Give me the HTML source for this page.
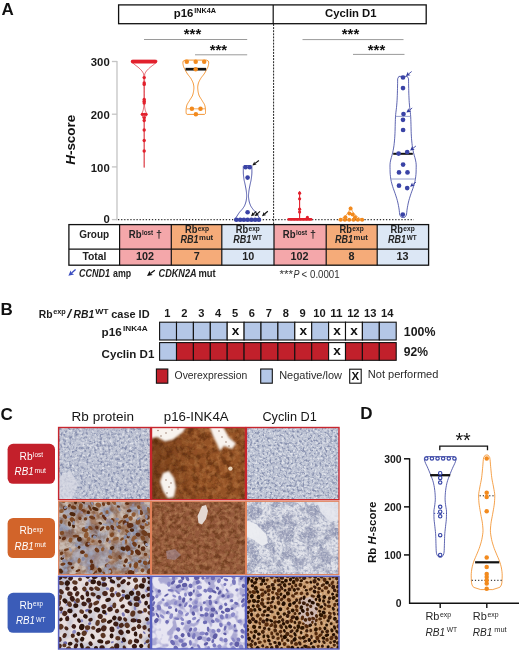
<!DOCTYPE html>
<html lang="en">
<head>
<meta charset="utf-8">
<title>Figure: p16INK4A and Cyclin D1 H-scores by Rb group</title>
<style>
html,body{margin:0;padding:0;background:#fff;}
body{width:520px;height:650px;overflow:hidden;}
svg{display:block;font-family:"Liberation Sans", Arial, sans-serif;}
</style>
</head>
<body>
<svg width="520" height="650" viewBox="0 0 520 650">
<rect x="0" y="0" width="520" height="650" fill="#ffffff"/>
<text x="1.5" y="15.0" font-size="17" font-weight="bold" font-style="normal" fill="#111" text-anchor="start">A</text>
<rect x="118.6" y="4.9" width="307.6" height="18.8" fill="#fff" stroke="#111" stroke-width="1.3"/>
<line x1="273.2" y1="5" x2="273.2" y2="24" stroke="#111" stroke-width="1.2"/>
<text x="173.8" y="17.0" font-size="11.6" font-weight="bold" font-style="normal" fill="#111" text-anchor="start" textLength="19.6" lengthAdjust="spacingAndGlyphs">p16</text>
<text x="194.3" y="13.2" font-size="7.2" font-weight="bold" font-style="normal" fill="#111" text-anchor="start" textLength="21.8" lengthAdjust="spacingAndGlyphs">INK4A</text>
<text x="325.0" y="16.9" font-size="11.6" font-weight="bold" font-style="normal" fill="#111" text-anchor="start" textLength="51.6" lengthAdjust="spacingAndGlyphs">Cyclin D1</text>
<line x1="273.6" y1="24" x2="273.6" y2="225" stroke="#222" stroke-width="1" stroke-dasharray="2,1.1"/>
<line x1="144" y1="39.5" x2="247.2" y2="39.5" stroke="#9a9a9a" stroke-width="1"/>
<line x1="195" y1="54.8" x2="247.2" y2="54.8" stroke="#9a9a9a" stroke-width="1"/>
<line x1="302.5" y1="39.6" x2="403.5" y2="39.6" stroke="#9a9a9a" stroke-width="1"/>
<line x1="353" y1="54.4" x2="404.5" y2="54.4" stroke="#9a9a9a" stroke-width="1"/>
<text x="183.8" y="39.2" font-size="14" font-weight="bold" font-style="normal" fill="#111" text-anchor="start" textLength="17.4" lengthAdjust="spacingAndGlyphs">***</text>
<text x="209.7" y="54.5" font-size="14" font-weight="bold" font-style="normal" fill="#111" text-anchor="start" textLength="17.4" lengthAdjust="spacingAndGlyphs">***</text>
<text x="341.8" y="39.2" font-size="14" font-weight="bold" font-style="normal" fill="#111" text-anchor="start" textLength="17.4" lengthAdjust="spacingAndGlyphs">***</text>
<text x="367.8" y="54.5" font-size="14" font-weight="bold" font-style="normal" fill="#111" text-anchor="start" textLength="17.4" lengthAdjust="spacingAndGlyphs">***</text>
<line x1="117.0" y1="60.9" x2="117.0" y2="220.2" stroke="#c4c4c4" stroke-width="1.3"/>
<line x1="111.9" y1="61.50" x2="117.0" y2="61.50" stroke="#c4c4c4" stroke-width="1.3"/>
<text x="109.7" y="66.2" font-size="11.3" font-weight="bold" font-style="normal" fill="#1a1a1a" text-anchor="end">300</text>
<line x1="111.9" y1="114.20" x2="117.0" y2="114.20" stroke="#c4c4c4" stroke-width="1.3"/>
<text x="109.7" y="118.9" font-size="11.3" font-weight="bold" font-style="normal" fill="#1a1a1a" text-anchor="end">200</text>
<line x1="111.9" y1="166.90" x2="117.0" y2="166.90" stroke="#c4c4c4" stroke-width="1.3"/>
<text x="109.7" y="171.6" font-size="11.3" font-weight="bold" font-style="normal" fill="#1a1a1a" text-anchor="end">100</text>
<line x1="111.9" y1="219.60" x2="117.0" y2="219.60" stroke="#c4c4c4" stroke-width="1.3"/>
<text x="109.7" y="223.2" font-size="11.3" font-weight="bold" font-style="normal" fill="#1a1a1a" text-anchor="end">0</text>
<line x1="118" y1="219.60" x2="414" y2="219.60" stroke="#333" stroke-width="1.25" stroke-dasharray="1.3,1.78"/>
<text transform="translate(75.3,139.8) rotate(-90)" font-size="13.4" font-weight="bold" fill="#111" text-anchor="middle"><tspan font-style="italic">H</tspan>-score</text>
<path d="M156.80,60.30 L156.80,61.07 L156.72,61.84 L156.09,62.61 L155.14,63.38 L154.23,64.16 L153.30,64.93 L152.29,65.70 L151.26,66.47 L150.27,67.24 L149.39,68.01 L148.58,68.78 L147.80,69.55 L147.06,70.33 L146.41,71.10 L145.88,71.87 L145.42,72.64 L145.00,73.41 L144.73,74.18 L144.69,74.95 L144.68,75.72 L144.66,76.50 L144.65,77.27 L144.63,78.04 L144.62,78.81 L144.61,79.58 L144.60,80.35 L144.59,81.12 L144.58,81.89 L144.57,82.67 L144.56,83.44 L144.56,84.21 L144.55,84.98 L144.54,85.75 L144.54,86.52 L144.53,87.29 L144.53,88.06 L144.52,88.84 L144.52,89.61 L144.52,90.38 L144.51,91.15 L144.51,91.92 L144.51,92.69 L144.51,93.46 L144.50,94.23 L144.50,95.01 L144.50,95.78 L144.50,96.55 L144.50,97.32 L144.50,98.09 L144.50,98.86 L144.50,99.63 L144.50,100.40 L144.50,101.17 L144.51,101.95 L144.52,102.72 L144.54,103.49 L144.55,104.26 L144.57,105.03 L144.59,105.80 L144.63,106.57 L144.72,107.34 L144.84,108.12 L144.98,108.89 L145.13,109.66 L145.31,110.43 L145.57,111.20 L145.88,111.97 L146.18,112.74 L146.41,113.51 L146.50,114.29 L146.39,115.06 L146.11,115.83 L145.76,116.60 L145.41,117.37 L145.16,118.14 L144.96,118.91 L144.77,119.68 L144.61,120.46 L144.52,121.23 L144.48,122.00 L144.46,122.77 L144.44,123.54 L144.42,124.31 L144.41,125.08 L144.39,125.85 L144.38,126.63 L144.37,127.40 L144.37,128.17 L144.36,128.94 L144.35,129.71 L144.35,130.48 L144.34,131.25 L144.34,132.02 L144.33,132.79 L144.32,133.57 L144.32,134.34 L144.31,135.11 L144.31,135.88 L144.30,136.65 L144.30,137.42 L144.29,138.19 L144.29,138.96 L144.28,139.74 L144.28,140.51 L144.28,141.28 L144.27,142.05 L144.27,142.82 L144.26,143.59 L144.26,144.36 L144.26,145.13 L144.25,145.91 L144.25,146.68 L144.25,147.45 L144.24,148.22 L144.24,148.99 L144.24,149.76 L144.23,150.53 L144.23,151.30 L144.23,152.08 L144.22,152.85 L144.22,153.62 L144.22,154.39 L144.22,155.16 L144.22,155.93 L144.21,156.70 L144.21,157.47 L144.21,158.25 L144.21,159.02 L144.21,159.79 L144.21,160.56 L144.20,161.33 L144.20,162.10 L144.20,162.87 L144.20,163.64 L144.20,164.42 L144.20,165.19 L144.20,165.96 L144.20,166.73 L144.20,167.50 L144.20,167.50 L144.20,166.73 L144.20,165.96 L144.20,165.19 L144.20,164.42 L144.20,163.64 L144.20,162.87 L144.20,162.10 L144.20,161.33 L144.19,160.56 L144.19,159.79 L144.19,159.02 L144.19,158.25 L144.19,157.47 L144.19,156.70 L144.18,155.93 L144.18,155.16 L144.18,154.39 L144.18,153.62 L144.18,152.85 L144.17,152.08 L144.17,151.30 L144.17,150.53 L144.16,149.76 L144.16,148.99 L144.16,148.22 L144.15,147.45 L144.15,146.68 L144.15,145.91 L144.14,145.13 L144.14,144.36 L144.14,143.59 L144.13,142.82 L144.13,142.05 L144.12,141.28 L144.12,140.51 L144.12,139.74 L144.11,138.96 L144.11,138.19 L144.10,137.42 L144.10,136.65 L144.09,135.88 L144.09,135.11 L144.08,134.34 L144.08,133.57 L144.07,132.79 L144.06,132.02 L144.06,131.25 L144.05,130.48 L144.05,129.71 L144.04,128.94 L144.03,128.17 L144.03,127.40 L144.02,126.63 L144.01,125.85 L143.99,125.08 L143.98,124.31 L143.96,123.54 L143.94,122.77 L143.92,122.00 L143.88,121.23 L143.79,120.46 L143.63,119.68 L143.44,118.91 L143.24,118.14 L142.99,117.37 L142.64,116.60 L142.29,115.83 L142.01,115.06 L141.90,114.29 L141.99,113.51 L142.22,112.74 L142.52,111.97 L142.83,111.20 L143.09,110.43 L143.27,109.66 L143.42,108.89 L143.56,108.12 L143.68,107.34 L143.77,106.57 L143.81,105.80 L143.83,105.03 L143.85,104.26 L143.86,103.49 L143.88,102.72 L143.89,101.95 L143.90,101.17 L143.90,100.40 L143.90,99.63 L143.90,98.86 L143.90,98.09 L143.90,97.32 L143.90,96.55 L143.90,95.78 L143.90,95.01 L143.90,94.23 L143.89,93.46 L143.89,92.69 L143.89,91.92 L143.89,91.15 L143.88,90.38 L143.88,89.61 L143.88,88.84 L143.87,88.06 L143.87,87.29 L143.86,86.52 L143.86,85.75 L143.85,84.98 L143.84,84.21 L143.84,83.44 L143.83,82.67 L143.82,81.89 L143.81,81.12 L143.80,80.35 L143.79,79.58 L143.78,78.81 L143.77,78.04 L143.75,77.27 L143.74,76.50 L143.72,75.72 L143.71,74.95 L143.67,74.18 L143.40,73.41 L142.98,72.64 L142.52,71.87 L141.99,71.10 L141.34,70.33 L140.60,69.55 L139.82,68.78 L139.01,68.01 L138.13,67.24 L137.14,66.47 L136.11,65.70 L135.10,64.93 L134.17,64.16 L133.26,63.38 L132.31,62.61 L131.68,61.84 L131.60,61.07 L131.60,60.30 Z" fill="none" stroke="#D81F2B" stroke-width="0.7" stroke-linejoin="round"/>
<line x1="132.7" y1="61.6" x2="155.3" y2="61.6" stroke="#E2202C" stroke-width="3.7" stroke-linecap="round"/>
<circle cx="144.2" cy="77.6" r="1.7" fill="#E2202C" stroke="none" stroke-width="0"/>
<circle cx="144.2" cy="83.0" r="1.7" fill="#E2202C" stroke="none" stroke-width="0"/>
<circle cx="144.2" cy="84.4" r="1.7" fill="#E2202C" stroke="none" stroke-width="0"/>
<circle cx="144.2" cy="99.4" r="1.7" fill="#E2202C" stroke="none" stroke-width="0"/>
<circle cx="144.2" cy="101.2" r="1.7" fill="#E2202C" stroke="none" stroke-width="0"/>
<circle cx="144.2" cy="103.0" r="1.7" fill="#E2202C" stroke="none" stroke-width="0"/>
<circle cx="144.2" cy="117.6" r="1.7" fill="#E2202C" stroke="none" stroke-width="0"/>
<circle cx="144.2" cy="120.5" r="1.7" fill="#E2202C" stroke="none" stroke-width="0"/>
<circle cx="144.2" cy="130" r="1.7" fill="#E2202C" stroke="none" stroke-width="0"/>
<circle cx="144.2" cy="140.5" r="1.7" fill="#E2202C" stroke="none" stroke-width="0"/>
<circle cx="144.2" cy="151" r="1.7" fill="#E2202C" stroke="none" stroke-width="0"/>
<circle cx="142.3" cy="114.3" r="1.6" fill="#E2202C" stroke="none" stroke-width="0"/>
<circle cx="144.2" cy="114.3" r="1.6" fill="#E2202C" stroke="none" stroke-width="0"/>
<circle cx="146.1" cy="114.3" r="1.6" fill="#E2202C" stroke="none" stroke-width="0"/>
<path d="M206.40,60.10 L208.31,61.02 L208.61,61.94 L208.70,62.86 L208.64,63.78 L208.49,64.70 L208.29,65.62 L208.04,66.54 L207.67,67.46 L207.21,68.38 L206.75,69.30 L206.28,70.22 L205.79,71.14 L205.27,72.06 L204.72,72.98 L204.13,73.91 L203.47,74.83 L202.75,75.75 L202.01,76.67 L201.31,77.59 L200.69,78.51 L200.17,79.43 L199.67,80.35 L199.20,81.27 L198.78,82.19 L198.44,83.11 L198.19,84.03 L198.00,84.95 L197.84,85.87 L197.73,86.79 L197.70,87.71 L197.74,88.63 L197.83,89.55 L197.93,90.47 L198.05,91.39 L198.21,92.31 L198.41,93.23 L198.65,94.15 L198.92,95.07 L199.30,95.99 L199.80,96.91 L200.38,97.83 L200.98,98.75 L201.57,99.67 L202.11,100.59 L202.67,101.52 L203.26,102.44 L203.83,103.36 L204.34,104.28 L204.73,105.20 L204.97,106.12 L205.16,107.04 L205.32,107.96 L205.44,108.88 L205.50,109.80 L205.50,110.72 L205.50,111.64 L205.50,112.56 L205.50,113.48 L204.40,114.40 L187.20,114.40 L186.10,113.48 L186.10,112.56 L186.10,111.64 L186.10,110.72 L186.10,109.80 L186.16,108.88 L186.28,107.96 L186.44,107.04 L186.63,106.12 L186.87,105.20 L187.26,104.28 L187.77,103.36 L188.34,102.44 L188.93,101.52 L189.49,100.59 L190.03,99.67 L190.62,98.75 L191.22,97.83 L191.80,96.91 L192.30,95.99 L192.68,95.07 L192.95,94.15 L193.19,93.23 L193.39,92.31 L193.55,91.39 L193.67,90.47 L193.77,89.55 L193.86,88.63 L193.90,87.71 L193.87,86.79 L193.76,85.87 L193.60,84.95 L193.41,84.03 L193.16,83.11 L192.82,82.19 L192.40,81.27 L191.93,80.35 L191.43,79.43 L190.91,78.51 L190.29,77.59 L189.59,76.67 L188.85,75.75 L188.13,74.83 L187.47,73.91 L186.88,72.98 L186.33,72.06 L185.81,71.14 L185.32,70.22 L184.85,69.30 L184.39,68.38 L183.93,67.46 L183.56,66.54 L183.31,65.62 L183.11,64.70 L182.96,63.78 L182.90,62.86 L182.99,61.94 L183.29,61.02 L185.20,60.10 Z" fill="none" stroke="#F28A1E" stroke-width="0.9" stroke-linejoin="round"/>
<line x1="185.5" y1="69.2" x2="206.1" y2="69.2" stroke="#111" stroke-width="2.7"/>
<line x1="186.6" y1="108.8" x2="205.0" y2="108.8" stroke="#F28A1E" stroke-width="0.7"/>
<circle cx="186.8" cy="61.7" r="2.25" fill="#F28A1E" stroke="none" stroke-width="0"/>
<circle cx="195.7" cy="61.7" r="2.25" fill="#F28A1E" stroke="none" stroke-width="0"/>
<circle cx="204.2" cy="61.7" r="2.25" fill="#F28A1E" stroke="none" stroke-width="0"/>
<circle cx="195.7" cy="69.2" r="2.25" fill="#F28A1E" stroke="none" stroke-width="0"/>
<circle cx="191.9" cy="108.8" r="2.25" fill="#F28A1E" stroke="none" stroke-width="0"/>
<circle cx="200.5" cy="108.8" r="2.25" fill="#F28A1E" stroke="none" stroke-width="0"/>
<circle cx="195.9" cy="114.2" r="2.25" fill="#F28A1E" stroke="none" stroke-width="0"/>
<path d="M251.20,165.50 L251.90,166.44 L251.90,167.37 L251.90,168.31 L251.90,169.24 L251.90,170.18 L251.90,171.11 L251.90,172.05 L251.88,172.98 L251.83,173.92 L251.75,174.86 L251.66,175.79 L251.55,176.73 L251.44,177.66 L251.32,178.60 L251.17,179.53 L251.00,180.47 L250.80,181.41 L250.59,182.34 L250.37,183.28 L250.16,184.21 L249.96,185.15 L249.78,186.08 L249.61,187.02 L249.43,187.95 L249.26,188.89 L249.10,189.83 L248.95,190.76 L248.83,191.70 L248.73,192.63 L248.64,193.57 L248.56,194.50 L248.51,195.44 L248.51,196.37 L248.56,197.31 L248.66,198.25 L248.78,199.18 L248.92,200.12 L249.09,201.05 L249.31,201.99 L249.59,202.92 L249.90,203.86 L250.26,204.79 L250.65,205.73 L251.16,206.67 L251.78,207.60 L252.46,208.54 L253.17,209.47 L254.02,210.41 L254.89,211.34 L255.68,212.28 L256.36,213.22 L256.99,214.15 L257.59,215.09 L258.18,216.02 L258.77,216.96 L259.50,217.89 L260.24,218.83 L260.60,219.76 L260.60,220.70 L234.60,220.70 L234.60,219.76 L234.96,218.83 L235.70,217.89 L236.43,216.96 L237.02,216.02 L237.61,215.09 L238.21,214.15 L238.84,213.22 L239.52,212.28 L240.31,211.34 L241.18,210.41 L242.03,209.47 L242.74,208.54 L243.42,207.60 L244.04,206.67 L244.55,205.73 L244.94,204.79 L245.30,203.86 L245.61,202.92 L245.89,201.99 L246.11,201.05 L246.28,200.12 L246.42,199.18 L246.54,198.25 L246.64,197.31 L246.69,196.37 L246.69,195.44 L246.64,194.50 L246.56,193.57 L246.47,192.63 L246.37,191.70 L246.25,190.76 L246.10,189.83 L245.94,188.89 L245.77,187.95 L245.59,187.02 L245.42,186.08 L245.24,185.15 L245.04,184.21 L244.83,183.28 L244.61,182.34 L244.40,181.41 L244.20,180.47 L244.03,179.53 L243.88,178.60 L243.76,177.66 L243.65,176.73 L243.54,175.79 L243.45,174.86 L243.37,173.92 L243.32,172.98 L243.30,172.05 L243.30,171.11 L243.30,170.18 L243.30,169.24 L243.30,168.31 L243.30,167.37 L243.30,166.44 L244.00,165.50 Z" fill="none" stroke="#353D9C" stroke-width="0.85" stroke-linejoin="round"/>
<circle cx="245.6" cy="167.3" r="2.3" fill="#3A43A6" stroke="none" stroke-width="0"/>
<circle cx="249.7" cy="167.3" r="2.3" fill="#3A43A6" stroke="none" stroke-width="0"/>
<circle cx="247.6" cy="177.6" r="2.3" fill="#3A43A6" stroke="none" stroke-width="0"/>
<circle cx="247.6" cy="212.2" r="2.3" fill="#3A43A6" stroke="none" stroke-width="0"/>
<circle cx="236.4" cy="219.7" r="2.3" fill="#3A43A6" stroke="none" stroke-width="0"/>
<circle cx="240.15" cy="219.7" r="2.3" fill="#3A43A6" stroke="none" stroke-width="0"/>
<circle cx="243.9" cy="219.7" r="2.3" fill="#3A43A6" stroke="none" stroke-width="0"/>
<circle cx="247.65" cy="219.7" r="2.3" fill="#3A43A6" stroke="none" stroke-width="0"/>
<circle cx="251.4" cy="219.7" r="2.3" fill="#3A43A6" stroke="none" stroke-width="0"/>
<circle cx="255.15" cy="219.7" r="2.3" fill="#3A43A6" stroke="none" stroke-width="0"/>
<circle cx="258.9" cy="219.7" r="2.3" fill="#3A43A6" stroke="none" stroke-width="0"/>
<path d="M258.90,160.50 L254.71,163.61" fill="none" stroke="#111" stroke-width="1.15" stroke-linecap="butt"/>
<path d="M252.30,165.40 L254.35,161.45 L254.79,163.55 L256.67,164.58 Z" fill="#111"/>
<path d="M256.20,211.40 L253.20,214.17" fill="none" stroke="#111" stroke-width="1.15" stroke-linecap="butt"/>
<path d="M251.00,216.20 L252.62,212.05 L253.28,214.10 L255.26,214.92 Z" fill="#111"/>
<path d="M260.00,211.40 L257.00,214.17" fill="none" stroke="#111" stroke-width="1.15" stroke-linecap="butt"/>
<path d="M254.80,216.20 L256.42,212.05 L257.08,214.10 L259.06,214.92 Z" fill="#111"/>
<path d="M267.80,211.20 L264.27,214.24" fill="none" stroke="#111" stroke-width="1.15" stroke-linecap="butt"/>
<path d="M262.00,216.20 L263.76,212.11 L264.35,214.18 L266.30,215.07 Z" fill="#111"/>
<line x1="299.6" y1="191.2" x2="299.6" y2="219" stroke="#E2202C" stroke-width="1.1"/>
<line x1="288.7" y1="219.4" x2="311.1" y2="219.4" stroke="#E2202C" stroke-width="2.8" stroke-linecap="round"/>
<circle cx="299.6" cy="193.2" r="1.6" fill="#E2202C" stroke="none" stroke-width="0"/>
<circle cx="299.6" cy="198.8" r="1.6" fill="#E2202C" stroke="none" stroke-width="0"/>
<circle cx="299.6" cy="209.2" r="1.6" fill="#E2202C" stroke="none" stroke-width="0"/>
<circle cx="299.6" cy="212.0" r="1.6" fill="#E2202C" stroke="none" stroke-width="0"/>
<circle cx="307.4" cy="217.4" r="1.6" fill="#E2202C" stroke="none" stroke-width="0"/>
<path d="M350.6,206.8 Q348.1,216.5 338.6,220.2 L364,220.2 Q353.1,216.5 350.6,206.8 Z" fill="none" stroke="#F28A1E" stroke-width="0.7" stroke-linejoin="round"/>
<circle cx="350.6" cy="208.6" r="2.0" fill="#F28A1E" stroke="none" stroke-width="0"/>
<circle cx="349.4" cy="213.4" r="2.0" fill="#F28A1E" stroke="none" stroke-width="0"/>
<circle cx="352.6" cy="214.6" r="2.0" fill="#F28A1E" stroke="none" stroke-width="0"/>
<circle cx="345.4" cy="217.2" r="2.0" fill="#F28A1E" stroke="none" stroke-width="0"/>
<circle cx="355.0" cy="217.2" r="2.0" fill="#F28A1E" stroke="none" stroke-width="0"/>
<circle cx="340.6" cy="219.7" r="2.0" fill="#F28A1E" stroke="none" stroke-width="0"/>
<circle cx="344.90000000000003" cy="219.7" r="2.0" fill="#F28A1E" stroke="none" stroke-width="0"/>
<circle cx="349.20000000000005" cy="219.7" r="2.0" fill="#F28A1E" stroke="none" stroke-width="0"/>
<circle cx="353.5" cy="219.7" r="2.0" fill="#F28A1E" stroke="none" stroke-width="0"/>
<circle cx="357.8" cy="219.7" r="2.0" fill="#F28A1E" stroke="none" stroke-width="0"/>
<circle cx="362.1" cy="219.7" r="2.0" fill="#F28A1E" stroke="none" stroke-width="0"/>
<path d="M407.30,76.40 L408.55,78.79 L408.57,81.18 L408.59,83.57 L408.64,85.96 L408.69,88.35 L408.75,90.74 L408.81,93.13 L408.90,95.52 L409.00,97.91 L409.12,100.30 L409.28,102.69 L409.47,105.08 L409.69,107.47 L409.97,109.86 L410.28,112.25 L410.54,114.64 L410.72,117.03 L410.82,119.42 L410.90,121.81 L410.97,124.20 L411.02,126.59 L411.08,128.98 L411.15,131.37 L411.24,133.76 L411.36,136.15 L411.53,138.54 L411.74,140.93 L411.98,143.32 L412.26,145.71 L412.61,148.09 L413.07,150.48 L413.58,152.87 L414.19,155.26 L414.91,157.65 L415.51,160.04 L415.98,162.43 L416.20,164.82 L416.19,167.21 L416.15,169.60 L416.10,171.99 L415.96,174.38 L415.70,176.77 L415.38,179.16 L414.91,181.55 L414.29,183.94 L413.60,186.33 L412.81,188.72 L411.92,191.11 L411.06,193.50 L410.28,195.89 L409.52,198.28 L408.83,200.67 L408.26,203.06 L407.77,205.45 L407.34,207.84 L406.97,210.23 L406.73,212.62 L406.41,215.01 L404.70,217.40 L401.50,217.40 L399.79,215.01 L399.47,212.62 L399.23,210.23 L398.86,207.84 L398.43,205.45 L397.94,203.06 L397.37,200.67 L396.68,198.28 L395.92,195.89 L395.14,193.50 L394.28,191.11 L393.39,188.72 L392.60,186.33 L391.91,183.94 L391.29,181.55 L390.82,179.16 L390.50,176.77 L390.24,174.38 L390.10,171.99 L390.05,169.60 L390.01,167.21 L390.00,164.82 L390.22,162.43 L390.69,160.04 L391.29,157.65 L392.01,155.26 L392.62,152.87 L393.13,150.48 L393.59,148.09 L393.94,145.71 L394.22,143.32 L394.46,140.93 L394.67,138.54 L394.84,136.15 L394.96,133.76 L395.05,131.37 L395.12,128.98 L395.18,126.59 L395.23,124.20 L395.30,121.81 L395.38,119.42 L395.48,117.03 L395.66,114.64 L395.92,112.25 L396.23,109.86 L396.51,107.47 L396.73,105.08 L396.92,102.69 L397.08,100.30 L397.20,97.91 L397.30,95.52 L397.39,93.13 L397.45,90.74 L397.51,88.35 L397.56,85.96 L397.61,83.57 L397.63,81.18 L397.65,78.79 L398.90,76.40 Z" fill="none" stroke="#353D9C" stroke-width="0.8" stroke-linejoin="round"/>
<line x1="395.6" y1="116.4" x2="410.6" y2="116.4" stroke="#8f97c8" stroke-width="0.9"/>
<line x1="391" y1="179" x2="415.2" y2="179" stroke="#8f97c8" stroke-width="0.9"/>
<line x1="393.2" y1="153.8" x2="412.8" y2="153.8" stroke="#111" stroke-width="2.0"/>
<circle cx="403.0" cy="77.5" r="2.35" fill="#3A43A6" stroke="none" stroke-width="0"/>
<circle cx="403.0" cy="88.1" r="2.35" fill="#3A43A6" stroke="none" stroke-width="0"/>
<circle cx="403.5" cy="114.0" r="2.35" fill="#3A43A6" stroke="none" stroke-width="0"/>
<circle cx="403.0" cy="119.8" r="2.35" fill="#3A43A6" stroke="none" stroke-width="0"/>
<circle cx="403.1" cy="130.0" r="2.35" fill="#3A43A6" stroke="none" stroke-width="0"/>
<circle cx="398.6" cy="153.6" r="2.35" fill="#3A43A6" stroke="none" stroke-width="0"/>
<circle cx="407.2" cy="152.0" r="2.35" fill="#3A43A6" stroke="none" stroke-width="0"/>
<circle cx="403.1" cy="164.6" r="2.35" fill="#3A43A6" stroke="none" stroke-width="0"/>
<circle cx="399.0" cy="172.4" r="2.35" fill="#3A43A6" stroke="none" stroke-width="0"/>
<circle cx="407.5" cy="172.4" r="2.35" fill="#3A43A6" stroke="none" stroke-width="0"/>
<circle cx="399.0" cy="185.7" r="2.35" fill="#3A43A6" stroke="none" stroke-width="0"/>
<circle cx="407.2" cy="188.1" r="2.35" fill="#3A43A6" stroke="none" stroke-width="0"/>
<circle cx="402.8" cy="214.6" r="2.35" fill="#3A43A6" stroke="none" stroke-width="0"/>
<path d="M411.70,71.50 L408.41,74.11" fill="none" stroke="#2F389C" stroke-width="0.85" stroke-linecap="butt"/>
<path d="M405.90,76.10 L407.89,71.84 L408.49,74.05 L410.50,75.14 Z" fill="#2F389C"/>
<path d="M412.20,108.00 L408.91,110.61" fill="none" stroke="#2F389C" stroke-width="0.85" stroke-linecap="butt"/>
<path d="M406.40,112.60 L408.39,108.34 L408.99,110.55 L411.00,111.64 Z" fill="#2F389C"/>
<path d="M415.90,146.00 L412.61,148.61" fill="none" stroke="#2F389C" stroke-width="0.85" stroke-linecap="butt"/>
<path d="M410.10,150.60 L412.09,146.34 L412.69,148.55 L414.70,149.64 Z" fill="#2F389C"/>
<path d="M415.90,182.20 L412.61,184.81" fill="none" stroke="#2F389C" stroke-width="0.85" stroke-linecap="butt"/>
<path d="M410.10,186.80 L412.09,182.54 L412.69,184.75 L414.70,185.84 Z" fill="#2F389C"/>
<rect x="68.9" y="224.6" width="50.70" height="40.60" fill="#ffffff"/>
<rect x="119.6" y="224.6" width="51.70" height="40.60" fill="#F4A7AA"/>
<rect x="171.3" y="224.6" width="50.50" height="40.60" fill="#F5AB79"/>
<rect x="221.8" y="224.6" width="52.20" height="40.60" fill="#DCE7F5"/>
<rect x="274.0" y="224.6" width="52.20" height="40.60" fill="#F4A7AA"/>
<rect x="326.2" y="224.6" width="51.00" height="40.60" fill="#F5AB79"/>
<rect x="377.2" y="224.6" width="51.40" height="40.60" fill="#DCE7F5"/>
<rect x="68.9" y="224.6" width="359.70" height="40.60" fill="none" stroke="#111" stroke-width="1.3"/>
<line x1="68.9" y1="249.2" x2="428.6" y2="249.2" stroke="#111" stroke-width="1.2"/>
<line x1="119.6" y1="224.6" x2="119.6" y2="265.2" stroke="#111" stroke-width="1.2"/>
<line x1="171.3" y1="224.6" x2="171.3" y2="265.2" stroke="#111" stroke-width="1.2"/>
<line x1="221.8" y1="224.6" x2="221.8" y2="265.2" stroke="#111" stroke-width="1.2"/>
<line x1="274.0" y1="224.6" x2="274.0" y2="265.2" stroke="#111" stroke-width="1.2"/>
<line x1="326.2" y1="224.6" x2="326.2" y2="265.2" stroke="#111" stroke-width="1.2"/>
<line x1="377.2" y1="224.6" x2="377.2" y2="265.2" stroke="#111" stroke-width="1.2"/>
<text x="79.2" y="238.3" font-size="10.6" font-weight="bold" font-style="normal" fill="#222" text-anchor="start" textLength="30.0" lengthAdjust="spacingAndGlyphs">Group</text>
<text x="82.4" y="259.6" font-size="10.6" font-weight="bold" font-style="normal" fill="#222" text-anchor="start" textLength="24.0" lengthAdjust="spacingAndGlyphs">Total</text>
<text x="128.8" y="238.3" font-size="10.6" font-weight="bold" font-style="normal" fill="#222" text-anchor="start" textLength="12.8" lengthAdjust="spacingAndGlyphs">Rb</text>
<text x="142.0" y="234.9" font-size="7.0" font-weight="bold" font-style="normal" fill="#222" text-anchor="start" textLength="11.2" lengthAdjust="spacingAndGlyphs">lost</text>
<text x="156.0" y="238.3" font-size="10.6" font-weight="bold" font-style="normal" fill="#222" text-anchor="start" textLength="6.0" lengthAdjust="spacingAndGlyphs">†</text>
<text x="185.0" y="233.1" font-size="10.4" font-weight="bold" font-style="normal" fill="#222" text-anchor="start" textLength="12.4" lengthAdjust="spacingAndGlyphs">Rb</text>
<text x="197.70000000000002" y="230.6" font-size="7.2" font-weight="bold" font-style="normal" fill="#222" text-anchor="start" textLength="11.4" lengthAdjust="spacingAndGlyphs">exp</text>
<text x="180.4" y="242.9" font-size="10.4" font-weight="bold" font-style="italic" fill="#222" text-anchor="start" textLength="18.0" lengthAdjust="spacingAndGlyphs">RB1</text>
<text x="199.0" y="240.0" font-size="7.2" font-weight="bold" font-style="normal" fill="#222" text-anchor="start" textLength="14.199999999999996" lengthAdjust="spacingAndGlyphs">mut</text>
<text x="235.79999999999998" y="233.1" font-size="10.4" font-weight="bold" font-style="normal" fill="#222" text-anchor="start" textLength="12.4" lengthAdjust="spacingAndGlyphs">Rb</text>
<text x="248.5" y="230.6" font-size="7.2" font-weight="bold" font-style="normal" fill="#222" text-anchor="start" textLength="11.4" lengthAdjust="spacingAndGlyphs">exp</text>
<text x="233.29999999999998" y="242.9" font-size="10.4" font-weight="bold" font-style="italic" fill="#222" text-anchor="start" textLength="18.0" lengthAdjust="spacingAndGlyphs">RB1</text>
<text x="251.89999999999998" y="240.0" font-size="7.2" font-weight="bold" font-style="normal" fill="#222" text-anchor="start" textLength="10.0" lengthAdjust="spacingAndGlyphs">WT</text>
<text x="282.8" y="238.3" font-size="10.6" font-weight="bold" font-style="normal" fill="#222" text-anchor="start" textLength="12.8" lengthAdjust="spacingAndGlyphs">Rb</text>
<text x="296.0" y="234.9" font-size="7.0" font-weight="bold" font-style="normal" fill="#222" text-anchor="start" textLength="11.2" lengthAdjust="spacingAndGlyphs">lost</text>
<text x="310.0" y="238.3" font-size="10.6" font-weight="bold" font-style="normal" fill="#222" text-anchor="start" textLength="6.0" lengthAdjust="spacingAndGlyphs">†</text>
<text x="339.59999999999997" y="233.1" font-size="10.4" font-weight="bold" font-style="normal" fill="#222" text-anchor="start" textLength="12.4" lengthAdjust="spacingAndGlyphs">Rb</text>
<text x="352.29999999999995" y="230.6" font-size="7.2" font-weight="bold" font-style="normal" fill="#222" text-anchor="start" textLength="11.4" lengthAdjust="spacingAndGlyphs">exp</text>
<text x="335.0" y="242.9" font-size="10.4" font-weight="bold" font-style="italic" fill="#222" text-anchor="start" textLength="18.0" lengthAdjust="spacingAndGlyphs">RB1</text>
<text x="353.6" y="240.0" font-size="7.2" font-weight="bold" font-style="normal" fill="#222" text-anchor="start" textLength="14.199999999999996" lengthAdjust="spacingAndGlyphs">mut</text>
<text x="390.59999999999997" y="233.1" font-size="10.4" font-weight="bold" font-style="normal" fill="#222" text-anchor="start" textLength="12.4" lengthAdjust="spacingAndGlyphs">Rb</text>
<text x="403.29999999999995" y="230.6" font-size="7.2" font-weight="bold" font-style="normal" fill="#222" text-anchor="start" textLength="11.4" lengthAdjust="spacingAndGlyphs">exp</text>
<text x="388.09999999999997" y="242.9" font-size="10.4" font-weight="bold" font-style="italic" fill="#222" text-anchor="start" textLength="18.0" lengthAdjust="spacingAndGlyphs">RB1</text>
<text x="406.7" y="240.0" font-size="7.2" font-weight="bold" font-style="normal" fill="#222" text-anchor="start" textLength="10.0" lengthAdjust="spacingAndGlyphs">WT</text>
<text x="145.0" y="259.6" font-size="10.8" font-weight="bold" font-style="normal" fill="#222" text-anchor="middle">102</text>
<text x="196.8" y="259.6" font-size="10.8" font-weight="bold" font-style="normal" fill="#222" text-anchor="middle">7</text>
<text x="248.2" y="259.6" font-size="10.8" font-weight="bold" font-style="normal" fill="#222" text-anchor="middle">10</text>
<text x="299.6" y="259.6" font-size="10.8" font-weight="bold" font-style="normal" fill="#222" text-anchor="middle">102</text>
<text x="351.4" y="259.6" font-size="10.8" font-weight="bold" font-style="normal" fill="#222" text-anchor="middle">8</text>
<text x="402.6" y="259.6" font-size="10.8" font-weight="bold" font-style="normal" fill="#222" text-anchor="middle">13</text>
<path d="M75.60,269.60 L71.58,273.06" fill="none" stroke="#3A4CC0" stroke-width="1.3" stroke-linecap="butt"/>
<path d="M68.40,275.80 L70.64,270.44 L71.66,272.99 L74.04,274.38 Z" fill="#3A4CC0"/>
<text x="79.0" y="277.2" font-size="10.6" font-weight="bold" font-style="italic" fill="#222" text-anchor="start" textLength="30.9" lengthAdjust="spacingAndGlyphs">CCND1</text>
<text x="113.0" y="277.2" font-size="10.6" font-weight="bold" font-style="normal" fill="#222" text-anchor="start" textLength="18.2" lengthAdjust="spacingAndGlyphs">amp</text>
<path d="M154.80,270.20 L150.37,273.49" fill="none" stroke="#111" stroke-width="1.3" stroke-linecap="butt"/>
<path d="M147.00,276.00 L149.62,270.81 L150.45,273.43 L152.72,274.98 Z" fill="#111"/>
<text x="158.6" y="277.2" font-size="10.6" font-weight="bold" font-style="italic" fill="#222" text-anchor="start" textLength="38.0" lengthAdjust="spacingAndGlyphs">CDKN2A</text>
<text x="198.4" y="277.2" font-size="10.6" font-weight="bold" font-style="normal" fill="#222" text-anchor="start" textLength="17.2" lengthAdjust="spacingAndGlyphs">mut</text>
<text x="278.9" y="278.2" font-size="10.6" font-weight="normal" font-style="italic" fill="#2e2e2e" text-anchor="start" textLength="13.6" lengthAdjust="spacingAndGlyphs">***</text>
<text x="293.6" y="277.7" font-size="10.2" font-weight="normal" font-style="italic" fill="#2e2e2e" text-anchor="start" textLength="6.0" lengthAdjust="spacingAndGlyphs">P</text>
<text x="301.6" y="277.7" font-size="10.2" font-weight="normal" font-style="normal" fill="#2e2e2e" text-anchor="start" textLength="5.6" lengthAdjust="spacingAndGlyphs">&lt;</text>
<text x="310.0" y="277.7" font-size="10.2" font-weight="normal" font-style="normal" fill="#2e2e2e" text-anchor="start" textLength="29.6" lengthAdjust="spacingAndGlyphs">0.0001</text>
<text x="0.5" y="314.6" font-size="17" font-weight="bold" font-style="normal" fill="#111" text-anchor="start">B</text>
<text x="38.8" y="317.6" font-size="11.6" font-weight="bold" font-style="normal" fill="#1a1a1a" text-anchor="start" textLength="13.8" lengthAdjust="spacingAndGlyphs">Rb</text>
<text x="53.2" y="314.4" font-size="8.0" font-weight="bold" font-style="normal" fill="#1a1a1a" text-anchor="start" textLength="12.6" lengthAdjust="spacingAndGlyphs">exp</text>
<text x="66.8" y="317.8" font-size="12.4" font-weight="normal" font-style="normal" fill="#1a1a1a" text-anchor="start" textLength="5.6" lengthAdjust="spacingAndGlyphs">/</text>
<text x="73.6" y="317.6" font-size="11.6" font-weight="bold" font-style="italic" fill="#1a1a1a" text-anchor="start" textLength="20.6" lengthAdjust="spacingAndGlyphs">RB1</text>
<text x="95.2" y="314.4" font-size="8.0" font-weight="bold" font-style="normal" fill="#1a1a1a" text-anchor="start" textLength="13.4" lengthAdjust="spacingAndGlyphs">WT</text>
<text x="111.2" y="317.6" font-size="11.6" font-weight="bold" font-style="normal" fill="#1a1a1a" text-anchor="start" textLength="38.4" lengthAdjust="spacingAndGlyphs">case ID</text>
<text x="101.6" y="336.3" font-size="11.6" font-weight="bold" font-style="normal" fill="#1a1a1a" text-anchor="start" textLength="20.2" lengthAdjust="spacingAndGlyphs">p16</text>
<text x="123.0" y="330.8" font-size="7.8" font-weight="bold" font-style="normal" fill="#1a1a1a" text-anchor="start" textLength="24.6" lengthAdjust="spacingAndGlyphs">INK4A</text>
<text x="101.6" y="357.9" font-size="11.6" font-weight="bold" font-style="normal" fill="#1a1a1a" text-anchor="start" textLength="52.8" lengthAdjust="spacingAndGlyphs">Cyclin D1</text>
<rect x="159.60" y="322.2" width="16.9" height="17.80" fill="#B4C7E7" stroke="#111" stroke-width="1.1"/>
<rect x="176.50" y="322.2" width="16.9" height="17.80" fill="#B4C7E7" stroke="#111" stroke-width="1.1"/>
<rect x="193.40" y="322.2" width="16.9" height="17.80" fill="#B4C7E7" stroke="#111" stroke-width="1.1"/>
<rect x="210.30" y="322.2" width="16.9" height="17.80" fill="#B4C7E7" stroke="#111" stroke-width="1.1"/>
<rect x="227.20" y="322.2" width="16.9" height="17.80" fill="#ffffff" stroke="#111" stroke-width="1.1"/>
<text x="231.85" y="334.6" font-size="12" font-weight="bold" font-style="normal" fill="#111" text-anchor="start" textLength="7.6" lengthAdjust="spacingAndGlyphs">x</text>
<rect x="244.10" y="322.2" width="16.9" height="17.80" fill="#B4C7E7" stroke="#111" stroke-width="1.1"/>
<rect x="261.00" y="322.2" width="16.9" height="17.80" fill="#B4C7E7" stroke="#111" stroke-width="1.1"/>
<rect x="277.90" y="322.2" width="16.9" height="17.80" fill="#B4C7E7" stroke="#111" stroke-width="1.1"/>
<rect x="294.80" y="322.2" width="16.9" height="17.80" fill="#ffffff" stroke="#111" stroke-width="1.1"/>
<text x="299.45" y="334.6" font-size="12" font-weight="bold" font-style="normal" fill="#111" text-anchor="start" textLength="7.6" lengthAdjust="spacingAndGlyphs">x</text>
<rect x="311.70" y="322.2" width="16.9" height="17.80" fill="#B4C7E7" stroke="#111" stroke-width="1.1"/>
<rect x="328.60" y="322.2" width="16.9" height="17.80" fill="#ffffff" stroke="#111" stroke-width="1.1"/>
<text x="333.25" y="334.6" font-size="12" font-weight="bold" font-style="normal" fill="#111" text-anchor="start" textLength="7.6" lengthAdjust="spacingAndGlyphs">x</text>
<rect x="345.50" y="322.2" width="16.9" height="17.80" fill="#ffffff" stroke="#111" stroke-width="1.1"/>
<text x="350.15" y="334.6" font-size="12" font-weight="bold" font-style="normal" fill="#111" text-anchor="start" textLength="7.6" lengthAdjust="spacingAndGlyphs">x</text>
<rect x="362.40" y="322.2" width="16.9" height="17.80" fill="#B4C7E7" stroke="#111" stroke-width="1.1"/>
<rect x="379.30" y="322.2" width="16.9" height="17.80" fill="#B4C7E7" stroke="#111" stroke-width="1.1"/>
<rect x="159.60" y="342.6" width="16.9" height="17.70" fill="#B4C7E7" stroke="#111" stroke-width="1.1"/>
<rect x="176.50" y="342.6" width="16.9" height="17.70" fill="#C1202B" stroke="#111" stroke-width="1.1"/>
<rect x="193.40" y="342.6" width="16.9" height="17.70" fill="#C1202B" stroke="#111" stroke-width="1.1"/>
<rect x="210.30" y="342.6" width="16.9" height="17.70" fill="#C1202B" stroke="#111" stroke-width="1.1"/>
<rect x="227.20" y="342.6" width="16.9" height="17.70" fill="#C1202B" stroke="#111" stroke-width="1.1"/>
<rect x="244.10" y="342.6" width="16.9" height="17.70" fill="#C1202B" stroke="#111" stroke-width="1.1"/>
<rect x="261.00" y="342.6" width="16.9" height="17.70" fill="#C1202B" stroke="#111" stroke-width="1.1"/>
<rect x="277.90" y="342.6" width="16.9" height="17.70" fill="#C1202B" stroke="#111" stroke-width="1.1"/>
<rect x="294.80" y="342.6" width="16.9" height="17.70" fill="#C1202B" stroke="#111" stroke-width="1.1"/>
<rect x="311.70" y="342.6" width="16.9" height="17.70" fill="#C1202B" stroke="#111" stroke-width="1.1"/>
<rect x="328.60" y="342.6" width="16.9" height="17.70" fill="#ffffff" stroke="#111" stroke-width="1.1"/>
<text x="333.25" y="354.95" font-size="12" font-weight="bold" font-style="normal" fill="#111" text-anchor="start" textLength="7.6" lengthAdjust="spacingAndGlyphs">x</text>
<rect x="345.50" y="342.6" width="16.9" height="17.70" fill="#C1202B" stroke="#111" stroke-width="1.1"/>
<rect x="362.40" y="342.6" width="16.9" height="17.70" fill="#C1202B" stroke="#111" stroke-width="1.1"/>
<rect x="379.30" y="342.6" width="16.9" height="17.70" fill="#C1202B" stroke="#111" stroke-width="1.1"/>
<text x="164.35" y="317.3" font-size="10.8" font-weight="bold" font-style="normal" fill="#1a1a1a" text-anchor="start" textLength="6.2" lengthAdjust="spacingAndGlyphs">1</text>
<text x="181.25" y="317.3" font-size="10.8" font-weight="bold" font-style="normal" fill="#1a1a1a" text-anchor="start" textLength="6.2" lengthAdjust="spacingAndGlyphs">2</text>
<text x="198.15" y="317.3" font-size="10.8" font-weight="bold" font-style="normal" fill="#1a1a1a" text-anchor="start" textLength="6.2" lengthAdjust="spacingAndGlyphs">3</text>
<text x="215.05" y="317.3" font-size="10.8" font-weight="bold" font-style="normal" fill="#1a1a1a" text-anchor="start" textLength="6.2" lengthAdjust="spacingAndGlyphs">4</text>
<text x="231.95" y="317.3" font-size="10.8" font-weight="bold" font-style="normal" fill="#1a1a1a" text-anchor="start" textLength="6.2" lengthAdjust="spacingAndGlyphs">5</text>
<text x="248.85" y="317.3" font-size="10.8" font-weight="bold" font-style="normal" fill="#1a1a1a" text-anchor="start" textLength="6.2" lengthAdjust="spacingAndGlyphs">6</text>
<text x="265.75" y="317.3" font-size="10.8" font-weight="bold" font-style="normal" fill="#1a1a1a" text-anchor="start" textLength="6.2" lengthAdjust="spacingAndGlyphs">7</text>
<text x="282.65" y="317.3" font-size="10.8" font-weight="bold" font-style="normal" fill="#1a1a1a" text-anchor="start" textLength="6.2" lengthAdjust="spacingAndGlyphs">8</text>
<text x="299.55" y="317.3" font-size="10.8" font-weight="bold" font-style="normal" fill="#1a1a1a" text-anchor="start" textLength="6.2" lengthAdjust="spacingAndGlyphs">9</text>
<text x="313.35" y="317.3" font-size="10.8" font-weight="bold" font-style="normal" fill="#1a1a1a" text-anchor="start" textLength="12.4" lengthAdjust="spacingAndGlyphs">10</text>
<text x="330.25" y="317.3" font-size="10.8" font-weight="bold" font-style="normal" fill="#1a1a1a" text-anchor="start" textLength="12.4" lengthAdjust="spacingAndGlyphs">11</text>
<text x="347.15" y="317.3" font-size="10.8" font-weight="bold" font-style="normal" fill="#1a1a1a" text-anchor="start" textLength="12.4" lengthAdjust="spacingAndGlyphs">12</text>
<text x="364.05" y="317.3" font-size="10.8" font-weight="bold" font-style="normal" fill="#1a1a1a" text-anchor="start" textLength="12.4" lengthAdjust="spacingAndGlyphs">13</text>
<text x="380.95" y="317.3" font-size="10.8" font-weight="bold" font-style="normal" fill="#1a1a1a" text-anchor="start" textLength="12.4" lengthAdjust="spacingAndGlyphs">14</text>
<text x="403.8" y="335.8" font-size="12" font-weight="bold" font-style="normal" fill="#1a1a1a" text-anchor="start" textLength="31.6" lengthAdjust="spacingAndGlyphs">100%</text>
<text x="403.8" y="356.4" font-size="12" font-weight="bold" font-style="normal" fill="#1a1a1a" text-anchor="start" textLength="24.2" lengthAdjust="spacingAndGlyphs">92%</text>
<rect x="156.4" y="369.0" width="11.4" height="14.2" fill="#C1202B" stroke="#111" stroke-width="1.1"/>
<text x="174.6" y="378.8" font-size="10.8" font-weight="normal" font-style="normal" fill="#2a2a2a" text-anchor="start" textLength="72.6" lengthAdjust="spacingAndGlyphs">Overexpression</text>
<rect x="260.7" y="369.0" width="11.6" height="14.2" fill="#B4C7E7" stroke="#111" stroke-width="1.1"/>
<text x="279.2" y="378.8" font-size="10.8" font-weight="normal" font-style="normal" fill="#2a2a2a" text-anchor="start" textLength="62.8" lengthAdjust="spacingAndGlyphs">Negative/low</text>
<rect x="349.7" y="369.2" width="11.5" height="14.0" fill="#fff" stroke="#111" stroke-width="1.1"/>
<text x="355.45" y="380.4" font-size="11.5" font-weight="bold" font-style="normal" fill="#111" text-anchor="middle">X</text>
<text x="367.8" y="378.0" font-size="10.8" font-weight="normal" font-style="normal" fill="#2a2a2a" text-anchor="start" textLength="70.6" lengthAdjust="spacingAndGlyphs">Not performed</text>
<text x="0.4" y="419.7" font-size="17" font-weight="bold" font-style="normal" fill="#111" text-anchor="start">C</text>
<text x="71.6" y="421.3" font-size="12" font-weight="normal" font-style="normal" fill="#151515" text-anchor="start" textLength="62.4" lengthAdjust="spacingAndGlyphs">Rb protein</text>
<text x="163.8" y="421.3" font-size="12" font-weight="normal" font-style="normal" fill="#151515" text-anchor="start" textLength="64.8" lengthAdjust="spacingAndGlyphs">p16-INK4A</text>
<text x="262.4" y="421.3" font-size="12" font-weight="normal" font-style="normal" fill="#151515" text-anchor="start" textLength="54.4" lengthAdjust="spacingAndGlyphs">Cyclin D1</text>
<rect x="7.6" y="443.8" width="47.4" height="40" rx="5.5" ry="5.5" fill="#C3202B"/>
<text x="19.6" y="459.8" font-size="10.4" font-weight="normal" font-style="normal" fill="#fff" text-anchor="start" textLength="13.0" lengthAdjust="spacingAndGlyphs">Rb</text>
<text x="33.0" y="457.40000000000003" font-size="7.0" font-weight="normal" font-style="normal" fill="#fff" text-anchor="start" textLength="10.0" lengthAdjust="spacingAndGlyphs">lost</text>
<text x="14.6" y="475.40000000000003" font-size="10.4" font-weight="normal" font-style="italic" fill="#fff" text-anchor="start" textLength="19.0" lengthAdjust="spacingAndGlyphs">RB1</text>
<text x="34.6" y="472.8" font-size="7.0" font-weight="normal" font-style="normal" fill="#fff" text-anchor="start" textLength="11.4" lengthAdjust="spacingAndGlyphs">mut</text>
<rect x="7.6" y="518.0" width="47.4" height="40" rx="5.5" ry="5.5" fill="#D2642A"/>
<text x="19.6" y="534.0" font-size="10.4" font-weight="normal" font-style="normal" fill="#fff" text-anchor="start" textLength="13.0" lengthAdjust="spacingAndGlyphs">Rb</text>
<text x="33.0" y="531.6" font-size="7.0" font-weight="normal" font-style="normal" fill="#fff" text-anchor="start" textLength="10.0" lengthAdjust="spacingAndGlyphs">exp</text>
<text x="14.6" y="549.6" font-size="10.4" font-weight="normal" font-style="italic" fill="#fff" text-anchor="start" textLength="19.0" lengthAdjust="spacingAndGlyphs">RB1</text>
<text x="34.6" y="547.0" font-size="7.0" font-weight="normal" font-style="normal" fill="#fff" text-anchor="start" textLength="11.4" lengthAdjust="spacingAndGlyphs">mut</text>
<rect x="7.6" y="592.8" width="47.4" height="40" rx="5.5" ry="5.5" fill="#3B5CB8"/>
<text x="19.6" y="608.8" font-size="10.4" font-weight="normal" font-style="normal" fill="#fff" text-anchor="start" textLength="13.0" lengthAdjust="spacingAndGlyphs">Rb</text>
<text x="33.0" y="606.4" font-size="7.0" font-weight="normal" font-style="normal" fill="#fff" text-anchor="start" textLength="10.0" lengthAdjust="spacingAndGlyphs">exp</text>
<text x="16.0" y="624.4" font-size="10.4" font-weight="normal" font-style="italic" fill="#fff" text-anchor="start" textLength="19.0" lengthAdjust="spacingAndGlyphs">RB1</text>
<text x="36.0" y="621.8" font-size="7.0" font-weight="normal" font-style="normal" fill="#fff" text-anchor="start" textLength="9.4" lengthAdjust="spacingAndGlyphs">WT</text>
<defs>
<clipPath id="cp00"><rect x="58.6" y="427.5" width="91.9" height="72.2"/></clipPath>
<clipPath id="cp01"><rect x="151.5" y="427.5" width="94.0" height="72.2"/></clipPath>
<clipPath id="cp02"><rect x="246.4" y="427.5" width="92.6" height="72.2"/></clipPath>
<clipPath id="cp10"><rect x="58.6" y="501.3" width="91.9" height="73.3"/></clipPath>
<clipPath id="cp11"><rect x="151.5" y="501.3" width="94.0" height="73.3"/></clipPath>
<clipPath id="cp12"><rect x="246.4" y="501.3" width="92.6" height="73.3"/></clipPath>
<clipPath id="cp20"><rect x="58.6" y="576.3" width="91.9" height="72.7"/></clipPath>
<clipPath id="cp21"><rect x="151.5" y="576.3" width="94.0" height="72.7"/></clipPath>
<clipPath id="cp22"><rect x="246.4" y="576.3" width="92.6" height="72.7"/></clipPath>
<filter id="fBlueDark" x="0" y="0" width="100%" height="100%" color-interpolation-filters="sRGB"><feTurbulence type="fractalNoise" baseFrequency="0.36" numOctaves="2" seed="3"/><feColorMatrix type="matrix" values="0 0 0 0 0.431  0 0 0 0 0.471  0 0 0 0 0.620  3.2 0 0 0 -1.45"/><feComposite in2="SourceGraphic" operator="in"/></filter>
<filter id="fWhite" x="0" y="0" width="100%" height="100%" color-interpolation-filters="sRGB"><feTurbulence type="fractalNoise" baseFrequency="0.4" numOctaves="2" seed="11"/><feColorMatrix type="matrix" values="0 0 0 0 1.000  0 0 0 0 1.000  0 0 0 0 1.000  0 3.0 0 0 -1.45"/><feComposite in2="SourceGraphic" operator="in"/></filter>
<filter id="fBlueDark2" x="0" y="0" width="100%" height="100%" color-interpolation-filters="sRGB"><feTurbulence type="fractalNoise" baseFrequency="0.4" numOctaves="2" seed="23"/><feColorMatrix type="matrix" values="0 0 0 0 0.443  0 0 0 0 0.482  0 0 0 0 0.624  3.4 0 0 0 -1.55"/><feComposite in2="SourceGraphic" operator="in"/></filter>
<filter id="fWhite2" x="0" y="0" width="100%" height="100%" color-interpolation-filters="sRGB"><feTurbulence type="fractalNoise" baseFrequency="0.45" numOctaves="2" seed="31"/><feColorMatrix type="matrix" values="0 0 0 0 1.000  0 0 0 0 1.000  0 0 0 0 1.000  0 3.2 0 0 -1.5"/><feComposite in2="SourceGraphic" operator="in"/></filter>
<filter id="fBrownDark" x="0" y="0" width="100%" height="100%" color-interpolation-filters="sRGB"><feTurbulence type="fractalNoise" baseFrequency="0.15" numOctaves="4" seed="5"/><feColorMatrix type="matrix" values="0 0 0 0 0.306  0 0 0 0 0.133  0 0 0 0 0.024  3.2 0 0 0 -1.3"/><feComposite in2="SourceGraphic" operator="in"/></filter>
<filter id="fBrownLite" x="0" y="0" width="100%" height="100%" color-interpolation-filters="sRGB"><feTurbulence type="fractalNoise" baseFrequency="0.18" numOctaves="4" seed="9"/><feColorMatrix type="matrix" values="0 0 0 0 0.843  0 0 0 0 0.604  0 0 0 0 0.361  0 3.2 0 0 -1.35"/><feComposite in2="SourceGraphic" operator="in"/></filter>
<filter id="fBrownDark2" x="0" y="0" width="100%" height="100%" color-interpolation-filters="sRGB"><feTurbulence type="fractalNoise" baseFrequency="0.2" numOctaves="4" seed="15"/><feColorMatrix type="matrix" values="0 0 0 0 0.361  0 0 0 0 0.180  0 0 0 0 0.063  3.2 0 0 0 -1.3"/><feComposite in2="SourceGraphic" operator="in"/></filter>
<filter id="fBrownLite2" x="0" y="0" width="100%" height="100%" color-interpolation-filters="sRGB"><feTurbulence type="fractalNoise" baseFrequency="0.24" numOctaves="4" seed="19"/><feColorMatrix type="matrix" values="0 0 0 0 0.851  0 0 0 0 0.659  0 0 0 0 0.471  0 3.2 0 0 -1.35"/><feComposite in2="SourceGraphic" operator="in"/></filter>
<filter id="fBrownMid" x="0" y="0" width="100%" height="100%" color-interpolation-filters="sRGB"><feTurbulence type="fractalNoise" baseFrequency="0.1" numOctaves="3" seed="77"/><feColorMatrix type="matrix" values="0 0 0 0 0.541  0 0 0 0 0.322  0 0 0 0 0.188  4.0 0 0 0 -1.75"/><feComposite in2="SourceGraphic" operator="in"/></filter>
<filter id="fPatchBlue" x="0" y="0" width="100%" height="100%" color-interpolation-filters="sRGB"><feTurbulence type="fractalNoise" baseFrequency="0.085" numOctaves="3" seed="8"/><feColorMatrix type="matrix" values="0 0 0 0 0.549  0 0 0 0 0.573  0 0 0 0 0.682  5.0 0 0 0 -2.1"/><feComposite in2="SourceGraphic" operator="in"/></filter>
<filter id="fPatchBlue2" x="0" y="0" width="100%" height="100%" color-interpolation-filters="sRGB"><feTurbulence type="fractalNoise" baseFrequency="0.13" numOctaves="2" seed="41"/><feColorMatrix type="matrix" values="0 0 0 0 0.518  0 0 0 0 0.510  0 0 0 0 0.753  6.0 0 0 0 -2.75"/><feComposite in2="SourceGraphic" operator="in"/></filter>
<filter id="fPatchTan" x="0" y="0" width="100%" height="100%" color-interpolation-filters="sRGB"><feTurbulence type="fractalNoise" baseFrequency="0.07" numOctaves="2" seed="13"/><feColorMatrix type="matrix" values="0 0 0 0 0.557  0 0 0 0 0.596  0 0 0 0 0.714  0 0 4.0 0 -1.8"/><feComposite in2="SourceGraphic" operator="in"/></filter>
<filter id="soft" x="-5%" y="-5%" width="110%" height="110%"><feGaussianBlur stdDeviation="0.3"/></filter>
<filter id="soft2" x="-5%" y="-5%" width="110%" height="110%"><feGaussianBlur stdDeviation="0.45"/></filter>
<filter id="soft3" x="-20%" y="-20%" width="140%" height="140%"><feGaussianBlur stdDeviation="0.9"/></filter>
<linearGradient id="gdark" x1="0" y1="0" x2="1" y2="0"><stop offset="0" stop-color="#4A2008" stop-opacity="0.38"/><stop offset="1" stop-color="#4A2008" stop-opacity="0"/></linearGradient>
</defs>
<g clip-path="url(#cp00)"><g filter="url(#soft)">
<rect x="58.6" y="427.5" width="91.9" height="72.2" fill="#BEC3D3" opacity="1"/>
<rect x="58.6" y="427.5" width="91.9" height="72.2" fill="#000" filter="url(#fBlueDark)" opacity="0.75"/>
<rect x="58.6" y="427.5" width="91.9" height="72.2" fill="#000" filter="url(#fWhite)" opacity="0.6"/>
<path d="M58,478 L70,470 L78,484 L72,500 L58,500 Z" fill="#DADCE6" opacity="0.7"/>
</g></g>
<g clip-path="url(#cp01)"><g filter="url(#soft2)">
<rect x="151.5" y="427.5" width="94.0" height="72.2" fill="#945226" opacity="1"/>
<rect x="151.5" y="427.5" width="94.0" height="72.2" fill="#000" filter="url(#fBrownDark)" opacity="0.55"/>
<rect x="151.5" y="427.5" width="94.0" height="72.2" fill="#000" filter="url(#fBrownLite)" opacity="0.32"/>
<rect x="151" y="427" width="50" height="74" fill="url(#gdark)"/>
<g filter="url(#soft3)">
<path d="M149,425 L187,425 L183,432 L173,439.5 L165,441.5 L157,437 L149,439 Z" fill="#F8F3EE" opacity="1.0"/>
<path d="M209,425 L222,425 L229,437.5 L236,443.5 L232,449 L224,446 L220,451 L217,444 L213,436 Z" fill="#F8F3EE" opacity="1.0"/>
<path d="M163,473 L169,471 L174,478 L176,487 L174,497 L168,498.5 L163,491 L160,482 Z" fill="#F8F3EE" opacity="1.0"/>
</g>
<circle cx="158" cy="430.5" r="0.7" fill="#8A6A5A" stroke="none" stroke-width="0"/>
<circle cx="166" cy="433" r="0.7" fill="#8A6A5A" stroke="none" stroke-width="0"/>
<circle cx="172" cy="430" r="0.7" fill="#8A6A5A" stroke="none" stroke-width="0"/>
<circle cx="178" cy="429" r="0.7" fill="#8A6A5A" stroke="none" stroke-width="0"/>
<circle cx="161" cy="436" r="0.7" fill="#8A6A5A" stroke="none" stroke-width="0"/>
<circle cx="219" cy="431" r="0.7" fill="#8A6A5A" stroke="none" stroke-width="0"/>
<circle cx="222" cy="437" r="0.7" fill="#8A6A5A" stroke="none" stroke-width="0"/>
<circle cx="226" cy="442" r="0.7" fill="#8A6A5A" stroke="none" stroke-width="0"/>
<circle cx="229" cy="446" r="0.7" fill="#8A6A5A" stroke="none" stroke-width="0"/>
<circle cx="166" cy="480" r="0.7" fill="#8A6A5A" stroke="none" stroke-width="0"/>
<circle cx="169" cy="487" r="0.7" fill="#8A6A5A" stroke="none" stroke-width="0"/>
<circle cx="167" cy="493" r="0.7" fill="#8A6A5A" stroke="none" stroke-width="0"/>
<circle cx="171" cy="483" r="0.7" fill="#8A6A5A" stroke="none" stroke-width="0"/>
<circle cx="230.4" cy="468.6" r="2.2" fill="#E8D2B8"/>
</g></g>
<g clip-path="url(#cp02)"><g filter="url(#soft)">
<rect x="246.4" y="427.5" width="92.6" height="72.2" fill="#BFC5D5" opacity="1"/>
<rect x="246.4" y="427.5" width="92.6" height="72.2" fill="#000" filter="url(#fBlueDark2)" opacity="0.75"/>
<rect x="246.4" y="427.5" width="92.6" height="72.2" fill="#000" filter="url(#fWhite2)" opacity="0.6"/>
</g></g>
<g clip-path="url(#cp10)"><g filter="url(#soft2)">
<rect x="58.6" y="501.3" width="91.9" height="73.3" fill="#C9BCB4" opacity="1"/>
<rect x="58.6" y="501.3" width="91.9" height="73.3" fill="#000" filter="url(#fPatchTan)" opacity="0.85"/>
<rect x="58.6" y="501.3" width="91.9" height="73.3" fill="#000" filter="url(#fBrownMid)" opacity="0.6"/>
<rect x="58.6" y="501.3" width="91.9" height="73.3" fill="#000" filter="url(#fBrownDark2)" opacity="0.3"/>
<ellipse cx="92" cy="556" rx="20" ry="11" fill="#9AA0BC" opacity="0.45"/>
<g opacity="1.0"><ellipse cx="88.4" cy="512.4" rx="1.6" ry="1.8" fill="#4E260E" transform="rotate(160 88.4 512.4)"/><ellipse cx="118.4" cy="506.6" rx="1.6" ry="1.2" fill="#5E2E12" transform="rotate(16 118.4 506.6)"/><ellipse cx="107.8" cy="528.1" rx="2.0" ry="2.3" fill="#7E4A26" transform="rotate(155 107.8 528.1)"/><ellipse cx="63.9" cy="538.5" rx="2.2" ry="1.6" fill="#5E2E12" transform="rotate(157 63.9 538.5)"/><ellipse cx="62.0" cy="533.1" rx="2.0" ry="2.2" fill="#7E4A26" transform="rotate(81 62.0 533.1)"/><ellipse cx="65.0" cy="507.9" rx="2.1" ry="2.2" fill="#5E2E12" transform="rotate(152 65.0 507.9)"/><ellipse cx="79.1" cy="547.3" rx="1.5" ry="1.5" fill="#4E260E" transform="rotate(121 79.1 547.3)"/><ellipse cx="145.7" cy="543.6" rx="3.4" ry="1.7" fill="#4E260E" transform="rotate(64 145.7 543.6)"/><ellipse cx="95.1" cy="572.9" rx="3.1" ry="1.3" fill="#6E3A1A" transform="rotate(127 95.1 572.9)"/><ellipse cx="62.9" cy="564.2" rx="1.5" ry="2.6" fill="#6E3A1A" transform="rotate(77 62.9 564.2)"/><ellipse cx="69.4" cy="523.9" rx="2.7" ry="1.6" fill="#4E260E" transform="rotate(81 69.4 523.9)"/><ellipse cx="133.6" cy="514.5" rx="2.2" ry="2.3" fill="#8E5A34" transform="rotate(20 133.6 514.5)"/><ellipse cx="112.0" cy="548.1" rx="1.9" ry="2.3" fill="#4E260E" transform="rotate(63 112.0 548.1)"/><ellipse cx="92.8" cy="541.4" rx="1.6" ry="1.2" fill="#8E5A34" transform="rotate(141 92.8 541.4)"/><ellipse cx="87.5" cy="544.2" rx="2.2" ry="2.6" fill="#5E2E12" transform="rotate(26 87.5 544.2)"/><ellipse cx="100.2" cy="523.3" rx="2.0" ry="1.3" fill="#4E260E" transform="rotate(24 100.2 523.3)"/><ellipse cx="131.6" cy="552.5" rx="2.5" ry="2.2" fill="#6E3A1A" transform="rotate(114 131.6 552.5)"/><ellipse cx="106.9" cy="565.4" rx="2.0" ry="1.8" fill="#6E3A1A" transform="rotate(158 106.9 565.4)"/><ellipse cx="125.6" cy="522.4" rx="3.0" ry="2.4" fill="#5E2E12" transform="rotate(170 125.6 522.4)"/><ellipse cx="148.7" cy="510.0" rx="3.1" ry="1.6" fill="#8E5A34" transform="rotate(71 148.7 510.0)"/><ellipse cx="103.5" cy="504.2" rx="2.0" ry="1.5" fill="#6E3A1A" transform="rotate(66 103.5 504.2)"/><ellipse cx="120.0" cy="557.3" rx="2.4" ry="1.4" fill="#6E3A1A" transform="rotate(60 120.0 557.3)"/><ellipse cx="111.9" cy="534.7" rx="2.1" ry="2.5" fill="#7E4A26" transform="rotate(48 111.9 534.7)"/><ellipse cx="135.8" cy="570.5" rx="1.6" ry="1.5" fill="#8E5A34" transform="rotate(62 135.8 570.5)"/><ellipse cx="123.1" cy="548.7" rx="2.6" ry="2.1" fill="#4E260E" transform="rotate(25 123.1 548.7)"/><ellipse cx="149.9" cy="561.5" rx="3.5" ry="1.3" fill="#6E3A1A" transform="rotate(121 149.9 561.5)"/><ellipse cx="84.8" cy="529.6" rx="3.2" ry="2.5" fill="#7E4A26" transform="rotate(10 84.8 529.6)"/><ellipse cx="101.0" cy="513.6" rx="2.0" ry="1.2" fill="#8E5A34" transform="rotate(153 101.0 513.6)"/><ellipse cx="69.4" cy="505.6" rx="1.9" ry="1.3" fill="#6E3A1A" transform="rotate(131 69.4 505.6)"/><ellipse cx="129.2" cy="510.8" rx="2.4" ry="1.5" fill="#5E2E12" transform="rotate(170 129.2 510.8)"/><ellipse cx="138.7" cy="507.2" rx="1.7" ry="2.0" fill="#7E4A26" transform="rotate(158 138.7 507.2)"/><ellipse cx="99.9" cy="541.6" rx="1.9" ry="1.7" fill="#5E2E12" transform="rotate(36 99.9 541.6)"/><ellipse cx="139.8" cy="561.4" rx="1.9" ry="1.5" fill="#6E3A1A" transform="rotate(153 139.8 561.4)"/><ellipse cx="138.0" cy="521.7" rx="3.1" ry="2.4" fill="#7E4A26" transform="rotate(104 138.0 521.7)"/><ellipse cx="96.8" cy="527.6" rx="1.9" ry="1.6" fill="#5E2E12" transform="rotate(52 96.8 527.6)"/><ellipse cx="72.5" cy="514.2" rx="3.1" ry="2.0" fill="#4E260E" transform="rotate(16 72.5 514.2)"/><ellipse cx="79.9" cy="518.4" rx="1.7" ry="1.7" fill="#6E3A1A" transform="rotate(140 79.9 518.4)"/><ellipse cx="82.7" cy="501.6" rx="2.8" ry="1.3" fill="#4E260E" transform="rotate(41 82.7 501.6)"/><ellipse cx="110.6" cy="571.2" rx="2.9" ry="1.8" fill="#7E4A26" transform="rotate(72 110.6 571.2)"/><ellipse cx="122.1" cy="539.1" rx="2.3" ry="1.2" fill="#7E4A26" transform="rotate(145 122.1 539.1)"/><ellipse cx="130.3" cy="565.4" rx="2.3" ry="1.2" fill="#6E3A1A" transform="rotate(93 130.3 565.4)"/><ellipse cx="131.9" cy="530.1" rx="2.3" ry="1.8" fill="#4E260E" transform="rotate(1 131.9 530.1)"/><ellipse cx="95.3" cy="508.9" rx="3.3" ry="1.8" fill="#4E260E" transform="rotate(23 95.3 508.9)"/><ellipse cx="64.8" cy="516.6" rx="2.7" ry="1.7" fill="#6E3A1A" transform="rotate(41 64.8 516.6)"/><ellipse cx="73.5" cy="526.2" rx="1.5" ry="2.0" fill="#4E260E" transform="rotate(164 73.5 526.2)"/><ellipse cx="63.4" cy="501.3" rx="1.7" ry="2.1" fill="#8E5A34" transform="rotate(94 63.4 501.3)"/><ellipse cx="92.0" cy="503.2" rx="1.8" ry="1.7" fill="#8E5A34" transform="rotate(41 92.0 503.2)"/><ellipse cx="139.0" cy="546.3" rx="1.8" ry="1.2" fill="#4E260E" transform="rotate(98 139.0 546.3)"/><ellipse cx="72.3" cy="519.8" rx="3.0" ry="2.3" fill="#7E4A26" transform="rotate(50 72.3 519.8)"/><ellipse cx="90.5" cy="528.0" rx="1.8" ry="2.6" fill="#7E4A26" transform="rotate(123 90.5 528.0)"/><ellipse cx="69.9" cy="563.5" rx="1.6" ry="2.5" fill="#5E2E12" transform="rotate(99 69.9 563.5)"/><ellipse cx="149.9" cy="535.5" rx="3.3" ry="2.1" fill="#6E3A1A" transform="rotate(41 149.9 535.5)"/><ellipse cx="60.7" cy="571.0" rx="2.7" ry="2.1" fill="#4E260E" transform="rotate(50 60.7 571.0)"/><ellipse cx="107.1" cy="512.0" rx="1.9" ry="1.5" fill="#8E5A34" transform="rotate(102 107.1 512.0)"/><ellipse cx="108.5" cy="503.3" rx="1.8" ry="1.7" fill="#6E3A1A" transform="rotate(38 108.5 503.3)"/><ellipse cx="137.9" cy="552.3" rx="3.4" ry="2.4" fill="#5E2E12" transform="rotate(49 137.9 552.3)"/><ellipse cx="130.2" cy="525.5" rx="3.3" ry="2.4" fill="#5E2E12" transform="rotate(172 130.2 525.5)"/><ellipse cx="79.1" cy="560.8" rx="2.8" ry="1.6" fill="#8E5A34" transform="rotate(99 79.1 560.8)"/><ellipse cx="79.4" cy="539.2" rx="2.4" ry="2.4" fill="#4E260E" transform="rotate(78 79.4 539.2)"/><ellipse cx="61.2" cy="521.8" rx="2.1" ry="1.5" fill="#7E4A26" transform="rotate(99 61.2 521.8)"/><ellipse cx="82.4" cy="552.1" rx="2.4" ry="1.8" fill="#5E2E12" transform="rotate(5 82.4 552.1)"/><ellipse cx="99.7" cy="570.0" rx="2.7" ry="1.9" fill="#4E260E" transform="rotate(60 99.7 570.0)"/><ellipse cx="149.4" cy="571.3" rx="3.0" ry="2.3" fill="#6E3A1A" transform="rotate(117 149.4 571.3)"/><ellipse cx="92.1" cy="517.5" rx="3.1" ry="1.7" fill="#6E3A1A" transform="rotate(17 92.1 517.5)"/><ellipse cx="102.7" cy="549.2" rx="2.2" ry="1.7" fill="#8E5A34" transform="rotate(113 102.7 549.2)"/><ellipse cx="66.4" cy="549.7" rx="2.5" ry="1.2" fill="#6E3A1A" transform="rotate(162 66.4 549.7)"/><ellipse cx="127.5" cy="536.3" rx="1.7" ry="2.3" fill="#5E2E12" transform="rotate(130 127.5 536.3)"/><ellipse cx="145.6" cy="554.4" rx="1.6" ry="1.9" fill="#6E3A1A" transform="rotate(96 145.6 554.4)"/><ellipse cx="72.5" cy="567.6" rx="1.6" ry="1.2" fill="#5E2E12" transform="rotate(157 72.5 567.6)"/><ellipse cx="119.0" cy="527.0" rx="1.9" ry="2.6" fill="#7E4A26" transform="rotate(125 119.0 527.0)"/><ellipse cx="144.4" cy="533.1" rx="3.4" ry="2.5" fill="#6E3A1A" transform="rotate(42 144.4 533.1)"/><ellipse cx="85.5" cy="518.9" rx="1.6" ry="1.7" fill="#6E3A1A" transform="rotate(64 85.5 518.9)"/><ellipse cx="112.5" cy="520.3" rx="2.1" ry="2.1" fill="#6E3A1A" transform="rotate(116 112.5 520.3)"/><ellipse cx="142.2" cy="527.2" rx="2.0" ry="2.6" fill="#6E3A1A" transform="rotate(122 142.2 527.2)"/><ellipse cx="142.9" cy="538.1" rx="2.7" ry="2.1" fill="#7E4A26" transform="rotate(60 142.9 538.1)"/><ellipse cx="107.5" cy="539.7" rx="2.2" ry="1.4" fill="#6E3A1A" transform="rotate(103 107.5 539.7)"/><ellipse cx="75.4" cy="501.6" rx="2.8" ry="1.6" fill="#4E260E" transform="rotate(83 75.4 501.6)"/><ellipse cx="88.6" cy="539.3" rx="1.8" ry="2.3" fill="#8E5A34" transform="rotate(29 88.6 539.3)"/><ellipse cx="110.2" cy="557.0" rx="1.6" ry="2.4" fill="#8E5A34" transform="rotate(115 110.2 557.0)"/><ellipse cx="145.3" cy="562.9" rx="2.5" ry="2.2" fill="#7E4A26" transform="rotate(26 145.3 562.9)"/><ellipse cx="80.7" cy="506.7" rx="3.5" ry="2.1" fill="#7E4A26" transform="rotate(100 80.7 506.7)"/><ellipse cx="141.0" cy="512.6" rx="2.0" ry="2.6" fill="#6E3A1A" transform="rotate(147 141.0 512.6)"/><ellipse cx="147.5" cy="517.4" rx="2.2" ry="2.3" fill="#6E3A1A" transform="rotate(113 147.5 517.4)"/><ellipse cx="103.4" cy="573.9" rx="1.9" ry="2.3" fill="#7E4A26" transform="rotate(12 103.4 573.9)"/><ellipse cx="115.9" cy="538.8" rx="3.1" ry="1.5" fill="#8E5A34" transform="rotate(163 115.9 538.8)"/><ellipse cx="131.1" cy="572.5" rx="3.4" ry="2.5" fill="#5E2E12" transform="rotate(0 131.1 572.5)"/><ellipse cx="62.2" cy="558.4" rx="1.9" ry="1.6" fill="#4E260E" transform="rotate(160 62.2 558.4)"/><ellipse cx="83.5" cy="510.8" rx="2.3" ry="1.7" fill="#6E3A1A" transform="rotate(12 83.5 510.8)"/><ellipse cx="137.9" cy="534.6" rx="2.5" ry="2.1" fill="#5E2E12" transform="rotate(11 137.9 534.6)"/><ellipse cx="143.8" cy="520.9" rx="1.6" ry="2.0" fill="#5E2E12" transform="rotate(77 143.8 520.9)"/><ellipse cx="70.5" cy="539.9" rx="2.5" ry="2.0" fill="#8E5A34" transform="rotate(105 70.5 539.9)"/><ellipse cx="126.0" cy="541.7" rx="2.1" ry="1.3" fill="#8E5A34" transform="rotate(93 126.0 541.7)"/><ellipse cx="76.0" cy="536.1" rx="3.2" ry="1.4" fill="#6E3A1A" transform="rotate(3 76.0 536.1)"/><ellipse cx="73.6" cy="507.5" rx="2.9" ry="1.8" fill="#6E3A1A" transform="rotate(16 73.6 507.5)"/><ellipse cx="135.9" cy="565.1" rx="3.2" ry="2.3" fill="#7E4A26" transform="rotate(102 135.9 565.1)"/><ellipse cx="120.2" cy="522.0" rx="3.4" ry="1.2" fill="#7E4A26" transform="rotate(143 120.2 522.0)"/><ellipse cx="147.3" cy="524.0" rx="2.7" ry="2.0" fill="#8E5A34" transform="rotate(154 147.3 524.0)"/><ellipse cx="93.7" cy="536.1" rx="3.0" ry="1.5" fill="#5E2E12" transform="rotate(0 93.7 536.1)"/><ellipse cx="124.4" cy="565.7" rx="1.6" ry="1.2" fill="#6E3A1A" transform="rotate(47 124.4 565.7)"/><ellipse cx="126.0" cy="560.8" rx="1.8" ry="2.5" fill="#5E2E12" transform="rotate(26 126.0 560.8)"/><ellipse cx="134.5" cy="544.1" rx="2.7" ry="2.1" fill="#6E3A1A" transform="rotate(50 134.5 544.1)"/><ellipse cx="61.5" cy="511.1" rx="2.3" ry="1.9" fill="#8E5A34" transform="rotate(164 61.5 511.1)"/><ellipse cx="125.6" cy="516.3" rx="2.8" ry="1.8" fill="#6E3A1A" transform="rotate(156 125.6 516.3)"/><ellipse cx="77.9" cy="570.6" rx="2.5" ry="1.2" fill="#5E2E12" transform="rotate(160 77.9 570.6)"/><ellipse cx="134.0" cy="538.6" rx="3.5" ry="2.2" fill="#8E5A34" transform="rotate(122 134.0 538.6)"/><ellipse cx="58.9" cy="537.3" rx="1.5" ry="2.4" fill="#5E2E12" transform="rotate(119 58.9 537.3)"/><ellipse cx="112.7" cy="527.7" rx="3.0" ry="1.8" fill="#5E2E12" transform="rotate(57 112.7 527.7)"/><ellipse cx="142.5" cy="570.3" rx="2.0" ry="2.1" fill="#7E4A26" transform="rotate(31 142.5 570.3)"/><ellipse cx="127.8" cy="548.5" rx="3.3" ry="2.5" fill="#5E2E12" transform="rotate(67 127.8 548.5)"/><ellipse cx="86.0" cy="555.5" rx="2.0" ry="2.0" fill="#8E5A34" transform="rotate(111 86.0 555.5)"/><ellipse cx="104.3" cy="517.4" rx="3.4" ry="1.6" fill="#5E2E12" transform="rotate(55 104.3 517.4)"/><ellipse cx="90.0" cy="508.0" rx="3.3" ry="1.2" fill="#6E3A1A" transform="rotate(66 90.0 508.0)"/><ellipse cx="127.5" cy="531.6" rx="3.2" ry="1.4" fill="#7E4A26" transform="rotate(40 127.5 531.6)"/><ellipse cx="61.6" cy="553.3" rx="1.9" ry="1.7" fill="#6E3A1A" transform="rotate(153 61.6 553.3)"/><ellipse cx="130.5" cy="518.3" rx="2.3" ry="2.4" fill="#8E5A34" transform="rotate(177 130.5 518.3)"/><ellipse cx="143.1" cy="548.6" rx="2.4" ry="2.4" fill="#5E2E12" transform="rotate(178 143.1 548.6)"/><ellipse cx="113.8" cy="502.1" rx="3.2" ry="1.8" fill="#8E5A34" transform="rotate(59 113.8 502.1)"/><ellipse cx="86.3" cy="535.1" rx="3.3" ry="2.3" fill="#8E5A34" transform="rotate(100 86.3 535.1)"/><ellipse cx="96.9" cy="550.1" rx="2.7" ry="2.0" fill="#6E3A1A" transform="rotate(43 96.9 550.1)"/><ellipse cx="125.9" cy="574.4" rx="1.6" ry="1.3" fill="#6E3A1A" transform="rotate(159 125.9 574.4)"/><ellipse cx="127.2" cy="503.6" rx="2.2" ry="1.4" fill="#5E2E12" transform="rotate(7 127.2 503.6)"/><ellipse cx="91.4" cy="561.5" rx="1.6" ry="2.2" fill="#5E2E12" transform="rotate(162 91.4 561.5)"/><ellipse cx="98.3" cy="504.9" rx="2.9" ry="2.3" fill="#8E5A34" transform="rotate(16 98.3 504.9)"/><ellipse cx="102.1" cy="528.6" rx="3.0" ry="1.4" fill="#5E2E12" transform="rotate(136 102.1 528.6)"/><ellipse cx="92.1" cy="567.0" rx="3.3" ry="2.3" fill="#5E2E12" transform="rotate(98 92.1 567.0)"/></g>
<g opacity="1.0"><ellipse cx="106.6" cy="560.4" rx="1.7" ry="1.4" fill="#94889A" transform="rotate(137 106.6 560.4)"/><ellipse cx="146.9" cy="522.5" rx="1.8" ry="0.9" fill="#8A8EA8" transform="rotate(67 146.9 522.5)"/><ellipse cx="129.0" cy="552.9" rx="2.4" ry="1.7" fill="#9A9EB8" transform="rotate(119 129.0 552.9)"/><ellipse cx="119.4" cy="509.4" rx="2.1" ry="1.1" fill="#8A8EA8" transform="rotate(68 119.4 509.4)"/><ellipse cx="61.1" cy="529.5" rx="1.8" ry="1.6" fill="#8A8EA8" transform="rotate(7 61.1 529.5)"/><ellipse cx="127.2" cy="519.8" rx="1.8" ry="1.8" fill="#8A8EA8" transform="rotate(156 127.2 519.8)"/><ellipse cx="104.7" cy="524.6" rx="2.4" ry="1.0" fill="#9A9EB8" transform="rotate(6 104.7 524.6)"/><ellipse cx="136.4" cy="570.6" rx="1.8" ry="1.7" fill="#94889A" transform="rotate(56 136.4 570.6)"/><ellipse cx="95.5" cy="574.5" rx="1.2" ry="1.3" fill="#9A9EB8" transform="rotate(31 95.5 574.5)"/><ellipse cx="64.3" cy="560.9" rx="2.4" ry="1.6" fill="#8A8EA8" transform="rotate(15 64.3 560.9)"/><ellipse cx="139.0" cy="512.4" rx="2.4" ry="1.2" fill="#9A9EB8" transform="rotate(91 139.0 512.4)"/><ellipse cx="123.4" cy="542.3" rx="2.4" ry="1.5" fill="#9A9EB8" transform="rotate(106 123.4 542.3)"/><ellipse cx="146.4" cy="516.7" rx="2.3" ry="1.4" fill="#8A8EA8" transform="rotate(86 146.4 516.7)"/><ellipse cx="108.2" cy="566.0" rx="2.1" ry="1.7" fill="#94889A" transform="rotate(8 108.2 566.0)"/><ellipse cx="117.3" cy="524.0" rx="2.1" ry="1.2" fill="#8A8EA8" transform="rotate(82 117.3 524.0)"/><ellipse cx="66.1" cy="570.2" rx="1.6" ry="1.4" fill="#9A9EB8" transform="rotate(62 66.1 570.2)"/><ellipse cx="102.2" cy="574.3" rx="2.2" ry="1.3" fill="#8A8EA8" transform="rotate(65 102.2 574.3)"/><ellipse cx="71.6" cy="560.8" rx="1.3" ry="1.3" fill="#8A8EA8" transform="rotate(175 71.6 560.8)"/><ellipse cx="63.3" cy="556.4" rx="1.8" ry="1.0" fill="#94889A" transform="rotate(129 63.3 556.4)"/><ellipse cx="91.2" cy="571.6" rx="1.4" ry="1.2" fill="#9A9EB8" transform="rotate(111 91.2 571.6)"/><ellipse cx="93.0" cy="558.1" rx="1.8" ry="1.3" fill="#94889A" transform="rotate(133 93.0 558.1)"/><ellipse cx="138.3" cy="518.8" rx="2.1" ry="1.1" fill="#8A8EA8" transform="rotate(143 138.3 518.8)"/><ellipse cx="109.8" cy="571.5" rx="1.4" ry="1.4" fill="#9A9EB8" transform="rotate(81 109.8 571.5)"/><ellipse cx="83.2" cy="558.9" rx="2.2" ry="1.8" fill="#8A8EA8" transform="rotate(104 83.2 558.9)"/><ellipse cx="76.3" cy="545.6" rx="1.9" ry="1.1" fill="#8A8EA8" transform="rotate(38 76.3 545.6)"/><ellipse cx="109.7" cy="541.9" rx="1.7" ry="1.2" fill="#94889A" transform="rotate(113 109.7 541.9)"/><ellipse cx="70.5" cy="549.6" rx="2.2" ry="1.2" fill="#9A9EB8" transform="rotate(62 70.5 549.6)"/><ellipse cx="142.8" cy="524.7" rx="1.5" ry="1.1" fill="#94889A" transform="rotate(1 142.8 524.7)"/><ellipse cx="89.1" cy="567.9" rx="1.3" ry="1.4" fill="#8A8EA8" transform="rotate(110 89.1 567.9)"/><ellipse cx="111.7" cy="521.3" rx="2.3" ry="1.3" fill="#8A8EA8" transform="rotate(43 111.7 521.3)"/><ellipse cx="90.6" cy="535.5" rx="2.3" ry="1.0" fill="#9A9EB8" transform="rotate(86 90.6 535.5)"/><ellipse cx="83.6" cy="547.7" rx="1.6" ry="1.9" fill="#9A9EB8" transform="rotate(68 83.6 547.7)"/><ellipse cx="125.6" cy="524.0" rx="1.7" ry="1.2" fill="#94889A" transform="rotate(147 125.6 524.0)"/><ellipse cx="142.2" cy="502.8" rx="2.0" ry="1.3" fill="#94889A" transform="rotate(167 142.2 502.8)"/><ellipse cx="110.4" cy="551.6" rx="2.1" ry="1.7" fill="#8A8EA8" transform="rotate(60 110.4 551.6)"/><ellipse cx="146.8" cy="544.6" rx="1.4" ry="1.8" fill="#9A9EB8" transform="rotate(111 146.8 544.6)"/><ellipse cx="94.6" cy="515.6" rx="1.5" ry="1.0" fill="#94889A" transform="rotate(103 94.6 515.6)"/><ellipse cx="81.7" cy="512.4" rx="1.4" ry="1.2" fill="#94889A" transform="rotate(9 81.7 512.4)"/><ellipse cx="68.7" cy="516.9" rx="1.9" ry="1.3" fill="#9A9EB8" transform="rotate(166 68.7 516.9)"/><ellipse cx="136.0" cy="540.7" rx="1.7" ry="1.5" fill="#9A9EB8" transform="rotate(176 136.0 540.7)"/><ellipse cx="132.6" cy="568.7" rx="1.7" ry="1.7" fill="#9A9EB8" transform="rotate(41 132.6 568.7)"/><ellipse cx="133.1" cy="504.9" rx="1.4" ry="1.1" fill="#94889A" transform="rotate(92 133.1 504.9)"/><ellipse cx="143.7" cy="508.1" rx="2.3" ry="1.8" fill="#94889A" transform="rotate(58 143.7 508.1)"/><ellipse cx="129.5" cy="562.8" rx="2.2" ry="1.0" fill="#8A8EA8" transform="rotate(168 129.5 562.8)"/><ellipse cx="119.0" cy="530.9" rx="1.6" ry="1.4" fill="#94889A" transform="rotate(32 119.0 530.9)"/><ellipse cx="65.5" cy="507.5" rx="1.8" ry="1.3" fill="#8A8EA8" transform="rotate(165 65.5 507.5)"/><ellipse cx="117.1" cy="519.0" rx="1.3" ry="1.8" fill="#8A8EA8" transform="rotate(100 117.1 519.0)"/><ellipse cx="107.5" cy="520.7" rx="2.0" ry="1.3" fill="#94889A" transform="rotate(85 107.5 520.7)"/><ellipse cx="73.6" cy="522.9" rx="2.2" ry="1.2" fill="#8A8EA8" transform="rotate(98 73.6 522.9)"/><ellipse cx="125.2" cy="537.0" rx="2.3" ry="1.4" fill="#8A8EA8" transform="rotate(121 125.2 537.0)"/><ellipse cx="94.7" cy="537.0" rx="1.7" ry="1.9" fill="#8A8EA8" transform="rotate(123 94.7 537.0)"/><ellipse cx="87.8" cy="515.1" rx="2.4" ry="1.1" fill="#9A9EB8" transform="rotate(7 87.8 515.1)"/><ellipse cx="92.1" cy="503.4" rx="1.8" ry="1.1" fill="#8A8EA8" transform="rotate(65 92.1 503.4)"/><ellipse cx="97.4" cy="566.8" rx="1.2" ry="1.0" fill="#8A8EA8" transform="rotate(112 97.4 566.8)"/><ellipse cx="88.8" cy="543.7" rx="1.3" ry="1.2" fill="#94889A" transform="rotate(156 88.8 543.7)"/><ellipse cx="114.9" cy="528.3" rx="1.5" ry="1.2" fill="#94889A" transform="rotate(96 114.9 528.3)"/><ellipse cx="150.3" cy="556.6" rx="1.5" ry="1.5" fill="#8A8EA8" transform="rotate(165 150.3 556.6)"/><ellipse cx="86.5" cy="527.4" rx="2.1" ry="1.2" fill="#8A8EA8" transform="rotate(156 86.5 527.4)"/><ellipse cx="106.7" cy="515.4" rx="2.1" ry="1.2" fill="#9A9EB8" transform="rotate(157 106.7 515.4)"/><ellipse cx="128.9" cy="534.2" rx="2.3" ry="1.8" fill="#8A8EA8" transform="rotate(128 128.9 534.2)"/></g>
</g></g>
<g clip-path="url(#cp11)"><g filter="url(#soft2)">
<rect x="151.5" y="501.3" width="94.0" height="73.3" fill="#93583A" opacity="1"/>
<rect x="151.5" y="501.3" width="94.0" height="73.3" fill="#000" filter="url(#fBrownDark2)" opacity="0.6"/>
<rect x="151.5" y="501.3" width="94.0" height="73.3" fill="#000" filter="url(#fBrownLite2)" opacity="0.35"/>
<path d="M202,506 L206,505 L208,511 L206,519 L202,524.5 L198.5,523 L197.5,516 Z" fill="#E4D8D2" opacity="1.0"/>
<path d="M166,551 L175,549 L181,555 L175,560 L167,559 Z" fill="#A898AC" opacity="0.5"/>
</g></g>
<g clip-path="url(#cp12)"><g filter="url(#soft2)">
<rect x="246.4" y="501.3" width="92.6" height="73.3" fill="#DADCE5" opacity="1"/>
<rect x="246.4" y="501.3" width="92.6" height="73.3" fill="#000" filter="url(#fPatchBlue)" opacity="0.7"/>
<rect x="246.4" y="501.3" width="92.6" height="73.3" fill="#000" filter="url(#fBlueDark2)" opacity="0.5"/>
<rect x="246.4" y="501.3" width="92.6" height="73.3" fill="#000" filter="url(#fWhite2)" opacity="0.5"/>
<path d="M246,520 L256,524 L266,534 L268,543 L262,546 L254,540 L246,536 Z" fill="#ECEDF1" opacity="0.95"/>
<path d="M316,500 L341,500 L341,520 L330,522 L322,514 Z" fill="#E6E8EF" opacity="0.85"/>
</g></g>
<g clip-path="url(#cp20)"><g filter="url(#soft2)">
<rect x="58.6" y="576.3" width="91.9" height="72.7" fill="#E8DEDE" opacity="1"/>
<rect x="58.6" y="576.3" width="91.9" height="72.7" fill="#000" filter="url(#fPatchTan)" opacity="0.45"/>
<g opacity="1.0"><ellipse cx="118.2" cy="627.3" rx="1.4" ry="1.8" fill="#7A78B4" transform="rotate(51 118.2 627.3)"/><ellipse cx="146.6" cy="590.6" rx="1.9" ry="1.4" fill="#8A88C0" transform="rotate(113 146.6 590.6)"/><ellipse cx="64.6" cy="636.2" rx="1.6" ry="1.4" fill="#6C6AA8" transform="rotate(100 64.6 636.2)"/><ellipse cx="89.2" cy="603.4" rx="1.4" ry="0.9" fill="#6C6AA8" transform="rotate(61 89.2 603.4)"/><ellipse cx="133.5" cy="589.6" rx="1.4" ry="1.2" fill="#8A88C0" transform="rotate(97 133.5 589.6)"/><ellipse cx="142.2" cy="612.0" rx="1.6" ry="1.1" fill="#6C6AA8" transform="rotate(18 142.2 612.0)"/><ellipse cx="65.2" cy="643.0" rx="2.1" ry="1.8" fill="#6C6AA8" transform="rotate(178 65.2 643.0)"/><ellipse cx="111.3" cy="582.0" rx="1.3" ry="1.7" fill="#6C6AA8" transform="rotate(125 111.3 582.0)"/><ellipse cx="135.7" cy="632.6" rx="1.3" ry="1.0" fill="#8A88C0" transform="rotate(34 135.7 632.6)"/><ellipse cx="126.6" cy="624.1" rx="2.0" ry="1.7" fill="#8A88C0" transform="rotate(179 126.6 624.1)"/><ellipse cx="149.8" cy="577.2" rx="2.1" ry="1.9" fill="#8A88C0" transform="rotate(97 149.8 577.2)"/><ellipse cx="148.2" cy="623.0" rx="2.0" ry="1.8" fill="#8A88C0" transform="rotate(127 148.2 623.0)"/><ellipse cx="81.8" cy="620.8" rx="1.6" ry="1.4" fill="#8A88C0" transform="rotate(77 81.8 620.8)"/><ellipse cx="89.6" cy="623.6" rx="1.4" ry="1.7" fill="#6C6AA8" transform="rotate(56 89.6 623.6)"/><ellipse cx="123.3" cy="614.4" rx="2.1" ry="1.5" fill="#7A78B4" transform="rotate(61 123.3 614.4)"/><ellipse cx="67.7" cy="604.8" rx="2.1" ry="1.0" fill="#8A88C0" transform="rotate(177 67.7 604.8)"/><ellipse cx="86.4" cy="630.8" rx="2.0" ry="1.7" fill="#8A88C0" transform="rotate(125 86.4 630.8)"/><ellipse cx="144.2" cy="632.7" rx="1.7" ry="0.9" fill="#7A78B4" transform="rotate(46 144.2 632.7)"/><ellipse cx="107.4" cy="588.7" rx="1.8" ry="1.4" fill="#8A88C0" transform="rotate(14 107.4 588.7)"/><ellipse cx="123.6" cy="595.6" rx="2.2" ry="1.7" fill="#7A78B4" transform="rotate(25 123.6 595.6)"/><ellipse cx="130.3" cy="601.5" rx="1.4" ry="1.1" fill="#6C6AA8" transform="rotate(141 130.3 601.5)"/><ellipse cx="111.4" cy="606.5" rx="1.9" ry="1.3" fill="#8A88C0" transform="rotate(158 111.4 606.5)"/><ellipse cx="74.9" cy="602.3" rx="1.5" ry="0.9" fill="#6C6AA8" transform="rotate(44 74.9 602.3)"/><ellipse cx="106.1" cy="613.9" rx="1.2" ry="1.4" fill="#7A78B4" transform="rotate(31 106.1 613.9)"/><ellipse cx="74.2" cy="631.9" rx="2.1" ry="1.9" fill="#8A88C0" transform="rotate(138 74.2 631.9)"/><ellipse cx="103.6" cy="582.9" rx="2.0" ry="1.1" fill="#6C6AA8" transform="rotate(5 103.6 582.9)"/><ellipse cx="89.7" cy="580.5" rx="1.5" ry="1.7" fill="#8A88C0" transform="rotate(65 89.7 580.5)"/><ellipse cx="112.4" cy="642.2" rx="1.6" ry="0.9" fill="#7A78B4" transform="rotate(161 112.4 642.2)"/><ellipse cx="121.6" cy="576.6" rx="1.8" ry="1.3" fill="#7A78B4" transform="rotate(172 121.6 576.6)"/><ellipse cx="67.5" cy="617.2" rx="1.3" ry="1.7" fill="#7A78B4" transform="rotate(38 67.5 617.2)"/><ellipse cx="96.3" cy="609.8" rx="1.2" ry="1.2" fill="#6C6AA8" transform="rotate(165 96.3 609.8)"/><ellipse cx="58.9" cy="641.4" rx="2.4" ry="1.3" fill="#7A78B4" transform="rotate(150 58.9 641.4)"/><ellipse cx="115.7" cy="592.8" rx="1.8" ry="1.1" fill="#8A88C0" transform="rotate(119 115.7 592.8)"/><ellipse cx="139.5" cy="601.4" rx="2.4" ry="1.6" fill="#6C6AA8" transform="rotate(51 139.5 601.4)"/><ellipse cx="71.2" cy="609.9" rx="1.6" ry="1.1" fill="#6C6AA8" transform="rotate(105 71.2 609.9)"/><ellipse cx="61.4" cy="612.0" rx="1.8" ry="1.0" fill="#6C6AA8" transform="rotate(110 61.4 612.0)"/><ellipse cx="87.3" cy="610.3" rx="2.4" ry="1.3" fill="#6C6AA8" transform="rotate(163 87.3 610.3)"/><ellipse cx="135.0" cy="608.1" rx="2.4" ry="1.3" fill="#8A88C0" transform="rotate(87 135.0 608.1)"/><ellipse cx="86.5" cy="591.1" rx="1.7" ry="1.1" fill="#7A78B4" transform="rotate(17 86.5 591.1)"/><ellipse cx="124.3" cy="648.7" rx="1.3" ry="1.6" fill="#6C6AA8" transform="rotate(48 124.3 648.7)"/><ellipse cx="122.2" cy="641.8" rx="1.3" ry="1.2" fill="#6C6AA8" transform="rotate(130 122.2 641.8)"/><ellipse cx="98.5" cy="598.6" rx="2.3" ry="1.2" fill="#8A88C0" transform="rotate(45 98.5 598.6)"/><ellipse cx="73.8" cy="616.0" rx="1.6" ry="1.0" fill="#8A88C0" transform="rotate(18 73.8 616.0)"/><ellipse cx="145.1" cy="643.2" rx="1.4" ry="0.9" fill="#6C6AA8" transform="rotate(133 145.1 643.2)"/><ellipse cx="136.8" cy="620.1" rx="1.2" ry="1.7" fill="#6C6AA8" transform="rotate(165 136.8 620.1)"/></g>
<g opacity="1.0"><ellipse cx="73.8" cy="626.4" rx="2.3" ry="2.3" fill="#3A1C12" transform="rotate(43 73.8 626.4)"/><ellipse cx="117.0" cy="611.1" rx="2.0" ry="2.3" fill="#4A281A" transform="rotate(51 117.0 611.1)"/><ellipse cx="78.5" cy="633.9" rx="2.0" ry="2.1" fill="#2E140C" transform="rotate(125 78.5 633.9)"/><ellipse cx="132.8" cy="613.6" rx="3.2" ry="2.5" fill="#5A3424" transform="rotate(104 132.8 613.6)"/><ellipse cx="105.0" cy="593.5" rx="2.8" ry="2.5" fill="#4A281A" transform="rotate(164 105.0 593.5)"/><ellipse cx="58.9" cy="603.3" rx="3.2" ry="2.1" fill="#5A3424" transform="rotate(101 58.9 603.3)"/><ellipse cx="112.4" cy="581.3" rx="3.1" ry="1.7" fill="#2E140C" transform="rotate(31 112.4 581.3)"/><ellipse cx="131.5" cy="593.2" rx="2.6" ry="2.5" fill="#2E140C" transform="rotate(143 131.5 593.2)"/><ellipse cx="80.0" cy="579.4" rx="2.0" ry="1.8" fill="#5A3424" transform="rotate(2 80.0 579.4)"/><ellipse cx="150.3" cy="630.0" rx="2.8" ry="2.0" fill="#4A281A" transform="rotate(7 150.3 630.0)"/><ellipse cx="139.0" cy="621.1" rx="2.2" ry="2.4" fill="#3A1C12" transform="rotate(97 139.0 621.1)"/><ellipse cx="104.3" cy="584.7" rx="2.8" ry="2.0" fill="#3A1C12" transform="rotate(169 104.3 584.7)"/><ellipse cx="146.1" cy="603.1" rx="2.4" ry="1.9" fill="#2E140C" transform="rotate(99 146.1 603.1)"/><ellipse cx="72.8" cy="635.7" rx="2.1" ry="2.2" fill="#4A281A" transform="rotate(3 72.8 635.7)"/><ellipse cx="70.1" cy="643.8" rx="2.0" ry="2.4" fill="#2E140C" transform="rotate(85 70.1 643.8)"/><ellipse cx="100.2" cy="616.4" rx="2.6" ry="2.6" fill="#4A281A" transform="rotate(18 100.2 616.4)"/><ellipse cx="90.1" cy="611.5" rx="2.0" ry="2.0" fill="#2E140C" transform="rotate(145 90.1 611.5)"/><ellipse cx="138.2" cy="593.4" rx="2.3" ry="2.6" fill="#4A281A" transform="rotate(168 138.2 593.4)"/><ellipse cx="147.6" cy="641.3" rx="2.3" ry="1.7" fill="#5A3424" transform="rotate(146 147.6 641.3)"/><ellipse cx="128.0" cy="631.8" rx="2.0" ry="2.3" fill="#2E140C" transform="rotate(103 128.0 631.8)"/><ellipse cx="112.0" cy="629.4" rx="2.8" ry="2.5" fill="#3A1C12" transform="rotate(86 112.0 629.4)"/><ellipse cx="69.9" cy="610.9" rx="2.3" ry="2.7" fill="#2E140C" transform="rotate(99 69.9 610.9)"/><ellipse cx="96.2" cy="602.9" rx="3.2" ry="2.0" fill="#5A3424" transform="rotate(151 96.2 602.9)"/><ellipse cx="61.1" cy="583.1" rx="2.9" ry="2.2" fill="#5A3424" transform="rotate(11 61.1 583.1)"/><ellipse cx="124.6" cy="648.5" rx="3.2" ry="1.7" fill="#4A281A" transform="rotate(73 124.6 648.5)"/><ellipse cx="104.2" cy="612.0" rx="2.1" ry="2.2" fill="#2E140C" transform="rotate(108 104.2 612.0)"/><ellipse cx="79.0" cy="620.6" rx="2.4" ry="1.7" fill="#2E140C" transform="rotate(58 79.0 620.6)"/><ellipse cx="109.7" cy="621.6" rx="3.0" ry="1.8" fill="#2E140C" transform="rotate(155 109.7 621.6)"/><ellipse cx="75.2" cy="588.7" rx="2.5" ry="2.4" fill="#3A1C12" transform="rotate(142 75.2 588.7)"/><ellipse cx="90.6" cy="643.7" rx="2.4" ry="2.0" fill="#3A1C12" transform="rotate(50 90.6 643.7)"/><ellipse cx="90.5" cy="619.7" rx="2.3" ry="1.9" fill="#3A1C12" transform="rotate(163 90.5 619.7)"/><ellipse cx="86.8" cy="583.8" rx="2.3" ry="1.8" fill="#4A281A" transform="rotate(114 86.8 583.8)"/><ellipse cx="64.6" cy="635.5" rx="2.0" ry="2.6" fill="#4A281A" transform="rotate(32 64.6 635.5)"/><ellipse cx="130.0" cy="603.6" rx="2.7" ry="1.9" fill="#3A1C12" transform="rotate(36 130.0 603.6)"/><ellipse cx="121.4" cy="625.4" rx="2.6" ry="2.4" fill="#4A281A" transform="rotate(145 121.4 625.4)"/><ellipse cx="141.2" cy="646.0" rx="2.2" ry="2.1" fill="#2E140C" transform="rotate(134 141.2 646.0)"/><ellipse cx="96.0" cy="648.2" rx="2.1" ry="2.2" fill="#2E140C" transform="rotate(7 96.0 648.2)"/><ellipse cx="147.0" cy="619.2" rx="2.0" ry="2.0" fill="#3A1C12" transform="rotate(140 147.0 619.2)"/><ellipse cx="139.8" cy="612.0" rx="2.5" ry="1.8" fill="#4A281A" transform="rotate(5 139.8 612.0)"/><ellipse cx="93.1" cy="594.3" rx="2.7" ry="2.0" fill="#4A281A" transform="rotate(17 93.1 594.3)"/><ellipse cx="135.5" cy="580.1" rx="2.6" ry="2.4" fill="#5A3424" transform="rotate(56 135.5 580.1)"/><ellipse cx="82.3" cy="597.4" rx="2.0" ry="2.6" fill="#3A1C12" transform="rotate(160 82.3 597.4)"/><ellipse cx="97.2" cy="588.7" rx="3.1" ry="2.0" fill="#5A3424" transform="rotate(26 97.2 588.7)"/><ellipse cx="65.0" cy="600.9" rx="2.9" ry="2.2" fill="#2E140C" transform="rotate(49 65.0 600.9)"/><ellipse cx="127.1" cy="611.1" rx="2.7" ry="2.0" fill="#3A1C12" transform="rotate(18 127.1 611.1)"/><ellipse cx="81.8" cy="646.0" rx="3.2" ry="1.7" fill="#2E140C" transform="rotate(73 81.8 646.0)"/><ellipse cx="61.2" cy="591.7" rx="3.0" ry="2.1" fill="#4A281A" transform="rotate(46 61.2 591.7)"/><ellipse cx="135.6" cy="634.1" rx="2.5" ry="1.8" fill="#2E140C" transform="rotate(86 135.6 634.1)"/><ellipse cx="136.7" cy="598.7" rx="3.2" ry="2.6" fill="#3A1C12" transform="rotate(2 136.7 598.7)"/><ellipse cx="129.2" cy="577.0" rx="2.3" ry="2.2" fill="#5A3424" transform="rotate(95 129.2 577.0)"/><ellipse cx="60.8" cy="619.5" rx="2.1" ry="1.7" fill="#2E140C" transform="rotate(140 60.8 619.5)"/><ellipse cx="117.8" cy="638.2" rx="2.6" ry="2.2" fill="#5A3424" transform="rotate(179 117.8 638.2)"/><ellipse cx="112.3" cy="595.0" rx="2.4" ry="2.4" fill="#4A281A" transform="rotate(40 112.3 595.0)"/><ellipse cx="141.8" cy="586.0" rx="2.9" ry="2.6" fill="#2E140C" transform="rotate(9 141.8 586.0)"/><ellipse cx="67.3" cy="583.1" rx="2.8" ry="2.5" fill="#2E140C" transform="rotate(128 67.3 583.1)"/><ellipse cx="60.9" cy="608.8" rx="2.3" ry="2.1" fill="#4A281A" transform="rotate(139 60.9 608.8)"/><ellipse cx="118.8" cy="585.5" rx="2.0" ry="2.0" fill="#4A281A" transform="rotate(166 118.8 585.5)"/><ellipse cx="108.1" cy="599.9" rx="2.9" ry="1.9" fill="#2E140C" transform="rotate(162 108.1 599.9)"/><ellipse cx="93.3" cy="627.9" rx="2.2" ry="1.9" fill="#5A3424" transform="rotate(11 93.3 627.9)"/><ellipse cx="123.9" cy="639.8" rx="2.0" ry="2.5" fill="#2E140C" transform="rotate(153 123.9 639.8)"/><ellipse cx="81.8" cy="627.0" rx="3.1" ry="2.7" fill="#2E140C" transform="rotate(111 81.8 627.0)"/><ellipse cx="87.8" cy="648.5" rx="2.2" ry="2.6" fill="#4A281A" transform="rotate(79 87.8 648.5)"/><ellipse cx="133.7" cy="628.9" rx="2.6" ry="2.1" fill="#4A281A" transform="rotate(155 133.7 628.9)"/><ellipse cx="116.7" cy="646.3" rx="3.0" ry="2.6" fill="#3A1C12" transform="rotate(95 116.7 646.3)"/><ellipse cx="103.8" cy="628.4" rx="3.1" ry="2.7" fill="#4A281A" transform="rotate(114 103.8 628.4)"/><ellipse cx="134.4" cy="646.4" rx="2.5" ry="2.5" fill="#3A1C12" transform="rotate(149 134.4 646.4)"/><ellipse cx="149.5" cy="576.8" rx="2.2" ry="2.6" fill="#3A1C12" transform="rotate(38 149.5 576.8)"/><ellipse cx="123.3" cy="591.3" rx="2.0" ry="1.7" fill="#4A281A" transform="rotate(16 123.3 591.3)"/><ellipse cx="84.1" cy="603.9" rx="2.7" ry="2.3" fill="#3A1C12" transform="rotate(13 84.1 603.9)"/><ellipse cx="145.1" cy="610.2" rx="2.0" ry="2.3" fill="#5A3424" transform="rotate(179 145.1 610.2)"/><ellipse cx="84.4" cy="589.0" rx="2.3" ry="2.3" fill="#5A3424" transform="rotate(55 84.4 589.0)"/><ellipse cx="75.9" cy="646.1" rx="2.9" ry="1.9" fill="#3A1C12" transform="rotate(113 75.9 646.1)"/><ellipse cx="144.5" cy="627.5" rx="2.4" ry="2.2" fill="#4A281A" transform="rotate(81 144.5 627.5)"/><ellipse cx="100.3" cy="641.3" rx="3.1" ry="2.0" fill="#2E140C" transform="rotate(11 100.3 641.3)"/><ellipse cx="75.8" cy="605.6" rx="2.4" ry="2.6" fill="#2E140C" transform="rotate(89 75.8 605.6)"/><ellipse cx="133.5" cy="620.4" rx="3.0" ry="2.1" fill="#3A1C12" transform="rotate(4 133.5 620.4)"/><ellipse cx="64.8" cy="613.5" rx="2.7" ry="2.5" fill="#4A281A" transform="rotate(121 64.8 613.5)"/><ellipse cx="130.1" cy="641.9" rx="2.7" ry="2.1" fill="#5A3424" transform="rotate(111 130.1 641.9)"/><ellipse cx="107.6" cy="642.3" rx="2.8" ry="1.9" fill="#4A281A" transform="rotate(162 107.6 642.3)"/><ellipse cx="75.0" cy="615.5" rx="2.2" ry="2.1" fill="#2E140C" transform="rotate(153 75.0 615.5)"/><ellipse cx="70.6" cy="578.3" rx="2.2" ry="2.6" fill="#3A1C12" transform="rotate(47 70.6 578.3)"/><ellipse cx="69.9" cy="593.8" rx="2.8" ry="2.4" fill="#4A281A" transform="rotate(9 69.9 593.8)"/><ellipse cx="97.6" cy="622.9" rx="3.1" ry="2.2" fill="#5A3424" transform="rotate(100 97.6 622.9)"/><ellipse cx="118.4" cy="594.7" rx="2.5" ry="2.4" fill="#5A3424" transform="rotate(75 118.4 594.7)"/><ellipse cx="94.8" cy="576.6" rx="3.1" ry="2.5" fill="#2E140C" transform="rotate(167 94.8 576.6)"/><ellipse cx="119.7" cy="618.6" rx="2.3" ry="2.3" fill="#3A1C12" transform="rotate(114 119.7 618.6)"/><ellipse cx="111.6" cy="648.8" rx="2.9" ry="2.0" fill="#5A3424" transform="rotate(135 111.6 648.8)"/><ellipse cx="92.6" cy="636.4" rx="3.1" ry="1.7" fill="#2E140C" transform="rotate(62 92.6 636.4)"/><ellipse cx="136.5" cy="641.0" rx="2.7" ry="2.2" fill="#3A1C12" transform="rotate(24 136.5 641.0)"/><ellipse cx="122.6" cy="606.4" rx="2.4" ry="2.0" fill="#3A1C12" transform="rotate(158 122.6 606.4)"/><ellipse cx="118.8" cy="577.8" rx="2.7" ry="2.5" fill="#5A3424" transform="rotate(146 118.8 577.8)"/><ellipse cx="125.2" cy="619.5" rx="2.4" ry="1.7" fill="#4A281A" transform="rotate(48 125.2 619.5)"/><ellipse cx="88.6" cy="600.2" rx="2.5" ry="2.5" fill="#3A1C12" transform="rotate(90 88.6 600.2)"/><ellipse cx="111.6" cy="635.8" rx="2.6" ry="2.0" fill="#2E140C" transform="rotate(91 111.6 635.8)"/><ellipse cx="111.9" cy="589.5" rx="2.8" ry="2.2" fill="#5A3424" transform="rotate(111 111.9 589.5)"/><ellipse cx="72.3" cy="598.7" rx="3.0" ry="2.4" fill="#3A1C12" transform="rotate(66 72.3 598.7)"/><ellipse cx="136.4" cy="586.9" rx="3.0" ry="2.0" fill="#5A3424" transform="rotate(113 136.4 586.9)"/><ellipse cx="121.0" cy="632.4" rx="2.8" ry="2.5" fill="#3A1C12" transform="rotate(48 121.0 632.4)"/><ellipse cx="140.7" cy="636.2" rx="2.6" ry="1.8" fill="#5A3424" transform="rotate(91 140.7 636.2)"/><ellipse cx="148.6" cy="595.0" rx="2.0" ry="2.4" fill="#4A281A" transform="rotate(65 148.6 595.0)"/><ellipse cx="84.2" cy="633.3" rx="2.5" ry="2.7" fill="#5A3424" transform="rotate(35 84.2 633.3)"/><ellipse cx="128.5" cy="583.4" rx="2.0" ry="1.8" fill="#3A1C12" transform="rotate(142 128.5 583.4)"/><ellipse cx="150.1" cy="582.4" rx="2.6" ry="2.1" fill="#2E140C" transform="rotate(5 150.1 582.4)"/><ellipse cx="66.4" cy="628.3" rx="2.3" ry="1.8" fill="#4A281A" transform="rotate(42 66.4 628.3)"/><ellipse cx="64.4" cy="645.4" rx="2.1" ry="1.9" fill="#5A3424" transform="rotate(177 64.4 645.4)"/><ellipse cx="114.3" cy="605.3" rx="2.9" ry="2.0" fill="#5A3424" transform="rotate(94 114.3 605.3)"/><ellipse cx="77.2" cy="593.8" rx="2.8" ry="2.0" fill="#4A281A" transform="rotate(114 77.2 593.8)"/><ellipse cx="121.6" cy="599.2" rx="3.1" ry="1.7" fill="#5A3424" transform="rotate(131 121.6 599.2)"/><ellipse cx="82.2" cy="639.2" rx="2.1" ry="2.4" fill="#2E140C" transform="rotate(30 82.2 639.2)"/><ellipse cx="60.0" cy="597.5" rx="3.0" ry="2.0" fill="#5A3424" transform="rotate(107 60.0 597.5)"/><ellipse cx="103.9" cy="606.5" rx="2.3" ry="2.7" fill="#4A281A" transform="rotate(73 103.9 606.5)"/><ellipse cx="67.2" cy="618.7" rx="2.6" ry="2.1" fill="#3A1C12" transform="rotate(90 67.2 618.7)"/><ellipse cx="87.6" cy="627.6" rx="2.4" ry="2.7" fill="#5A3424" transform="rotate(84 87.6 627.6)"/><ellipse cx="136.6" cy="604.6" rx="2.9" ry="2.3" fill="#4A281A" transform="rotate(8 136.6 604.6)"/><ellipse cx="81.7" cy="611.6" rx="2.5" ry="2.1" fill="#5A3424" transform="rotate(26 81.7 611.6)"/><ellipse cx="114.3" cy="618.0" rx="2.2" ry="2.4" fill="#2E140C" transform="rotate(44 114.3 618.0)"/><ellipse cx="103.1" cy="635.4" rx="2.7" ry="2.5" fill="#5A3424" transform="rotate(69 103.1 635.4)"/><ellipse cx="103.7" cy="620.6" rx="2.9" ry="2.2" fill="#5A3424" transform="rotate(156 103.7 620.6)"/><ellipse cx="93.2" cy="581.8" rx="2.8" ry="2.5" fill="#2E140C" transform="rotate(8 93.2 581.8)"/><ellipse cx="102.1" cy="647.6" rx="2.7" ry="2.3" fill="#3A1C12" transform="rotate(171 102.1 647.6)"/><ellipse cx="110.0" cy="609.2" rx="2.8" ry="2.4" fill="#3A1C12" transform="rotate(159 110.0 609.2)"/><ellipse cx="98.5" cy="597.0" rx="2.5" ry="2.0" fill="#3A1C12" transform="rotate(8 98.5 597.0)"/><ellipse cx="64.6" cy="576.6" rx="2.9" ry="1.8" fill="#4A281A" transform="rotate(20 64.6 576.6)"/><ellipse cx="103.6" cy="578.5" rx="2.5" ry="2.7" fill="#5A3424" transform="rotate(133 103.6 578.5)"/><ellipse cx="59.4" cy="639.4" rx="2.3" ry="2.6" fill="#4A281A" transform="rotate(171 59.4 639.4)"/><ellipse cx="91.4" cy="588.9" rx="2.0" ry="2.4" fill="#4A281A" transform="rotate(106 91.4 588.9)"/><ellipse cx="150.0" cy="635.8" rx="2.1" ry="2.1" fill="#4A281A" transform="rotate(179 150.0 635.8)"/><ellipse cx="85.4" cy="616.3" rx="2.1" ry="2.5" fill="#2E140C" transform="rotate(124 85.4 616.3)"/><ellipse cx="123.1" cy="581.7" rx="3.1" ry="2.0" fill="#3A1C12" transform="rotate(140 123.1 581.7)"/><ellipse cx="74.9" cy="582.5" rx="2.8" ry="2.1" fill="#5A3424" transform="rotate(22 74.9 582.5)"/><ellipse cx="150.0" cy="646.2" rx="2.9" ry="2.5" fill="#5A3424" transform="rotate(101 150.0 646.2)"/><ellipse cx="87.7" cy="576.9" rx="2.1" ry="1.8" fill="#2E140C" transform="rotate(25 87.7 576.9)"/><ellipse cx="127.4" cy="597.0" rx="2.7" ry="2.7" fill="#2E140C" transform="rotate(0 127.4 597.0)"/><ellipse cx="60.7" cy="626.8" rx="2.9" ry="2.7" fill="#5A3424" transform="rotate(136 60.7 626.8)"/><ellipse cx="148.9" cy="588.7" rx="2.2" ry="2.4" fill="#3A1C12" transform="rotate(91 148.9 588.7)"/><ellipse cx="96.9" cy="609.7" rx="3.2" ry="2.6" fill="#2E140C" transform="rotate(23 96.9 609.7)"/><ellipse cx="69.5" cy="604.2" rx="2.9" ry="2.3" fill="#5A3424" transform="rotate(68 69.5 604.2)"/><ellipse cx="143.9" cy="580.4" rx="2.9" ry="2.1" fill="#4A281A" transform="rotate(88 143.9 580.4)"/><ellipse cx="68.6" cy="649.0" rx="2.7" ry="2.7" fill="#5A3424" transform="rotate(150 68.6 649.0)"/><ellipse cx="99.0" cy="583.3" rx="2.3" ry="2.7" fill="#3A1C12" transform="rotate(160 99.0 583.3)"/><ellipse cx="90.4" cy="605.5" rx="3.1" ry="1.8" fill="#4A281A" transform="rotate(110 90.4 605.5)"/><ellipse cx="87.4" cy="593.9" rx="2.8" ry="1.9" fill="#3A1C12" transform="rotate(87 87.4 593.9)"/><ellipse cx="67.5" cy="588.6" rx="2.2" ry="2.3" fill="#3A1C12" transform="rotate(100 67.5 588.6)"/><ellipse cx="98.4" cy="630.3" rx="2.8" ry="2.2" fill="#3A1C12" transform="rotate(153 98.4 630.3)"/><ellipse cx="150.3" cy="607.0" rx="3.0" ry="2.4" fill="#2E140C" transform="rotate(18 150.3 607.0)"/><ellipse cx="77.6" cy="600.5" rx="2.5" ry="2.4" fill="#5A3424" transform="rotate(90 77.6 600.5)"/><ellipse cx="139.0" cy="626.6" rx="2.4" ry="2.3" fill="#4A281A" transform="rotate(44 139.0 626.6)"/><ellipse cx="143.2" cy="596.3" rx="2.3" ry="2.2" fill="#2E140C" transform="rotate(142 143.2 596.3)"/><ellipse cx="59.2" cy="577.9" rx="3.2" ry="2.3" fill="#2E140C" transform="rotate(159 59.2 577.9)"/><ellipse cx="115.8" cy="624.0" rx="2.4" ry="2.6" fill="#3A1C12" transform="rotate(110 115.8 624.0)"/><ellipse cx="76.5" cy="640.4" rx="2.6" ry="1.7" fill="#4A281A" transform="rotate(56 76.5 640.4)"/><ellipse cx="110.0" cy="576.4" rx="2.5" ry="2.4" fill="#3A1C12" transform="rotate(90 110.0 576.4)"/><ellipse cx="127.1" cy="625.4" rx="2.8" ry="2.5" fill="#5A3424" transform="rotate(49 127.1 625.4)"/><ellipse cx="59.0" cy="646.6" rx="3.2" ry="2.4" fill="#4A281A" transform="rotate(126 59.0 646.6)"/><ellipse cx="150.3" cy="613.5" rx="3.1" ry="2.0" fill="#5A3424" transform="rotate(38 150.3 613.5)"/></g>
</g></g>
<g clip-path="url(#cp21)"><g filter="url(#soft2)">
<rect x="151.5" y="576.3" width="94.0" height="72.7" fill="#E7E5F2" opacity="1"/>
<rect x="151.5" y="576.3" width="94.0" height="72.7" fill="#000" filter="url(#fPatchBlue2)" opacity="0.6"/>
<g opacity="1.0"><ellipse cx="205.1" cy="622.3" rx="1.8" ry="2.3" fill="#6E6CB4" transform="rotate(82 205.1 622.3)"/><ellipse cx="228.3" cy="596.5" rx="1.4" ry="1.8" fill="#7C7ABE" transform="rotate(19 228.3 596.5)"/><ellipse cx="212.8" cy="641.1" rx="1.4" ry="2.1" fill="#6E6CB4" transform="rotate(18 212.8 641.1)"/><ellipse cx="236.9" cy="589.9" rx="1.7" ry="1.5" fill="#7C7ABE" transform="rotate(136 236.9 589.9)"/><ellipse cx="212.8" cy="621.2" rx="2.0" ry="1.6" fill="#6E6CB4" transform="rotate(23 212.8 621.2)"/><ellipse cx="198.8" cy="646.5" rx="2.5" ry="1.1" fill="#7C7ABE" transform="rotate(52 198.8 646.5)"/><ellipse cx="201.2" cy="608.7" rx="2.9" ry="1.5" fill="#6E6CB4" transform="rotate(92 201.2 608.7)"/><ellipse cx="180.6" cy="612.4" rx="2.9" ry="1.8" fill="#8C8AC8" transform="rotate(31 180.6 612.4)"/><ellipse cx="156.4" cy="620.5" rx="2.7" ry="2.0" fill="#5E5CA6" transform="rotate(131 156.4 620.5)"/><ellipse cx="220.7" cy="607.3" rx="2.4" ry="1.9" fill="#6E6CB4" transform="rotate(116 220.7 607.3)"/><ellipse cx="231.1" cy="643.8" rx="1.5" ry="2.0" fill="#7C7ABE" transform="rotate(42 231.1 643.8)"/><ellipse cx="235.8" cy="630.8" rx="1.8" ry="1.0" fill="#6E6CB4" transform="rotate(179 235.8 630.8)"/><ellipse cx="163.1" cy="599.7" rx="1.6" ry="1.3" fill="#7C7ABE" transform="rotate(50 163.1 599.7)"/><ellipse cx="174.3" cy="596.1" rx="2.1" ry="1.3" fill="#8C8AC8" transform="rotate(22 174.3 596.1)"/><ellipse cx="152.1" cy="614.4" rx="2.9" ry="2.1" fill="#7C7ABE" transform="rotate(8 152.1 614.4)"/><ellipse cx="180.1" cy="605.0" rx="1.5" ry="1.5" fill="#5E5CA6" transform="rotate(33 180.1 605.0)"/><ellipse cx="168.9" cy="584.3" rx="2.7" ry="1.8" fill="#8C8AC8" transform="rotate(90 168.9 584.3)"/><ellipse cx="221.8" cy="617.0" rx="2.5" ry="2.0" fill="#7C7ABE" transform="rotate(75 221.8 617.0)"/><ellipse cx="156.9" cy="596.3" rx="1.9" ry="1.7" fill="#8C8AC8" transform="rotate(119 156.9 596.3)"/><ellipse cx="170.6" cy="590.3" rx="3.1" ry="1.3" fill="#7C7ABE" transform="rotate(5 170.6 590.3)"/><ellipse cx="213.0" cy="609.6" rx="2.5" ry="2.2" fill="#5E5CA6" transform="rotate(1 213.0 609.6)"/><ellipse cx="196.0" cy="602.3" rx="1.9" ry="1.8" fill="#8C8AC8" transform="rotate(111 196.0 602.3)"/><ellipse cx="202.2" cy="633.4" rx="2.9" ry="1.9" fill="#8C8AC8" transform="rotate(2 202.2 633.4)"/><ellipse cx="180.5" cy="581.4" rx="2.5" ry="1.9" fill="#6E6CB4" transform="rotate(166 180.5 581.4)"/><ellipse cx="224.9" cy="584.4" rx="1.5" ry="1.6" fill="#7C7ABE" transform="rotate(49 224.9 584.4)"/><ellipse cx="233.5" cy="577.4" rx="1.6" ry="2.4" fill="#7C7ABE" transform="rotate(134 233.5 577.4)"/><ellipse cx="181.1" cy="640.9" rx="2.5" ry="1.9" fill="#7C7ABE" transform="rotate(1 181.1 640.9)"/><ellipse cx="217.5" cy="588.2" rx="1.8" ry="1.5" fill="#5E5CA6" transform="rotate(37 217.5 588.2)"/><ellipse cx="198.0" cy="620.8" rx="2.3" ry="1.0" fill="#7C7ABE" transform="rotate(136 198.0 620.8)"/><ellipse cx="208.1" cy="629.3" rx="2.8" ry="1.3" fill="#6E6CB4" transform="rotate(87 208.1 629.3)"/><ellipse cx="195.0" cy="607.0" rx="2.6" ry="1.5" fill="#7C7ABE" transform="rotate(161 195.0 607.0)"/><ellipse cx="199.2" cy="595.2" rx="2.8" ry="1.6" fill="#7C7ABE" transform="rotate(167 199.2 595.2)"/><ellipse cx="196.8" cy="577.8" rx="2.8" ry="2.3" fill="#5E5CA6" transform="rotate(3 196.8 577.8)"/><ellipse cx="188.8" cy="634.7" rx="2.4" ry="1.5" fill="#5E5CA6" transform="rotate(72 188.8 634.7)"/><ellipse cx="210.0" cy="597.1" rx="1.5" ry="2.1" fill="#5E5CA6" transform="rotate(36 210.0 597.1)"/><ellipse cx="242.3" cy="636.7" rx="1.9" ry="1.6" fill="#6E6CB4" transform="rotate(50 242.3 636.7)"/><ellipse cx="238.5" cy="639.5" rx="2.1" ry="1.8" fill="#7C7ABE" transform="rotate(51 238.5 639.5)"/><ellipse cx="199.6" cy="638.1" rx="2.6" ry="1.9" fill="#5E5CA6" transform="rotate(167 199.6 638.1)"/><ellipse cx="176.9" cy="618.7" rx="2.7" ry="1.2" fill="#7C7ABE" transform="rotate(8 176.9 618.7)"/><ellipse cx="205.4" cy="590.7" rx="2.0" ry="1.9" fill="#7C7ABE" transform="rotate(17 205.4 590.7)"/><ellipse cx="245.1" cy="625.7" rx="2.5" ry="1.9" fill="#6E6CB4" transform="rotate(88 245.1 625.7)"/><ellipse cx="190.4" cy="642.9" rx="2.9" ry="1.4" fill="#7C7ABE" transform="rotate(85 190.4 642.9)"/><ellipse cx="224.9" cy="633.8" rx="1.8" ry="1.3" fill="#5E5CA6" transform="rotate(14 224.9 633.8)"/><ellipse cx="221.1" cy="639.3" rx="2.0" ry="1.8" fill="#8C8AC8" transform="rotate(93 221.1 639.3)"/><ellipse cx="242.5" cy="631.2" rx="2.5" ry="1.8" fill="#6E6CB4" transform="rotate(55 242.5 631.2)"/><ellipse cx="193.8" cy="591.0" rx="1.7" ry="1.0" fill="#5E5CA6" transform="rotate(98 193.8 591.0)"/><ellipse cx="159.2" cy="591.1" rx="1.7" ry="1.6" fill="#5E5CA6" transform="rotate(168 159.2 591.1)"/><ellipse cx="190.5" cy="585.8" rx="2.2" ry="2.1" fill="#6E6CB4" transform="rotate(111 190.5 585.8)"/><ellipse cx="226.7" cy="615.9" rx="2.5" ry="1.5" fill="#7C7ABE" transform="rotate(86 226.7 615.9)"/><ellipse cx="173.6" cy="578.0" rx="2.4" ry="1.6" fill="#7C7ABE" transform="rotate(93 173.6 578.0)"/><ellipse cx="185.5" cy="594.7" rx="2.1" ry="1.5" fill="#8C8AC8" transform="rotate(84 185.5 594.7)"/><ellipse cx="152.3" cy="608.9" rx="2.4" ry="2.2" fill="#5E5CA6" transform="rotate(95 152.3 608.9)"/><ellipse cx="219.6" cy="592.6" rx="2.5" ry="1.5" fill="#5E5CA6" transform="rotate(130 219.6 592.6)"/><ellipse cx="182.6" cy="635.2" rx="2.0" ry="2.1" fill="#5E5CA6" transform="rotate(39 182.6 635.2)"/><ellipse cx="225.7" cy="604.4" rx="1.8" ry="1.6" fill="#6E6CB4" transform="rotate(53 225.7 604.4)"/><ellipse cx="233.9" cy="581.9" rx="3.0" ry="2.0" fill="#7C7ABE" transform="rotate(86 233.9 581.9)"/><ellipse cx="210.1" cy="590.0" rx="3.0" ry="2.4" fill="#7C7ABE" transform="rotate(21 210.1 590.0)"/><ellipse cx="178.2" cy="629.4" rx="2.1" ry="2.2" fill="#6E6CB4" transform="rotate(128 178.2 629.4)"/><ellipse cx="214.3" cy="645.4" rx="2.0" ry="1.8" fill="#7C7ABE" transform="rotate(53 214.3 645.4)"/><ellipse cx="166.9" cy="604.2" rx="1.8" ry="2.0" fill="#8C8AC8" transform="rotate(151 166.9 604.2)"/><ellipse cx="233.6" cy="648.5" rx="2.6" ry="2.2" fill="#8C8AC8" transform="rotate(60 233.6 648.5)"/><ellipse cx="206.7" cy="633.8" rx="1.8" ry="1.9" fill="#6E6CB4" transform="rotate(98 206.7 633.8)"/><ellipse cx="227.1" cy="590.5" rx="2.2" ry="1.1" fill="#7C7ABE" transform="rotate(57 227.1 590.5)"/><ellipse cx="193.8" cy="636.1" rx="3.1" ry="1.7" fill="#7C7ABE" transform="rotate(101 193.8 636.1)"/><ellipse cx="184.5" cy="585.0" rx="2.8" ry="2.1" fill="#5E5CA6" transform="rotate(169 184.5 585.0)"/><ellipse cx="228.9" cy="623.6" rx="1.9" ry="2.0" fill="#7C7ABE" transform="rotate(122 228.9 623.6)"/><ellipse cx="182.4" cy="623.6" rx="1.7" ry="1.6" fill="#7C7ABE" transform="rotate(9 182.4 623.6)"/><ellipse cx="218.9" cy="580.8" rx="1.9" ry="2.4" fill="#7C7ABE" transform="rotate(25 218.9 580.8)"/><ellipse cx="190.8" cy="599.3" rx="1.4" ry="1.5" fill="#6E6CB4" transform="rotate(123 190.8 599.3)"/><ellipse cx="220.9" cy="625.0" rx="2.4" ry="1.7" fill="#7C7ABE" transform="rotate(68 220.9 625.0)"/><ellipse cx="175.9" cy="648.2" rx="2.8" ry="2.2" fill="#6E6CB4" transform="rotate(66 175.9 648.2)"/><ellipse cx="158.9" cy="607.7" rx="2.9" ry="2.2" fill="#7C7ABE" transform="rotate(81 158.9 607.7)"/><ellipse cx="182.9" cy="589.3" rx="1.6" ry="1.0" fill="#7C7ABE" transform="rotate(170 182.9 589.3)"/><ellipse cx="179.8" cy="597.9" rx="1.6" ry="2.4" fill="#7C7ABE" transform="rotate(175 179.8 597.9)"/><ellipse cx="182.1" cy="619.1" rx="1.5" ry="2.3" fill="#8C8AC8" transform="rotate(132 182.1 619.1)"/><ellipse cx="157.5" cy="615.2" rx="2.8" ry="1.1" fill="#5E5CA6" transform="rotate(57 157.5 615.2)"/><ellipse cx="167.1" cy="621.8" rx="1.8" ry="1.8" fill="#6E6CB4" transform="rotate(115 167.1 621.8)"/><ellipse cx="219.5" cy="646.5" rx="2.2" ry="2.1" fill="#8C8AC8" transform="rotate(45 219.5 646.5)"/><ellipse cx="184.1" cy="644.7" rx="3.0" ry="2.1" fill="#6E6CB4" transform="rotate(162 184.1 644.7)"/><ellipse cx="189.1" cy="622.1" rx="2.4" ry="1.7" fill="#6E6CB4" transform="rotate(137 189.1 622.1)"/><ellipse cx="218.6" cy="630.5" rx="2.1" ry="2.0" fill="#7C7ABE" transform="rotate(7 218.6 630.5)"/><ellipse cx="239.6" cy="621.4" rx="1.8" ry="2.2" fill="#8C8AC8" transform="rotate(67 239.6 621.4)"/><ellipse cx="216.6" cy="612.5" rx="2.1" ry="1.1" fill="#6E6CB4" transform="rotate(63 216.6 612.5)"/><ellipse cx="162.1" cy="616.4" rx="2.7" ry="1.5" fill="#8C8AC8" transform="rotate(40 162.1 616.4)"/><ellipse cx="225.9" cy="579.7" rx="2.4" ry="1.3" fill="#6E6CB4" transform="rotate(18 225.9 579.7)"/><ellipse cx="171.2" cy="616.1" rx="2.9" ry="1.8" fill="#8C8AC8" transform="rotate(110 171.2 616.1)"/><ellipse cx="222.8" cy="612.2" rx="2.0" ry="1.4" fill="#5E5CA6" transform="rotate(25 222.8 612.2)"/><ellipse cx="216.1" cy="602.4" rx="1.5" ry="1.5" fill="#6E6CB4" transform="rotate(179 216.1 602.4)"/><ellipse cx="187.0" cy="614.2" rx="2.4" ry="1.4" fill="#8C8AC8" transform="rotate(135 187.0 614.2)"/><ellipse cx="151.7" cy="590.9" rx="2.1" ry="1.1" fill="#5E5CA6" transform="rotate(38 151.7 590.9)"/><ellipse cx="225.1" cy="628.3" rx="2.5" ry="1.4" fill="#6E6CB4" transform="rotate(103 225.1 628.3)"/><ellipse cx="209.3" cy="583.3" rx="1.7" ry="1.1" fill="#5E5CA6" transform="rotate(70 209.3 583.3)"/><ellipse cx="175.6" cy="602.8" rx="2.2" ry="1.6" fill="#8C8AC8" transform="rotate(113 175.6 602.8)"/><ellipse cx="203.0" cy="578.2" rx="1.7" ry="1.5" fill="#6E6CB4" transform="rotate(28 203.0 578.2)"/><ellipse cx="243.5" cy="605.2" rx="2.5" ry="1.6" fill="#7C7ABE" transform="rotate(135 243.5 605.2)"/><ellipse cx="197.8" cy="582.1" rx="2.0" ry="2.2" fill="#6E6CB4" transform="rotate(75 197.8 582.1)"/><ellipse cx="233.3" cy="639.8" rx="2.4" ry="1.4" fill="#8C8AC8" transform="rotate(58 233.3 639.8)"/><ellipse cx="213.5" cy="631.2" rx="2.2" ry="2.0" fill="#8C8AC8" transform="rotate(29 213.5 631.2)"/><ellipse cx="241.8" cy="577.6" rx="2.8" ry="1.5" fill="#5E5CA6" transform="rotate(128 241.8 577.6)"/><ellipse cx="243.5" cy="585.9" rx="1.8" ry="2.1" fill="#5E5CA6" transform="rotate(156 243.5 585.9)"/><ellipse cx="191.9" cy="648.4" rx="2.0" ry="1.5" fill="#5E5CA6" transform="rotate(127 191.9 648.4)"/><ellipse cx="232.8" cy="614.7" rx="2.5" ry="2.1" fill="#8C8AC8" transform="rotate(147 232.8 614.7)"/><ellipse cx="236.9" cy="644.2" rx="2.7" ry="2.4" fill="#5E5CA6" transform="rotate(109 236.9 644.2)"/><ellipse cx="190.5" cy="629.7" rx="1.5" ry="2.3" fill="#5E5CA6" transform="rotate(34 190.5 629.7)"/><ellipse cx="236.3" cy="603.3" rx="2.2" ry="1.5" fill="#6E6CB4" transform="rotate(20 236.3 603.3)"/><ellipse cx="204.3" cy="602.6" rx="1.4" ry="1.6" fill="#6E6CB4" transform="rotate(88 204.3 602.6)"/><ellipse cx="212.9" cy="578.1" rx="2.2" ry="2.2" fill="#6E6CB4" transform="rotate(163 212.9 578.1)"/><ellipse cx="176.2" cy="637.2" rx="2.4" ry="2.1" fill="#7C7ABE" transform="rotate(50 176.2 637.2)"/><ellipse cx="187.3" cy="578.6" rx="2.9" ry="1.7" fill="#6E6CB4" transform="rotate(64 187.3 578.6)"/><ellipse cx="185.7" cy="604.7" rx="3.0" ry="1.3" fill="#7C7ABE" transform="rotate(125 185.7 604.7)"/><ellipse cx="190.4" cy="594.0" rx="2.4" ry="2.2" fill="#5E5CA6" transform="rotate(80 190.4 594.0)"/><ellipse cx="176.2" cy="610.1" rx="1.3" ry="2.0" fill="#5E5CA6" transform="rotate(167 176.2 610.1)"/><ellipse cx="206.3" cy="614.5" rx="2.1" ry="2.3" fill="#6E6CB4" transform="rotate(32 206.3 614.5)"/><ellipse cx="215.1" cy="636.2" rx="3.0" ry="2.2" fill="#5E5CA6" transform="rotate(118 215.1 636.2)"/><ellipse cx="208.5" cy="648.1" rx="1.5" ry="2.0" fill="#8C8AC8" transform="rotate(15 208.5 648.1)"/><ellipse cx="172.6" cy="642.5" rx="2.9" ry="2.1" fill="#6E6CB4" transform="rotate(58 172.6 642.5)"/><ellipse cx="177.5" cy="592.1" rx="3.0" ry="1.1" fill="#8C8AC8" transform="rotate(36 177.5 592.1)"/><ellipse cx="201.9" cy="615.3" rx="1.4" ry="2.3" fill="#6E6CB4" transform="rotate(90 201.9 615.3)"/><ellipse cx="210.3" cy="602.5" rx="2.9" ry="1.7" fill="#6E6CB4" transform="rotate(84 210.3 602.5)"/><ellipse cx="227.5" cy="610.0" rx="2.8" ry="2.3" fill="#5E5CA6" transform="rotate(177 227.5 610.0)"/><ellipse cx="206.9" cy="609.4" rx="2.7" ry="2.0" fill="#8C8AC8" transform="rotate(25 206.9 609.4)"/><ellipse cx="167.4" cy="612.4" rx="1.7" ry="1.2" fill="#6E6CB4" transform="rotate(130 167.4 612.4)"/><ellipse cx="152.0" cy="598.4" rx="2.9" ry="2.3" fill="#5E5CA6" transform="rotate(130 152.0 598.4)"/><ellipse cx="193.4" cy="613.5" rx="1.6" ry="2.2" fill="#5E5CA6" transform="rotate(156 193.4 613.5)"/><ellipse cx="207.6" cy="577.7" rx="1.4" ry="1.9" fill="#7C7ABE" transform="rotate(58 207.6 577.7)"/><ellipse cx="173.0" cy="582.4" rx="2.7" ry="1.4" fill="#5E5CA6" transform="rotate(137 173.0 582.4)"/><ellipse cx="234.7" cy="625.9" rx="1.9" ry="1.2" fill="#6E6CB4" transform="rotate(96 234.7 625.9)"/><ellipse cx="231.6" cy="600.6" rx="1.7" ry="1.7" fill="#6E6CB4" transform="rotate(2 231.6 600.6)"/><ellipse cx="194.2" cy="618.5" rx="2.2" ry="1.6" fill="#8C8AC8" transform="rotate(170 194.2 618.5)"/><ellipse cx="199.3" cy="587.4" rx="2.7" ry="2.1" fill="#8C8AC8" transform="rotate(177 199.3 587.4)"/><ellipse cx="243.6" cy="595.2" rx="1.9" ry="1.3" fill="#7C7ABE" transform="rotate(154 243.6 595.2)"/><ellipse cx="183.7" cy="600.0" rx="2.8" ry="1.6" fill="#5E5CA6" transform="rotate(101 183.7 600.0)"/><ellipse cx="166.4" cy="595.1" rx="2.5" ry="1.0" fill="#5E5CA6" transform="rotate(149 166.4 595.1)"/><ellipse cx="241.3" cy="647.4" rx="2.9" ry="2.2" fill="#8C8AC8" transform="rotate(75 241.3 647.4)"/><ellipse cx="217.1" cy="620.2" rx="2.6" ry="1.7" fill="#8C8AC8" transform="rotate(37 217.1 620.2)"/><ellipse cx="214.2" cy="591.7" rx="2.6" ry="1.3" fill="#5E5CA6" transform="rotate(30 214.2 591.7)"/><ellipse cx="195.3" cy="629.3" rx="2.1" ry="1.9" fill="#8C8AC8" transform="rotate(135 195.3 629.3)"/><ellipse cx="170.0" cy="607.5" rx="2.1" ry="1.5" fill="#7C7ABE" transform="rotate(2 170.0 607.5)"/><ellipse cx="221.8" cy="577.3" rx="1.4" ry="1.7" fill="#6E6CB4" transform="rotate(33 221.8 577.3)"/><ellipse cx="208.6" cy="639.4" rx="2.1" ry="2.2" fill="#6E6CB4" transform="rotate(79 208.6 639.4)"/><ellipse cx="212.1" cy="615.4" rx="2.1" ry="2.1" fill="#5E5CA6" transform="rotate(13 212.1 615.4)"/><ellipse cx="242.9" cy="600.5" rx="2.7" ry="1.4" fill="#5E5CA6" transform="rotate(125 242.9 600.5)"/><ellipse cx="232.0" cy="608.6" rx="1.7" ry="1.4" fill="#5E5CA6" transform="rotate(167 232.0 608.6)"/><ellipse cx="182.6" cy="577.4" rx="2.8" ry="1.8" fill="#5E5CA6" transform="rotate(78 182.6 577.4)"/><ellipse cx="190.3" cy="606.2" rx="1.8" ry="1.5" fill="#7C7ABE" transform="rotate(22 190.3 606.2)"/><ellipse cx="206.0" cy="643.9" rx="1.6" ry="2.4" fill="#5E5CA6" transform="rotate(64 206.0 643.9)"/><ellipse cx="153.5" cy="603.9" rx="2.8" ry="1.2" fill="#6E6CB4" transform="rotate(119 153.5 603.9)"/><ellipse cx="225.6" cy="640.3" rx="2.1" ry="2.2" fill="#7C7ABE" transform="rotate(152 225.6 640.3)"/><ellipse cx="223.1" cy="595.9" rx="1.6" ry="1.8" fill="#5E5CA6" transform="rotate(76 223.1 595.9)"/><ellipse cx="178.4" cy="586.4" rx="2.9" ry="1.7" fill="#5E5CA6" transform="rotate(150 178.4 586.4)"/></g>
</g></g>
<g clip-path="url(#cp22)"><g filter="url(#soft2)">
<rect x="246.4" y="576.3" width="92.6" height="72.7" fill="#C89A6C" opacity="1"/>
<rect x="246.4" y="576.3" width="92.6" height="72.7" fill="#000" filter="url(#fBrownLite2)" opacity="0.5"/>
<rect x="246.4" y="576.3" width="92.6" height="72.7" fill="#000" filter="url(#fWhite2)" opacity="0.35"/>
<path d="M300,600 L312,596 L318,606 L316,622 L306,626 L299,616 Z" fill="#CFC0C8" opacity="0.7"/>
<g opacity="1.0"><ellipse cx="271.6" cy="611.8" rx="2.2" ry="1.5" fill="#3A1D0A" transform="rotate(10 271.6 611.8)"/><ellipse cx="254.0" cy="600.9" rx="2.2" ry="2.0" fill="#2E1606" transform="rotate(23 254.0 600.9)"/><ellipse cx="253.1" cy="577.1" rx="1.7" ry="1.7" fill="#552C10" transform="rotate(73 253.1 577.1)"/><ellipse cx="272.7" cy="584.9" rx="2.0" ry="1.9" fill="#3A1D0A" transform="rotate(15 272.7 584.9)"/><ellipse cx="275.2" cy="630.4" rx="1.9" ry="2.0" fill="#4A260E" transform="rotate(165 275.2 630.4)"/><ellipse cx="249.7" cy="621.7" rx="2.4" ry="2.0" fill="#2E1606" transform="rotate(50 249.7 621.7)"/><ellipse cx="258.9" cy="634.1" rx="1.6" ry="2.0" fill="#241004" transform="rotate(105 258.9 634.1)"/><ellipse cx="314.6" cy="591.6" rx="2.0" ry="1.8" fill="#241004" transform="rotate(39 314.6 591.6)"/><ellipse cx="324.9" cy="628.4" rx="1.8" ry="1.5" fill="#241004" transform="rotate(68 324.9 628.4)"/><ellipse cx="253.3" cy="606.0" rx="1.6" ry="1.6" fill="#241004" transform="rotate(31 253.3 606.0)"/><ellipse cx="311.3" cy="643.4" rx="1.7" ry="1.3" fill="#241004" transform="rotate(119 311.3 643.4)"/><ellipse cx="262.3" cy="594.6" rx="2.3" ry="2.0" fill="#552C10" transform="rotate(131 262.3 594.6)"/><ellipse cx="318.2" cy="646.3" rx="1.5" ry="1.7" fill="#552C10" transform="rotate(69 318.2 646.3)"/><ellipse cx="255.1" cy="582.8" rx="2.4" ry="1.6" fill="#2E1606" transform="rotate(157 255.1 582.8)"/><ellipse cx="316.0" cy="599.3" rx="1.6" ry="1.3" fill="#241004" transform="rotate(94 316.0 599.3)"/><ellipse cx="282.2" cy="640.0" rx="2.0" ry="1.3" fill="#552C10" transform="rotate(91 282.2 640.0)"/><ellipse cx="315.5" cy="624.3" rx="1.8" ry="1.3" fill="#3A1D0A" transform="rotate(88 315.5 624.3)"/><ellipse cx="321.4" cy="623.1" rx="2.2" ry="1.3" fill="#4A260E" transform="rotate(80 321.4 623.1)"/><ellipse cx="301.3" cy="580.7" rx="1.8" ry="1.5" fill="#2E1606" transform="rotate(165 301.3 580.7)"/><ellipse cx="330.6" cy="642.6" rx="1.5" ry="1.4" fill="#4A260E" transform="rotate(55 330.6 642.6)"/><ellipse cx="278.9" cy="621.8" rx="2.0" ry="1.7" fill="#2E1606" transform="rotate(154 278.9 621.8)"/><ellipse cx="248.0" cy="612.6" rx="1.7" ry="2.0" fill="#241004" transform="rotate(68 248.0 612.6)"/><ellipse cx="304.1" cy="597.7" rx="2.3" ry="1.5" fill="#241004" transform="rotate(103 304.1 597.7)"/><ellipse cx="284.8" cy="637.0" rx="2.2" ry="2.1" fill="#241004" transform="rotate(148 284.8 637.0)"/><ellipse cx="259.7" cy="609.4" rx="2.0" ry="1.7" fill="#241004" transform="rotate(45 259.7 609.4)"/><ellipse cx="328.1" cy="620.8" rx="1.7" ry="1.6" fill="#2E1606" transform="rotate(17 328.1 620.8)"/><ellipse cx="249.1" cy="638.7" rx="2.1" ry="2.0" fill="#241004" transform="rotate(123 249.1 638.7)"/><ellipse cx="307.4" cy="614.1" rx="2.3" ry="1.8" fill="#552C10" transform="rotate(63 307.4 614.1)"/><ellipse cx="273.1" cy="598.2" rx="2.3" ry="1.9" fill="#2E1606" transform="rotate(102 273.1 598.2)"/><ellipse cx="263.3" cy="621.5" rx="2.1" ry="2.0" fill="#3A1D0A" transform="rotate(12 263.3 621.5)"/><ellipse cx="251.0" cy="645.0" rx="2.1" ry="1.9" fill="#4A260E" transform="rotate(53 251.0 645.0)"/><ellipse cx="255.9" cy="621.7" rx="1.9" ry="1.7" fill="#241004" transform="rotate(6 255.9 621.7)"/><ellipse cx="299.7" cy="602.6" rx="1.6" ry="1.6" fill="#4A260E" transform="rotate(5 299.7 602.6)"/><ellipse cx="276.9" cy="646.9" rx="2.4" ry="1.9" fill="#3A1D0A" transform="rotate(77 276.9 646.9)"/><ellipse cx="260.2" cy="578.0" rx="1.7" ry="2.1" fill="#3A1D0A" transform="rotate(115 260.2 578.0)"/><ellipse cx="336.2" cy="637.7" rx="2.3" ry="1.7" fill="#3A1D0A" transform="rotate(71 336.2 637.7)"/><ellipse cx="319.1" cy="641.3" rx="1.8" ry="1.3" fill="#3A1D0A" transform="rotate(53 319.1 641.3)"/><ellipse cx="252.4" cy="585.9" rx="1.6" ry="1.7" fill="#241004" transform="rotate(123 252.4 585.9)"/><ellipse cx="282.7" cy="620.1" rx="1.6" ry="2.0" fill="#3A1D0A" transform="rotate(173 282.7 620.1)"/><ellipse cx="254.1" cy="626.9" rx="2.1" ry="2.0" fill="#2E1606" transform="rotate(22 254.1 626.9)"/><ellipse cx="316.3" cy="608.8" rx="1.8" ry="1.4" fill="#3A1D0A" transform="rotate(42 316.3 608.8)"/><ellipse cx="325.0" cy="604.6" rx="2.1" ry="1.3" fill="#3A1D0A" transform="rotate(51 325.0 604.6)"/><ellipse cx="283.6" cy="603.7" rx="2.4" ry="2.0" fill="#241004" transform="rotate(121 283.6 603.7)"/><ellipse cx="253.1" cy="619.2" rx="2.1" ry="2.0" fill="#3A1D0A" transform="rotate(32 253.1 619.2)"/><ellipse cx="268.1" cy="602.8" rx="1.7" ry="1.4" fill="#2E1606" transform="rotate(172 268.1 602.8)"/><ellipse cx="328.5" cy="592.0" rx="1.5" ry="1.9" fill="#4A260E" transform="rotate(14 328.5 592.0)"/><ellipse cx="334.7" cy="604.8" rx="2.1" ry="1.6" fill="#552C10" transform="rotate(93 334.7 604.8)"/><ellipse cx="294.6" cy="627.8" rx="1.6" ry="1.4" fill="#4A260E" transform="rotate(54 294.6 627.8)"/><ellipse cx="309.5" cy="619.2" rx="1.9" ry="2.0" fill="#552C10" transform="rotate(143 309.5 619.2)"/><ellipse cx="331.2" cy="623.7" rx="1.5" ry="1.4" fill="#2E1606" transform="rotate(170 331.2 623.7)"/><ellipse cx="267.3" cy="579.9" rx="1.6" ry="1.5" fill="#552C10" transform="rotate(139 267.3 579.9)"/><ellipse cx="303.9" cy="603.2" rx="2.0" ry="1.8" fill="#3A1D0A" transform="rotate(16 303.9 603.2)"/><ellipse cx="306.8" cy="635.4" rx="1.7" ry="1.9" fill="#552C10" transform="rotate(117 306.8 635.4)"/><ellipse cx="333.6" cy="634.7" rx="1.6" ry="1.7" fill="#241004" transform="rotate(68 333.6 634.7)"/><ellipse cx="251.3" cy="632.2" rx="1.7" ry="1.4" fill="#552C10" transform="rotate(21 251.3 632.2)"/><ellipse cx="338.5" cy="610.0" rx="1.8" ry="1.8" fill="#2E1606" transform="rotate(107 338.5 610.0)"/><ellipse cx="329.7" cy="617.4" rx="2.4" ry="2.0" fill="#3A1D0A" transform="rotate(119 329.7 617.4)"/><ellipse cx="310.8" cy="582.2" rx="1.6" ry="1.3" fill="#241004" transform="rotate(54 310.8 582.2)"/><ellipse cx="301.2" cy="632.7" rx="1.7" ry="1.3" fill="#2E1606" transform="rotate(78 301.2 632.7)"/><ellipse cx="313.4" cy="647.2" rx="2.1" ry="1.6" fill="#2E1606" transform="rotate(25 313.4 647.2)"/><ellipse cx="326.6" cy="625.0" rx="1.6" ry="1.4" fill="#241004" transform="rotate(107 326.6 625.0)"/><ellipse cx="304.5" cy="586.9" rx="1.6" ry="1.7" fill="#4A260E" transform="rotate(16 304.5 586.9)"/><ellipse cx="299.8" cy="643.4" rx="2.3" ry="1.6" fill="#3A1D0A" transform="rotate(58 299.8 643.4)"/><ellipse cx="281.7" cy="577.7" rx="2.4" ry="2.0" fill="#3A1D0A" transform="rotate(20 281.7 577.7)"/><ellipse cx="257.7" cy="615.5" rx="2.2" ry="1.8" fill="#4A260E" transform="rotate(133 257.7 615.5)"/><ellipse cx="324.5" cy="579.8" rx="2.2" ry="2.0" fill="#552C10" transform="rotate(78 324.5 579.8)"/><ellipse cx="287.3" cy="621.9" rx="2.2" ry="1.9" fill="#3A1D0A" transform="rotate(19 287.3 621.9)"/><ellipse cx="293.0" cy="596.0" rx="2.0" ry="1.6" fill="#552C10" transform="rotate(21 293.0 596.0)"/><ellipse cx="326.9" cy="635.2" rx="2.4" ry="1.6" fill="#241004" transform="rotate(165 326.9 635.2)"/><ellipse cx="329.5" cy="585.4" rx="1.7" ry="1.3" fill="#4A260E" transform="rotate(71 329.5 585.4)"/><ellipse cx="295.9" cy="593.5" rx="2.3" ry="1.4" fill="#552C10" transform="rotate(158 295.9 593.5)"/><ellipse cx="255.3" cy="643.7" rx="2.0" ry="1.7" fill="#3A1D0A" transform="rotate(83 255.3 643.7)"/><ellipse cx="307.5" cy="609.5" rx="1.5" ry="2.1" fill="#4A260E" transform="rotate(1 307.5 609.5)"/><ellipse cx="317.3" cy="638.0" rx="2.2" ry="2.0" fill="#552C10" transform="rotate(82 317.3 638.0)"/><ellipse cx="289.5" cy="584.1" rx="1.9" ry="1.4" fill="#3A1D0A" transform="rotate(178 289.5 584.1)"/><ellipse cx="329.9" cy="613.2" rx="1.5" ry="2.1" fill="#552C10" transform="rotate(120 329.9 613.2)"/><ellipse cx="285.1" cy="590.4" rx="1.5" ry="1.3" fill="#241004" transform="rotate(177 285.1 590.4)"/><ellipse cx="294.6" cy="639.4" rx="2.4" ry="1.9" fill="#241004" transform="rotate(131 294.6 639.4)"/><ellipse cx="257.5" cy="648.4" rx="2.4" ry="2.1" fill="#241004" transform="rotate(111 257.5 648.4)"/><ellipse cx="294.9" cy="622.4" rx="1.6" ry="1.4" fill="#2E1606" transform="rotate(68 294.9 622.4)"/><ellipse cx="310.7" cy="606.3" rx="1.6" ry="1.7" fill="#4A260E" transform="rotate(159 310.7 606.3)"/><ellipse cx="304.2" cy="578.0" rx="2.2" ry="1.9" fill="#3A1D0A" transform="rotate(151 304.2 578.0)"/><ellipse cx="278.5" cy="602.9" rx="2.3" ry="1.8" fill="#4A260E" transform="rotate(72 278.5 602.9)"/><ellipse cx="278.1" cy="597.7" rx="2.1" ry="1.7" fill="#3A1D0A" transform="rotate(130 278.1 597.7)"/><ellipse cx="296.9" cy="579.4" rx="2.3" ry="2.0" fill="#4A260E" transform="rotate(51 296.9 579.4)"/><ellipse cx="305.5" cy="646.4" rx="2.4" ry="1.6" fill="#2E1606" transform="rotate(14 305.5 646.4)"/><ellipse cx="316.3" cy="620.4" rx="1.8" ry="1.4" fill="#552C10" transform="rotate(118 316.3 620.4)"/><ellipse cx="261.4" cy="584.1" rx="1.8" ry="1.6" fill="#2E1606" transform="rotate(144 261.4 584.1)"/><ellipse cx="337.9" cy="642.9" rx="1.9" ry="1.7" fill="#2E1606" transform="rotate(158 337.9 642.9)"/><ellipse cx="323.5" cy="638.1" rx="2.0" ry="1.6" fill="#241004" transform="rotate(11 323.5 638.1)"/><ellipse cx="280.5" cy="631.7" rx="1.8" ry="1.9" fill="#552C10" transform="rotate(52 280.5 631.7)"/><ellipse cx="333.3" cy="608.7" rx="2.0" ry="1.4" fill="#2E1606" transform="rotate(60 333.3 608.7)"/><ellipse cx="337.9" cy="586.7" rx="1.7" ry="2.0" fill="#2E1606" transform="rotate(34 337.9 586.7)"/><ellipse cx="333.5" cy="597.9" rx="2.2" ry="1.9" fill="#2E1606" transform="rotate(163 333.5 597.9)"/><ellipse cx="248.2" cy="579.1" rx="2.3" ry="1.9" fill="#241004" transform="rotate(113 248.2 579.1)"/><ellipse cx="310.1" cy="576.4" rx="1.8" ry="2.0" fill="#552C10" transform="rotate(33 310.1 576.4)"/><ellipse cx="268.5" cy="608.9" rx="2.3" ry="1.9" fill="#2E1606" transform="rotate(124 268.5 608.9)"/><ellipse cx="284.5" cy="644.0" rx="2.1" ry="1.8" fill="#552C10" transform="rotate(140 284.5 644.0)"/><ellipse cx="263.8" cy="636.3" rx="2.0" ry="1.4" fill="#2E1606" transform="rotate(104 263.8 636.3)"/><ellipse cx="288.9" cy="612.2" rx="2.0" ry="1.7" fill="#3A1D0A" transform="rotate(49 288.9 612.2)"/><ellipse cx="334.6" cy="590.4" rx="1.7" ry="1.9" fill="#3A1D0A" transform="rotate(174 334.6 590.4)"/><ellipse cx="272.6" cy="592.3" rx="1.6" ry="1.6" fill="#552C10" transform="rotate(28 272.6 592.3)"/><ellipse cx="306.8" cy="630.8" rx="1.8" ry="1.6" fill="#3A1D0A" transform="rotate(133 306.8 630.8)"/><ellipse cx="338.6" cy="626.3" rx="2.2" ry="2.0" fill="#4A260E" transform="rotate(117 338.6 626.3)"/><ellipse cx="271.4" cy="625.2" rx="2.3" ry="1.7" fill="#552C10" transform="rotate(141 271.4 625.2)"/><ellipse cx="287.9" cy="593.4" rx="2.2" ry="2.1" fill="#2E1606" transform="rotate(72 287.9 593.4)"/><ellipse cx="275.3" cy="626.1" rx="2.2" ry="1.9" fill="#4A260E" transform="rotate(87 275.3 626.1)"/><ellipse cx="323.7" cy="612.5" rx="2.1" ry="1.8" fill="#241004" transform="rotate(31 323.7 612.5)"/><ellipse cx="278.0" cy="638.4" rx="1.5" ry="1.8" fill="#552C10" transform="rotate(80 278.0 638.4)"/><ellipse cx="316.1" cy="633.5" rx="2.1" ry="1.7" fill="#552C10" transform="rotate(81 316.1 633.5)"/><ellipse cx="278.0" cy="613.4" rx="1.9" ry="1.7" fill="#2E1606" transform="rotate(64 278.0 613.4)"/><ellipse cx="325.9" cy="587.9" rx="2.3" ry="1.9" fill="#552C10" transform="rotate(4 325.9 587.9)"/><ellipse cx="302.8" cy="610.9" rx="2.2" ry="1.7" fill="#241004" transform="rotate(40 302.8 610.9)"/><ellipse cx="288.3" cy="647.1" rx="2.1" ry="1.5" fill="#552C10" transform="rotate(4 288.3 647.1)"/><ellipse cx="274.6" cy="617.5" rx="1.8" ry="1.7" fill="#552C10" transform="rotate(163 274.6 617.5)"/><ellipse cx="287.6" cy="615.9" rx="1.8" ry="2.0" fill="#3A1D0A" transform="rotate(26 287.6 615.9)"/><ellipse cx="331.9" cy="630.3" rx="1.6" ry="2.1" fill="#2E1606" transform="rotate(160 331.9 630.3)"/><ellipse cx="328.1" cy="646.8" rx="1.6" ry="1.5" fill="#241004" transform="rotate(156 328.1 646.8)"/><ellipse cx="334.3" cy="645.1" rx="1.6" ry="1.6" fill="#4A260E" transform="rotate(121 334.3 645.1)"/><ellipse cx="336.7" cy="578.3" rx="2.0" ry="1.7" fill="#4A260E" transform="rotate(94 336.7 578.3)"/><ellipse cx="324.3" cy="596.9" rx="2.0" ry="2.0" fill="#241004" transform="rotate(95 324.3 596.9)"/><ellipse cx="292.7" cy="610.4" rx="1.9" ry="2.0" fill="#2E1606" transform="rotate(0 292.7 610.4)"/><ellipse cx="258.5" cy="597.0" rx="2.2" ry="2.0" fill="#241004" transform="rotate(101 258.5 597.0)"/><ellipse cx="307.2" cy="593.8" rx="1.6" ry="1.7" fill="#3A1D0A" transform="rotate(165 307.2 593.8)"/><ellipse cx="309.5" cy="600.8" rx="1.8" ry="1.5" fill="#241004" transform="rotate(138 309.5 600.8)"/><ellipse cx="316.5" cy="616.1" rx="1.5" ry="2.0" fill="#4A260E" transform="rotate(158 316.5 616.1)"/><ellipse cx="310.8" cy="589.0" rx="2.3" ry="1.4" fill="#4A260E" transform="rotate(146 310.8 589.0)"/><ellipse cx="288.9" cy="600.0" rx="2.4" ry="1.9" fill="#552C10" transform="rotate(50 288.9 600.0)"/><ellipse cx="324.7" cy="616.9" rx="2.4" ry="1.7" fill="#552C10" transform="rotate(120 324.7 616.9)"/><ellipse cx="289.8" cy="604.7" rx="2.3" ry="1.8" fill="#241004" transform="rotate(105 289.8 604.7)"/><ellipse cx="261.9" cy="589.9" rx="2.4" ry="1.3" fill="#552C10" transform="rotate(4 261.9 589.9)"/><ellipse cx="271.7" cy="577.2" rx="1.9" ry="1.7" fill="#552C10" transform="rotate(3 271.7 577.2)"/><ellipse cx="296.8" cy="618.2" rx="2.3" ry="1.9" fill="#241004" transform="rotate(90 296.8 618.2)"/><ellipse cx="339.0" cy="614.2" rx="2.0" ry="1.6" fill="#2E1606" transform="rotate(12 339.0 614.2)"/><ellipse cx="321.0" cy="615.1" rx="2.4" ry="2.0" fill="#2E1606" transform="rotate(21 321.0 615.1)"/><ellipse cx="264.7" cy="641.1" rx="1.7" ry="1.4" fill="#552C10" transform="rotate(53 264.7 641.1)"/><ellipse cx="305.1" cy="641.3" rx="2.1" ry="1.4" fill="#3A1D0A" transform="rotate(160 305.1 641.3)"/><ellipse cx="281.3" cy="648.6" rx="1.8" ry="1.4" fill="#241004" transform="rotate(143 281.3 648.6)"/><ellipse cx="255.5" cy="631.5" rx="2.0" ry="2.0" fill="#2E1606" transform="rotate(0 255.5 631.5)"/><ellipse cx="266.9" cy="647.7" rx="1.7" ry="2.0" fill="#552C10" transform="rotate(52 266.9 647.7)"/><ellipse cx="295.8" cy="585.4" rx="1.6" ry="1.8" fill="#4A260E" transform="rotate(176 295.8 585.4)"/><ellipse cx="254.2" cy="636.6" rx="2.4" ry="1.7" fill="#241004" transform="rotate(94 254.2 636.6)"/><ellipse cx="310.2" cy="625.3" rx="2.0" ry="1.6" fill="#2E1606" transform="rotate(155 310.2 625.3)"/><ellipse cx="267.7" cy="615.4" rx="2.2" ry="1.4" fill="#241004" transform="rotate(176 267.7 615.4)"/><ellipse cx="287.7" cy="608.5" rx="1.7" ry="1.4" fill="#552C10" transform="rotate(139 287.7 608.5)"/><ellipse cx="302.3" cy="627.9" rx="2.3" ry="1.9" fill="#2E1606" transform="rotate(167 302.3 627.9)"/><ellipse cx="268.0" cy="636.4" rx="2.1" ry="1.5" fill="#2E1606" transform="rotate(54 268.0 636.4)"/><ellipse cx="320.1" cy="619.0" rx="1.5" ry="1.9" fill="#552C10" transform="rotate(100 320.1 619.0)"/><ellipse cx="287.8" cy="576.4" rx="2.2" ry="1.5" fill="#552C10" transform="rotate(1 287.8 576.4)"/><ellipse cx="279.4" cy="643.6" rx="2.2" ry="1.7" fill="#241004" transform="rotate(77 279.4 643.6)"/><ellipse cx="250.0" cy="592.1" rx="1.5" ry="1.7" fill="#4A260E" transform="rotate(111 250.0 592.1)"/><ellipse cx="336.9" cy="600.7" rx="1.8" ry="1.5" fill="#2E1606" transform="rotate(149 336.9 600.7)"/><ellipse cx="332.3" cy="582.8" rx="2.4" ry="1.5" fill="#552C10" transform="rotate(124 332.3 582.8)"/><ellipse cx="279.0" cy="590.5" rx="2.3" ry="2.0" fill="#552C10" transform="rotate(149 279.0 590.5)"/><ellipse cx="271.7" cy="633.4" rx="2.1" ry="1.5" fill="#552C10" transform="rotate(92 271.7 633.4)"/><ellipse cx="268.7" cy="590.5" rx="2.3" ry="1.8" fill="#552C10" transform="rotate(157 268.7 590.5)"/><ellipse cx="322.9" cy="585.1" rx="2.4" ry="1.5" fill="#4A260E" transform="rotate(147 322.9 585.1)"/><ellipse cx="280.9" cy="594.3" rx="1.8" ry="1.5" fill="#2E1606" transform="rotate(122 280.9 594.3)"/><ellipse cx="317.5" cy="584.2" rx="1.8" ry="1.5" fill="#3A1D0A" transform="rotate(120 317.5 584.2)"/><ellipse cx="328.7" cy="602.0" rx="1.7" ry="1.7" fill="#3A1D0A" transform="rotate(110 328.7 602.0)"/><ellipse cx="296.8" cy="610.3" rx="2.1" ry="1.4" fill="#552C10" transform="rotate(59 296.8 610.3)"/><ellipse cx="254.8" cy="609.9" rx="1.7" ry="1.9" fill="#2E1606" transform="rotate(171 254.8 609.9)"/><ellipse cx="322.3" cy="590.7" rx="1.5" ry="1.3" fill="#4A260E" transform="rotate(25 322.3 590.7)"/><ellipse cx="253.8" cy="592.1" rx="2.4" ry="1.9" fill="#552C10" transform="rotate(14 253.8 592.1)"/><ellipse cx="262.4" cy="599.9" rx="1.8" ry="1.7" fill="#4A260E" transform="rotate(102 262.4 599.9)"/><ellipse cx="271.1" cy="620.7" rx="2.2" ry="1.4" fill="#241004" transform="rotate(30 271.1 620.7)"/><ellipse cx="271.8" cy="602.3" rx="2.3" ry="1.3" fill="#3A1D0A" transform="rotate(144 271.8 602.3)"/><ellipse cx="262.1" cy="603.7" rx="2.4" ry="1.9" fill="#4A260E" transform="rotate(41 262.1 603.7)"/><ellipse cx="310.8" cy="630.5" rx="1.5" ry="1.7" fill="#4A260E" transform="rotate(173 310.8 630.5)"/><ellipse cx="275.0" cy="581.2" rx="2.1" ry="1.4" fill="#552C10" transform="rotate(102 275.0 581.2)"/><ellipse cx="301.5" cy="593.3" rx="1.9" ry="1.7" fill="#552C10" transform="rotate(152 301.5 593.3)"/><ellipse cx="286.2" cy="627.3" rx="2.1" ry="1.4" fill="#2E1606" transform="rotate(67 286.2 627.3)"/><ellipse cx="299.5" cy="622.8" rx="1.9" ry="1.7" fill="#4A260E" transform="rotate(150 299.5 622.8)"/><ellipse cx="298.0" cy="589.0" rx="1.9" ry="1.4" fill="#3A1D0A" transform="rotate(8 298.0 589.0)"/><ellipse cx="247.3" cy="634.5" rx="1.9" ry="2.0" fill="#552C10" transform="rotate(89 247.3 634.5)"/><ellipse cx="315.9" cy="629.4" rx="2.2" ry="1.9" fill="#2E1606" transform="rotate(121 315.9 629.4)"/><ellipse cx="328.9" cy="606.3" rx="2.2" ry="1.7" fill="#552C10" transform="rotate(5 328.9 606.3)"/><ellipse cx="294.1" cy="602.8" rx="2.2" ry="1.6" fill="#241004" transform="rotate(146 294.1 602.8)"/><ellipse cx="295.0" cy="634.4" rx="2.4" ry="1.4" fill="#241004" transform="rotate(64 295.0 634.4)"/><ellipse cx="290.9" cy="636.2" rx="2.2" ry="1.3" fill="#552C10" transform="rotate(15 290.9 636.2)"/><ellipse cx="281.2" cy="636.0" rx="1.8" ry="1.4" fill="#4A260E" transform="rotate(85 281.2 636.0)"/><ellipse cx="319.7" cy="600.0" rx="1.9" ry="1.5" fill="#241004" transform="rotate(92 319.7 600.0)"/><ellipse cx="315.0" cy="641.5" rx="1.9" ry="1.5" fill="#241004" transform="rotate(171 315.0 641.5)"/><ellipse cx="300.0" cy="637.9" rx="1.6" ry="2.1" fill="#4A260E" transform="rotate(113 300.0 637.9)"/><ellipse cx="291.7" cy="642.3" rx="2.2" ry="1.5" fill="#4A260E" transform="rotate(92 291.7 642.3)"/><ellipse cx="263.1" cy="615.0" rx="2.2" ry="1.8" fill="#4A260E" transform="rotate(1 263.1 615.0)"/><ellipse cx="268.2" cy="586.8" rx="2.4" ry="1.7" fill="#3A1D0A" transform="rotate(158 268.2 586.8)"/><ellipse cx="337.1" cy="631.8" rx="2.3" ry="1.4" fill="#2E1606" transform="rotate(46 337.1 631.8)"/><ellipse cx="246.6" cy="626.2" rx="1.7" ry="2.1" fill="#2E1606" transform="rotate(81 246.6 626.2)"/><ellipse cx="318.6" cy="596.2" rx="2.0" ry="2.1" fill="#241004" transform="rotate(51 318.6 596.2)"/><ellipse cx="278.6" cy="580.3" rx="1.9" ry="2.1" fill="#3A1D0A" transform="rotate(100 278.6 580.3)"/><ellipse cx="251.5" cy="649.0" rx="1.6" ry="2.1" fill="#3A1D0A" transform="rotate(33 251.5 649.0)"/><ellipse cx="312.8" cy="596.1" rx="2.3" ry="1.5" fill="#4A260E" transform="rotate(11 312.8 596.1)"/><ellipse cx="247.3" cy="644.9" rx="1.6" ry="1.7" fill="#3A1D0A" transform="rotate(5 247.3 644.9)"/><ellipse cx="332.6" cy="594.1" rx="1.5" ry="1.5" fill="#241004" transform="rotate(144 332.6 594.1)"/><ellipse cx="322.3" cy="631.9" rx="1.6" ry="1.7" fill="#3A1D0A" transform="rotate(161 322.3 631.9)"/><ellipse cx="275.1" cy="607.1" rx="2.1" ry="1.4" fill="#2E1606" transform="rotate(73 275.1 607.1)"/><ellipse cx="249.2" cy="601.6" rx="2.2" ry="1.7" fill="#3A1D0A" transform="rotate(144 249.2 601.6)"/><ellipse cx="259.6" cy="627.3" rx="1.6" ry="1.5" fill="#2E1606" transform="rotate(12 259.6 627.3)"/><ellipse cx="280.4" cy="609.2" rx="1.9" ry="2.0" fill="#241004" transform="rotate(7 280.4 609.2)"/><ellipse cx="329.8" cy="578.7" rx="1.5" ry="1.4" fill="#4A260E" transform="rotate(87 329.8 578.7)"/><ellipse cx="246.9" cy="582.6" rx="2.4" ry="1.9" fill="#241004" transform="rotate(112 246.9 582.6)"/><ellipse cx="268.4" cy="598.7" rx="1.9" ry="1.8" fill="#4A260E" transform="rotate(1 268.4 598.7)"/><ellipse cx="287.8" cy="640.2" rx="1.8" ry="1.4" fill="#2E1606" transform="rotate(42 287.8 640.2)"/><ellipse cx="284.4" cy="596.6" rx="1.8" ry="2.0" fill="#241004" transform="rotate(28 284.4 596.6)"/><ellipse cx="264.7" cy="611.3" rx="1.6" ry="2.0" fill="#2E1606" transform="rotate(62 264.7 611.3)"/><ellipse cx="327.0" cy="639.8" rx="2.0" ry="1.8" fill="#552C10" transform="rotate(72 327.0 639.8)"/><ellipse cx="311.5" cy="636.9" rx="2.2" ry="1.3" fill="#3A1D0A" transform="rotate(85 311.5 636.9)"/><ellipse cx="337.4" cy="621.6" rx="1.7" ry="2.0" fill="#3A1D0A" transform="rotate(74 337.4 621.6)"/><ellipse cx="318.6" cy="579.3" rx="1.9" ry="1.3" fill="#2E1606" transform="rotate(38 318.6 579.3)"/><ellipse cx="281.1" cy="626.6" rx="2.4" ry="1.7" fill="#3A1D0A" transform="rotate(60 281.1 626.6)"/><ellipse cx="280.0" cy="617.1" rx="2.1" ry="1.6" fill="#3A1D0A" transform="rotate(157 280.0 617.1)"/><ellipse cx="302.4" cy="617.8" rx="2.4" ry="1.7" fill="#552C10" transform="rotate(103 302.4 617.8)"/><ellipse cx="298.0" cy="648.7" rx="2.1" ry="1.4" fill="#241004" transform="rotate(75 298.0 648.7)"/><ellipse cx="273.2" cy="637.2" rx="2.0" ry="1.8" fill="#4A260E" transform="rotate(86 273.2 637.2)"/><ellipse cx="255.8" cy="588.2" rx="2.4" ry="2.1" fill="#2E1606" transform="rotate(72 255.8 588.2)"/><ellipse cx="320.0" cy="628.7" rx="1.6" ry="1.9" fill="#552C10" transform="rotate(22 320.0 628.7)"/><ellipse cx="262.7" cy="645.9" rx="1.5" ry="1.7" fill="#3A1D0A" transform="rotate(4 262.7 645.9)"/><ellipse cx="271.7" cy="647.8" rx="1.9" ry="1.8" fill="#2E1606" transform="rotate(93 271.7 647.8)"/><ellipse cx="270.3" cy="644.1" rx="1.7" ry="1.4" fill="#3A1D0A" transform="rotate(8 270.3 644.1)"/><ellipse cx="315.2" cy="576.9" rx="1.8" ry="2.0" fill="#2E1606" transform="rotate(90 315.2 576.9)"/><ellipse cx="264.5" cy="628.3" rx="1.6" ry="1.7" fill="#3A1D0A" transform="rotate(28 264.5 628.3)"/><ellipse cx="247.2" cy="617.1" rx="2.2" ry="1.9" fill="#4A260E" transform="rotate(111 247.2 617.1)"/><ellipse cx="289.4" cy="589.5" rx="1.9" ry="2.0" fill="#3A1D0A" transform="rotate(153 289.4 589.5)"/><ellipse cx="298.3" cy="626.6" rx="2.4" ry="1.9" fill="#2E1606" transform="rotate(87 298.3 626.6)"/><ellipse cx="301.3" cy="607.4" rx="2.2" ry="1.7" fill="#2E1606" transform="rotate(116 301.3 607.4)"/><ellipse cx="334.9" cy="618.7" rx="2.0" ry="1.9" fill="#2E1606" transform="rotate(120 334.9 618.7)"/><ellipse cx="292.8" cy="617.2" rx="2.4" ry="1.8" fill="#3A1D0A" transform="rotate(155 292.8 617.2)"/><ellipse cx="294.3" cy="589.9" rx="2.0" ry="1.7" fill="#2E1606" transform="rotate(83 294.3 589.9)"/><ellipse cx="247.4" cy="595.0" rx="1.5" ry="2.1" fill="#3A1D0A" transform="rotate(8 247.4 595.0)"/><ellipse cx="275.0" cy="642.5" rx="1.8" ry="1.5" fill="#2E1606" transform="rotate(13 275.0 642.5)"/><ellipse cx="279.4" cy="584.8" rx="2.4" ry="1.4" fill="#3A1D0A" transform="rotate(167 279.4 584.8)"/><ellipse cx="251.5" cy="614.6" rx="1.5" ry="2.1" fill="#241004" transform="rotate(3 251.5 614.6)"/><ellipse cx="248.4" cy="607.4" rx="1.7" ry="1.5" fill="#3A1D0A" transform="rotate(161 248.4 607.4)"/><ellipse cx="284.7" cy="585.2" rx="2.2" ry="1.8" fill="#2E1606" transform="rotate(68 284.7 585.2)"/><ellipse cx="303.3" cy="623.7" rx="1.5" ry="1.3" fill="#552C10" transform="rotate(5 303.3 623.7)"/><ellipse cx="299.6" cy="613.4" rx="1.5" ry="1.3" fill="#241004" transform="rotate(160 299.6 613.4)"/><ellipse cx="337.9" cy="647.6" rx="2.4" ry="1.4" fill="#2E1606" transform="rotate(92 337.9 647.6)"/><ellipse cx="290.5" cy="579.6" rx="2.0" ry="1.6" fill="#241004" transform="rotate(99 290.5 579.6)"/><ellipse cx="247.5" cy="629.9" rx="1.6" ry="2.0" fill="#2E1606" transform="rotate(40 247.5 629.9)"/><ellipse cx="268.7" cy="594.5" rx="1.5" ry="1.5" fill="#4A260E" transform="rotate(2 268.7 594.5)"/><ellipse cx="247.5" cy="589.3" rx="1.8" ry="1.4" fill="#3A1D0A" transform="rotate(55 247.5 589.3)"/><ellipse cx="269.0" cy="629.2" rx="1.5" ry="1.7" fill="#2E1606" transform="rotate(158 269.0 629.2)"/><ellipse cx="285.9" cy="580.7" rx="1.9" ry="1.9" fill="#241004" transform="rotate(90 285.9 580.7)"/><ellipse cx="329.5" cy="598.3" rx="1.6" ry="1.8" fill="#3A1D0A" transform="rotate(8 329.5 598.3)"/><ellipse cx="322.4" cy="646.2" rx="1.6" ry="1.5" fill="#3A1D0A" transform="rotate(89 322.4 646.2)"/><ellipse cx="296.0" cy="643.9" rx="2.1" ry="2.0" fill="#552C10" transform="rotate(3 296.0 643.9)"/><ellipse cx="319.7" cy="611.3" rx="1.6" ry="1.4" fill="#2E1606" transform="rotate(10 319.7 611.3)"/><ellipse cx="292.4" cy="647.9" rx="2.2" ry="1.9" fill="#241004" transform="rotate(50 292.4 647.9)"/><ellipse cx="251.8" cy="596.2" rx="2.2" ry="2.0" fill="#241004" transform="rotate(109 251.8 596.2)"/><ellipse cx="317.9" cy="604.6" rx="1.7" ry="2.1" fill="#2E1606" transform="rotate(107 317.9 604.6)"/><ellipse cx="296.7" cy="600.1" rx="1.8" ry="1.6" fill="#3A1D0A" transform="rotate(79 296.7 600.1)"/><ellipse cx="251.1" cy="610.2" rx="2.1" ry="2.0" fill="#552C10" transform="rotate(26 251.1 610.2)"/><ellipse cx="337.2" cy="595.4" rx="1.9" ry="1.8" fill="#2E1606" transform="rotate(72 337.2 595.4)"/><ellipse cx="287.3" cy="634.0" rx="2.3" ry="2.0" fill="#4A260E" transform="rotate(117 287.3 634.0)"/><ellipse cx="338.3" cy="582.7" rx="1.6" ry="1.9" fill="#4A260E" transform="rotate(15 338.3 582.7)"/><ellipse cx="300.6" cy="599.0" rx="2.3" ry="1.3" fill="#3A1D0A" transform="rotate(137 300.6 599.0)"/><ellipse cx="291.5" cy="631.2" rx="2.3" ry="1.5" fill="#3A1D0A" transform="rotate(145 291.5 631.2)"/><ellipse cx="259.7" cy="623.3" rx="2.0" ry="1.3" fill="#552C10" transform="rotate(66 259.7 623.3)"/><ellipse cx="307.0" cy="582.4" rx="1.8" ry="1.3" fill="#552C10" transform="rotate(12 307.0 582.4)"/><ellipse cx="276.9" cy="576.4" rx="1.9" ry="2.1" fill="#3A1D0A" transform="rotate(85 276.9 576.4)"/><ellipse cx="256.5" cy="579.2" rx="1.7" ry="1.7" fill="#241004" transform="rotate(42 256.5 579.2)"/><ellipse cx="277.0" cy="593.9" rx="1.7" ry="2.1" fill="#552C10" transform="rotate(133 277.0 593.9)"/><ellipse cx="251.8" cy="581.0" rx="1.9" ry="1.6" fill="#241004" transform="rotate(86 251.8 581.0)"/><ellipse cx="281.6" cy="599.4" rx="2.1" ry="1.6" fill="#4A260E" transform="rotate(147 281.6 599.4)"/><ellipse cx="307.3" cy="604.9" rx="1.6" ry="1.8" fill="#4A260E" transform="rotate(59 307.3 604.9)"/><ellipse cx="312.7" cy="602.7" rx="2.2" ry="1.7" fill="#241004" transform="rotate(20 312.7 602.7)"/><ellipse cx="259.8" cy="642.3" rx="2.1" ry="1.5" fill="#552C10" transform="rotate(162 259.8 642.3)"/><ellipse cx="334.2" cy="613.7" rx="2.1" ry="1.4" fill="#3A1D0A" transform="rotate(64 334.2 613.7)"/><ellipse cx="318.4" cy="592.4" rx="1.7" ry="1.5" fill="#552C10" transform="rotate(73 318.4 592.4)"/><ellipse cx="284.4" cy="630.8" rx="1.9" ry="1.3" fill="#241004" transform="rotate(61 284.4 630.8)"/><ellipse cx="311.8" cy="613.2" rx="1.6" ry="2.1" fill="#3A1D0A" transform="rotate(149 311.8 613.2)"/><ellipse cx="293.3" cy="577.1" rx="1.7" ry="1.9" fill="#2E1606" transform="rotate(130 293.3 577.1)"/><ellipse cx="327.2" cy="631.4" rx="2.0" ry="1.8" fill="#3A1D0A" transform="rotate(136 327.2 631.4)"/><ellipse cx="258.2" cy="638.8" rx="1.6" ry="1.3" fill="#3A1D0A" transform="rotate(153 258.2 638.8)"/><ellipse cx="297.1" cy="630.7" rx="1.5" ry="2.0" fill="#2E1606" transform="rotate(41 297.1 630.7)"/><ellipse cx="262.9" cy="631.8" rx="2.1" ry="2.0" fill="#4A260E" transform="rotate(106 262.9 631.8)"/><ellipse cx="273.7" cy="588.6" rx="2.1" ry="1.8" fill="#2E1606" transform="rotate(174 273.7 588.6)"/><ellipse cx="284.3" cy="614.0" rx="1.6" ry="1.8" fill="#2E1606" transform="rotate(63 284.3 614.0)"/><ellipse cx="266.6" cy="624.4" rx="2.3" ry="2.1" fill="#552C10" transform="rotate(154 266.6 624.4)"/><ellipse cx="260.3" cy="619.2" rx="1.6" ry="1.9" fill="#552C10" transform="rotate(13 260.3 619.2)"/><ellipse cx="305.5" cy="619.9" rx="1.9" ry="1.8" fill="#4A260E" transform="rotate(100 305.5 619.9)"/><ellipse cx="334.6" cy="627.5" rx="2.4" ry="1.5" fill="#2E1606" transform="rotate(68 334.6 627.5)"/><ellipse cx="333.3" cy="576.6" rx="2.0" ry="1.7" fill="#4A260E" transform="rotate(151 333.3 576.6)"/><ellipse cx="323.5" cy="601.0" rx="1.5" ry="1.8" fill="#2E1606" transform="rotate(3 323.5 601.0)"/><ellipse cx="338.3" cy="591.3" rx="1.8" ry="2.0" fill="#3A1D0A" transform="rotate(41 338.3 591.3)"/><ellipse cx="275.1" cy="622.1" rx="2.2" ry="1.7" fill="#4A260E" transform="rotate(148 275.1 622.1)"/><ellipse cx="268.9" cy="640.6" rx="1.6" ry="2.0" fill="#241004" transform="rotate(135 268.9 640.6)"/><ellipse cx="321.2" cy="606.9" rx="2.0" ry="1.5" fill="#241004" transform="rotate(157 321.2 606.9)"/><ellipse cx="295.0" cy="613.7" rx="1.5" ry="1.6" fill="#4A260E" transform="rotate(175 295.0 613.7)"/><ellipse cx="319.2" cy="588.5" rx="1.9" ry="1.5" fill="#3A1D0A" transform="rotate(17 319.2 588.5)"/><ellipse cx="321.4" cy="576.8" rx="2.1" ry="1.7" fill="#4A260E" transform="rotate(15 321.4 576.8)"/><ellipse cx="296.6" cy="606.4" rx="1.9" ry="1.8" fill="#552C10" transform="rotate(179 296.6 606.4)"/><ellipse cx="324.5" cy="608.8" rx="1.5" ry="1.4" fill="#552C10" transform="rotate(36 324.5 608.8)"/><ellipse cx="257.5" cy="591.8" rx="1.5" ry="1.9" fill="#241004" transform="rotate(140 257.5 591.8)"/><ellipse cx="306.3" cy="590.2" rx="1.7" ry="1.3" fill="#2E1606" transform="rotate(179 306.3 590.2)"/><ellipse cx="291.3" cy="620.9" rx="2.2" ry="1.8" fill="#552C10" transform="rotate(61 291.3 620.9)"/><ellipse cx="290.1" cy="626.4" rx="2.1" ry="1.9" fill="#241004" transform="rotate(28 290.1 626.4)"/><ellipse cx="300.0" cy="576.8" rx="1.9" ry="1.6" fill="#552C10" transform="rotate(76 300.0 576.8)"/><ellipse cx="293.6" cy="582.0" rx="2.2" ry="1.8" fill="#2E1606" transform="rotate(112 293.6 582.0)"/><ellipse cx="264.5" cy="606.6" rx="2.1" ry="1.4" fill="#2E1606" transform="rotate(6 264.5 606.6)"/><ellipse cx="323.9" cy="642.2" rx="2.1" ry="1.4" fill="#3A1D0A" transform="rotate(49 323.9 642.2)"/><ellipse cx="320.3" cy="635.2" rx="2.4" ry="1.6" fill="#552C10" transform="rotate(151 320.3 635.2)"/><ellipse cx="281.6" cy="587.9" rx="2.4" ry="1.4" fill="#3A1D0A" transform="rotate(56 281.6 587.9)"/><ellipse cx="303.7" cy="637.6" rx="2.1" ry="1.9" fill="#2E1606" transform="rotate(143 303.7 637.6)"/><ellipse cx="308.7" cy="648.3" rx="2.2" ry="2.1" fill="#552C10" transform="rotate(115 308.7 648.3)"/><ellipse cx="331.5" cy="638.0" rx="2.4" ry="1.9" fill="#552C10" transform="rotate(128 331.5 638.0)"/><ellipse cx="258.0" cy="601.5" rx="2.1" ry="1.5" fill="#2E1606" transform="rotate(141 258.0 601.5)"/><ellipse cx="277.4" cy="634.1" rx="1.7" ry="1.9" fill="#4A260E" transform="rotate(105 277.4 634.1)"/><ellipse cx="265.5" cy="583.8" rx="1.7" ry="1.4" fill="#4A260E" transform="rotate(177 265.5 583.8)"/><ellipse cx="257.9" cy="606.0" rx="2.0" ry="2.0" fill="#4A260E" transform="rotate(31 257.9 606.0)"/><ellipse cx="300.4" cy="584.9" rx="1.9" ry="2.0" fill="#4A260E" transform="rotate(27 300.4 584.9)"/><ellipse cx="331.5" cy="649.0" rx="2.1" ry="1.7" fill="#552C10" transform="rotate(120 331.5 649.0)"/><ellipse cx="312.4" cy="622.2" rx="1.7" ry="1.3" fill="#552C10" transform="rotate(107 312.4 622.2)"/><ellipse cx="314.8" cy="587.1" rx="2.1" ry="1.5" fill="#3A1D0A" transform="rotate(48 314.8 587.1)"/><ellipse cx="267.1" cy="619.9" rx="1.9" ry="1.8" fill="#241004" transform="rotate(113 267.1 619.9)"/><ellipse cx="302.1" cy="648.1" rx="1.5" ry="1.7" fill="#241004" transform="rotate(85 302.1 648.1)"/><ellipse cx="306.5" cy="626.2" rx="2.4" ry="1.8" fill="#552C10" transform="rotate(45 306.5 626.2)"/><ellipse cx="252.2" cy="641.1" rx="1.5" ry="1.7" fill="#3A1D0A" transform="rotate(144 252.2 641.1)"/><ellipse cx="292.1" cy="586.9" rx="2.0" ry="1.3" fill="#4A260E" transform="rotate(86 292.1 586.9)"/><ellipse cx="313.2" cy="618.5" rx="1.6" ry="2.1" fill="#552C10" transform="rotate(106 313.2 618.5)"/><ellipse cx="263.3" cy="580.5" rx="2.3" ry="2.1" fill="#241004" transform="rotate(111 263.3 580.5)"/><ellipse cx="314.6" cy="581.3" rx="2.2" ry="2.1" fill="#3A1D0A" transform="rotate(85 314.6 581.3)"/><ellipse cx="246.8" cy="648.7" rx="2.4" ry="1.4" fill="#4A260E" transform="rotate(11 246.8 648.7)"/><ellipse cx="327.0" cy="582.7" rx="1.9" ry="2.0" fill="#241004" transform="rotate(84 327.0 582.7)"/><ellipse cx="309.3" cy="640.0" rx="1.8" ry="1.9" fill="#241004" transform="rotate(174 309.3 640.0)"/><ellipse cx="282.4" cy="582.2" rx="2.0" ry="1.5" fill="#2E1606" transform="rotate(5 282.4 582.2)"/><ellipse cx="271.4" cy="606.4" rx="2.1" ry="1.5" fill="#552C10" transform="rotate(50 271.4 606.4)"/><ellipse cx="333.2" cy="586.9" rx="2.2" ry="2.0" fill="#3A1D0A" transform="rotate(112 333.2 586.9)"/><ellipse cx="283.6" cy="623.7" rx="1.6" ry="1.8" fill="#241004" transform="rotate(117 283.6 623.7)"/><ellipse cx="263.9" cy="576.6" rx="1.6" ry="1.7" fill="#3A1D0A" transform="rotate(141 263.9 576.6)"/><ellipse cx="338.5" cy="604.4" rx="2.1" ry="1.7" fill="#241004" transform="rotate(9 338.5 604.4)"/><ellipse cx="265.2" cy="592.2" rx="1.9" ry="1.6" fill="#3A1D0A" transform="rotate(55 265.2 592.2)"/><ellipse cx="334.5" cy="641.4" rx="1.5" ry="1.9" fill="#2E1606" transform="rotate(84 334.5 641.4)"/><ellipse cx="246.5" cy="598.6" rx="2.1" ry="1.8" fill="#3A1D0A" transform="rotate(135 246.5 598.6)"/></g>
</g></g>
<rect x="58.6" y="427.5" width="91.9" height="72.2" fill="none" stroke="#C8262E" stroke-width="1.4"/>
<rect x="151.5" y="427.5" width="94.0" height="72.2" fill="none" stroke="#C8262E" stroke-width="1.4"/>
<rect x="246.4" y="427.5" width="92.6" height="72.2" fill="none" stroke="#C8262E" stroke-width="1.4"/>
<rect x="58.6" y="501.3" width="91.9" height="73.3" fill="none" stroke="#E0805A" stroke-width="1.1"/>
<rect x="151.5" y="501.3" width="94.0" height="73.3" fill="none" stroke="#E0805A" stroke-width="1.1"/>
<rect x="246.4" y="501.3" width="92.6" height="73.3" fill="none" stroke="#E0805A" stroke-width="1.1"/>
<rect x="58.6" y="576.3" width="91.9" height="72.7" fill="none" stroke="#5A60C0" stroke-width="1.5"/>
<rect x="151.5" y="576.3" width="94.0" height="72.7" fill="none" stroke="#5A60C0" stroke-width="1.5"/>
<rect x="246.4" y="576.3" width="92.6" height="72.7" fill="none" stroke="#5A60C0" stroke-width="1.5"/>
<text x="360.2" y="419.3" font-size="17" font-weight="bold" font-style="normal" fill="#111" text-anchor="start">D</text>
<path d="M409.6,458.2 L409.6,603.3 L519,603.3" fill="none" stroke="#111" stroke-width="1.4"/>
<line x1="404.0" y1="458.79" x2="409.6" y2="458.79" stroke="#111" stroke-width="1.5"/>
<text x="401.5" y="462.59" font-size="10.4" font-weight="bold" font-style="normal" fill="#1a1a1a" text-anchor="end">300</text>
<line x1="404.0" y1="506.86" x2="409.6" y2="506.86" stroke="#111" stroke-width="1.5"/>
<text x="401.5" y="510.66" font-size="10.4" font-weight="bold" font-style="normal" fill="#1a1a1a" text-anchor="end">200</text>
<line x1="404.0" y1="554.93" x2="409.6" y2="554.93" stroke="#111" stroke-width="1.5"/>
<text x="401.5" y="558.73" font-size="10.4" font-weight="bold" font-style="normal" fill="#1a1a1a" text-anchor="end">100</text>
<text x="401.5" y="606.8" font-size="10.4" font-weight="bold" font-style="normal" fill="#1a1a1a" text-anchor="end">0</text>
<line x1="440.2" y1="603.3" x2="440.2" y2="608" stroke="#111" stroke-width="1.4"/>
<line x1="486.8" y1="603.3" x2="486.8" y2="608" stroke="#111" stroke-width="1.4"/>
<text transform="translate(375.6,532.4) rotate(-90)" font-size="11.5" font-weight="bold" fill="#111" text-anchor="middle">Rb <tspan font-style="italic">H</tspan>-score</text>
<path d="M439.8,450.2 L439.8,446.1 L487.5,446.1 L487.5,450.2" fill="none" stroke="#111" stroke-width="1.3"/>
<text x="455.4" y="446.8" font-size="20" font-weight="normal" font-style="normal" fill="#111" text-anchor="start" textLength="15.4" lengthAdjust="spacingAndGlyphs">**</text>
<path d="M454.20,456.60 L456.04,458.31 L455.96,460.01 L455.43,461.72 L454.76,463.42 L453.94,465.13 L453.11,466.83 L452.37,468.54 L451.64,470.24 L450.92,471.95 L450.23,473.65 L449.56,475.36 L448.89,477.06 L448.24,478.77 L447.65,480.47 L447.15,482.18 L446.74,483.88 L446.38,485.59 L446.07,487.29 L445.82,489.00 L445.60,490.70 L445.42,492.41 L445.29,494.11 L445.20,495.82 L445.12,497.52 L445.10,499.23 L445.18,500.93 L445.34,502.64 L445.53,504.34 L445.74,506.05 L446.03,507.75 L446.32,509.46 L446.49,511.16 L446.50,512.87 L446.48,514.57 L446.44,516.28 L446.40,517.98 L446.31,519.69 L446.14,521.39 L445.94,523.10 L445.73,524.80 L445.55,526.51 L445.36,528.21 L445.17,529.92 L444.98,531.62 L444.82,533.33 L444.71,535.03 L444.64,536.74 L444.58,538.44 L444.54,540.15 L444.49,541.85 L444.45,543.56 L444.39,545.26 L444.34,546.97 L444.28,548.67 L444.21,550.38 L444.09,552.08 L443.78,553.79 L443.15,555.49 L441.40,557.20 L439.00,557.20 L437.25,555.49 L436.62,553.79 L436.31,552.08 L436.19,550.38 L436.12,548.67 L436.06,546.97 L436.01,545.26 L435.95,543.56 L435.91,541.85 L435.86,540.15 L435.82,538.44 L435.76,536.74 L435.69,535.03 L435.58,533.33 L435.42,531.62 L435.23,529.92 L435.04,528.21 L434.85,526.51 L434.67,524.80 L434.46,523.10 L434.26,521.39 L434.09,519.69 L434.00,517.98 L433.96,516.28 L433.92,514.57 L433.90,512.87 L433.91,511.16 L434.08,509.46 L434.37,507.75 L434.66,506.05 L434.87,504.34 L435.06,502.64 L435.22,500.93 L435.30,499.23 L435.28,497.52 L435.20,495.82 L435.11,494.11 L434.98,492.41 L434.80,490.70 L434.58,489.00 L434.33,487.29 L434.02,485.59 L433.66,483.88 L433.25,482.18 L432.75,480.47 L432.16,478.77 L431.51,477.06 L430.84,475.36 L430.17,473.65 L429.48,471.95 L428.76,470.24 L428.03,468.54 L427.29,466.83 L426.46,465.13 L425.64,463.42 L424.97,461.72 L424.44,460.01 L424.36,458.31 L426.20,456.60 Z" fill="none" stroke="#353D9C" stroke-width="0.8" stroke-linejoin="round"/>
<line x1="430.2" y1="475.2" x2="450.2" y2="475.2" stroke="#111" stroke-width="2.3"/>
<line x1="434" y1="513.4" x2="446.6" y2="513.4" stroke="#3442A6" stroke-width="0.9" stroke-dasharray="1.2,1.8"/>
<circle cx="426.3" cy="458.5" r="1.7" fill="#fff" stroke="#3442A6" stroke-width="1.15"/>
<circle cx="431.92" cy="458.5" r="1.7" fill="#fff" stroke="#3442A6" stroke-width="1.15"/>
<circle cx="437.54" cy="458.5" r="1.7" fill="#fff" stroke="#3442A6" stroke-width="1.15"/>
<circle cx="443.16" cy="458.5" r="1.7" fill="#fff" stroke="#3442A6" stroke-width="1.15"/>
<circle cx="448.78000000000003" cy="458.5" r="1.7" fill="#fff" stroke="#3442A6" stroke-width="1.15"/>
<circle cx="454.40000000000003" cy="458.5" r="1.7" fill="#fff" stroke="#3442A6" stroke-width="1.15"/>
<circle cx="440.2" cy="473.2" r="1.7" fill="#fff" stroke="#3442A6" stroke-width="1.15"/>
<circle cx="440.2" cy="477.9" r="1.7" fill="#fff" stroke="#3442A6" stroke-width="1.15"/>
<circle cx="440.2" cy="482.5" r="1.7" fill="#fff" stroke="#3442A6" stroke-width="1.15"/>
<circle cx="440.2" cy="506.8" r="1.7" fill="#fff" stroke="#3442A6" stroke-width="1.15"/>
<circle cx="440.2" cy="511.7" r="1.7" fill="#fff" stroke="#3442A6" stroke-width="1.15"/>
<circle cx="440.2" cy="516.3" r="1.7" fill="#fff" stroke="#3442A6" stroke-width="1.15"/>
<circle cx="440.2" cy="535.2" r="1.7" fill="#fff" stroke="#3442A6" stroke-width="1.15"/>
<circle cx="440.2" cy="554.9" r="1.7" fill="#fff" stroke="#3442A6" stroke-width="1.15"/>
<path d="M487.90,455.00 L489.64,457.28 L490.06,459.56 L490.28,461.84 L490.45,464.13 L490.64,466.41 L490.85,468.69 L491.05,470.97 L491.27,473.25 L491.51,475.53 L491.79,477.81 L492.15,480.09 L492.60,482.38 L493.07,484.66 L493.52,486.94 L493.91,489.22 L494.34,491.50 L494.68,493.78 L494.80,496.06 L494.73,498.35 L494.60,500.63 L494.43,502.91 L494.16,505.19 L493.81,507.47 L493.41,509.75 L493.00,512.03 L492.61,514.32 L492.18,516.60 L491.73,518.88 L491.30,521.16 L490.96,523.44 L490.72,525.72 L490.51,528.00 L490.40,530.28 L490.49,532.57 L490.78,534.85 L491.15,537.13 L491.57,539.41 L492.11,541.69 L492.77,543.97 L493.49,546.25 L494.26,548.54 L495.15,550.82 L496.11,553.10 L497.06,555.38 L498.05,557.66 L499.03,559.94 L499.88,562.22 L500.57,564.51 L501.18,566.79 L501.61,569.07 L501.93,571.35 L502.15,573.63 L502.20,575.91 L502.14,578.19 L502.03,580.47 L501.86,582.76 L501.33,585.04 L499.82,587.32 L492.70,589.60 L480.70,589.60 L473.58,587.32 L472.07,585.04 L471.54,582.76 L471.37,580.47 L471.26,578.19 L471.20,575.91 L471.25,573.63 L471.47,571.35 L471.79,569.07 L472.22,566.79 L472.83,564.51 L473.52,562.22 L474.37,559.94 L475.35,557.66 L476.34,555.38 L477.29,553.10 L478.25,550.82 L479.14,548.54 L479.91,546.25 L480.63,543.97 L481.29,541.69 L481.83,539.41 L482.25,537.13 L482.62,534.85 L482.91,532.57 L483.00,530.28 L482.89,528.00 L482.68,525.72 L482.44,523.44 L482.10,521.16 L481.67,518.88 L481.22,516.60 L480.79,514.32 L480.40,512.03 L479.99,509.75 L479.59,507.47 L479.24,505.19 L478.97,502.91 L478.80,500.63 L478.67,498.35 L478.60,496.06 L478.72,493.78 L479.06,491.50 L479.49,489.22 L479.88,486.94 L480.33,484.66 L480.80,482.38 L481.25,480.09 L481.61,477.81 L481.89,475.53 L482.13,473.25 L482.35,470.97 L482.55,468.69 L482.76,466.41 L482.95,464.13 L483.12,461.84 L483.34,459.56 L483.76,457.28 L485.50,455.00 Z" fill="none" stroke="#F28A1E" stroke-width="0.8" stroke-linejoin="round"/>
<line x1="475.1" y1="562.3" x2="499.2" y2="562.3" stroke="#111" stroke-width="2.2"/>
<line x1="479.6" y1="495.8" x2="494.4" y2="495.8" stroke="#111" stroke-width="1.0" stroke-dasharray="1.2,2.0"/>
<line x1="471.7" y1="580.3" x2="502.4" y2="580.3" stroke="#111" stroke-width="1.0" stroke-dasharray="1.2,2.0"/>
<circle cx="486.7" cy="458.4" r="2.25" fill="#F28A1E" stroke="none" stroke-width="0"/>
<circle cx="486.7" cy="492.7" r="2.25" fill="#F28A1E" stroke="none" stroke-width="0"/>
<circle cx="486.7" cy="496.9" r="2.25" fill="#F28A1E" stroke="none" stroke-width="0"/>
<circle cx="486.7" cy="511.3" r="2.25" fill="#F28A1E" stroke="none" stroke-width="0"/>
<circle cx="486.7" cy="557.6" r="2.25" fill="#F28A1E" stroke="none" stroke-width="0"/>
<circle cx="486.7" cy="566.9" r="2.25" fill="#F28A1E" stroke="none" stroke-width="0"/>
<circle cx="486.7" cy="573.9" r="2.25" fill="#F28A1E" stroke="none" stroke-width="0"/>
<circle cx="486.7" cy="577.1" r="2.25" fill="#F28A1E" stroke="none" stroke-width="0"/>
<circle cx="486.7" cy="580.3" r="2.25" fill="#F28A1E" stroke="none" stroke-width="0"/>
<circle cx="486.7" cy="583.4" r="2.25" fill="#F28A1E" stroke="none" stroke-width="0"/>
<circle cx="486.7" cy="588.7" r="2.25" fill="#F28A1E" stroke="none" stroke-width="0"/>
<text x="425.4" y="620.4" font-size="10.8" font-weight="normal" font-style="normal" fill="#262626" text-anchor="start" textLength="14.0" lengthAdjust="spacingAndGlyphs">Rb</text>
<text x="440.0" y="616.6" font-size="7.0" font-weight="normal" font-style="normal" fill="#262626" text-anchor="start" textLength="11.2" lengthAdjust="spacingAndGlyphs">exp</text>
<text x="425.4" y="635.6" font-size="10.8" font-weight="normal" font-style="italic" fill="#262626" text-anchor="start" textLength="19.6" lengthAdjust="spacingAndGlyphs">RB1</text>
<text x="446.79999999999995" y="631.8" font-size="7.0" font-weight="normal" font-style="normal" fill="#262626" text-anchor="start" textLength="10.4" lengthAdjust="spacingAndGlyphs">WT</text>
<text x="472.8" y="620.4" font-size="10.8" font-weight="normal" font-style="normal" fill="#262626" text-anchor="start" textLength="14.0" lengthAdjust="spacingAndGlyphs">Rb</text>
<text x="487.40000000000003" y="616.6" font-size="7.0" font-weight="normal" font-style="normal" fill="#262626" text-anchor="start" textLength="11.2" lengthAdjust="spacingAndGlyphs">exp</text>
<text x="472.8" y="635.6" font-size="10.8" font-weight="normal" font-style="italic" fill="#262626" text-anchor="start" textLength="19.6" lengthAdjust="spacingAndGlyphs">RB1</text>
<text x="494.2" y="631.8" font-size="7.0" font-weight="normal" font-style="normal" fill="#262626" text-anchor="start" textLength="12.4" lengthAdjust="spacingAndGlyphs">mut</text>
</svg>
</body>
</html>
